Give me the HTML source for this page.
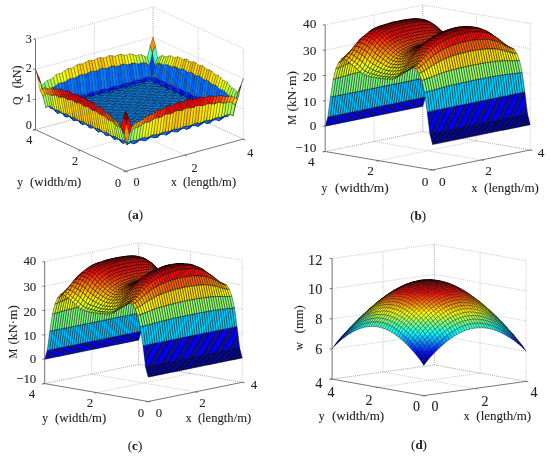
<!DOCTYPE html>
<html><head><meta charset="utf-8"><style>
html,body{margin:0;padding:0;background:#fff;width:550px;height:457px;overflow:hidden}
svg{display:block}
.g{stroke:#a0a0a0;stroke-width:0.65;stroke-dasharray:0.9 1.2;fill:none}
.ax{stroke:#666;stroke-width:0.9;fill:none}
text{font-family:"Liberation Serif",serif;fill:#222;stroke:#222;stroke-width:0.08px}
.c0{fill:#00008f}.c1{fill:#00009f}.c2{fill:#0000af}.c3{fill:#0000bf}.c4{fill:#0000cf}.c5{fill:#0000df}.c6{fill:#0000ef}.c7{fill:#0000ff}.c8{fill:#0010ff}.c9{fill:#0020ff}.c10{fill:#0030ff}.c11{fill:#0040ff}.c12{fill:#0050ff}.c13{fill:#0060ff}.c14{fill:#0070ff}.c15{fill:#0080ff}.c16{fill:#008fff}.c17{fill:#009fff}.c18{fill:#00afff}.c19{fill:#00bfff}.c20{fill:#00cfff}.c21{fill:#00dfff}.c22{fill:#00efff}.c23{fill:#00ffff}.c24{fill:#10ffef}.c25{fill:#20ffdf}.c26{fill:#30ffcf}.c27{fill:#40ffbf}.c28{fill:#50ffaf}.c29{fill:#60ff9f}.c30{fill:#70ff8f}.c31{fill:#80ff80}.c32{fill:#8fff70}.c33{fill:#9fff60}.c34{fill:#afff50}.c35{fill:#bfff40}.c36{fill:#cfff30}.c37{fill:#dfff20}.c38{fill:#efff10}.c39{fill:#ffff00}.c40{fill:#ffef00}.c41{fill:#ffdf00}.c42{fill:#ffcf00}.c43{fill:#ffbf00}.c44{fill:#ffaf00}.c45{fill:#ff9f00}.c46{fill:#ff8f00}.c47{fill:#ff8000}.c48{fill:#ff7000}.c49{fill:#ff6000}.c50{fill:#ff5000}.c51{fill:#ff4000}.c52{fill:#ff3000}.c53{fill:#ff2000}.c54{fill:#ff1000}.c55{fill:#ff0000}.c56{fill:#ef0000}.c57{fill:#df0000}.c58{fill:#cf0000}.c59{fill:#bf0000}.c60{fill:#af0000}.c61{fill:#9f0000}.c62{fill:#8f0000}.c63{fill:#800000}
</style></head><body><svg width="550" height="457" viewBox="0 0 550 457"><line x1="184.5" y1="155.1" x2="94.3" y2="113.6" class="g"/><line x1="243.3" y1="139.1" x2="153.1" y2="97.6" class="g"/><line x1="80.6" y1="150.4" x2="198.2" y2="118.3" class="g"/><line x1="35.5" y1="129.7" x2="153.1" y2="97.6" class="g"/><line x1="94.3" y1="113.6" x2="94.3" y2="22.9" class="g"/><line x1="153.1" y1="97.6" x2="153.1" y2="6.9" class="g"/><line x1="35.5" y1="129.7" x2="153.1" y2="97.6" class="g"/><line x1="35.5" y1="99.5" x2="153.1" y2="67.4" class="g"/><line x1="35.5" y1="69.2" x2="153.1" y2="37.1" class="g"/><line x1="35.5" y1="39.0" x2="153.1" y2="6.9" class="g"/><line x1="243.3" y1="139.1" x2="243.3" y2="48.4" class="g"/><line x1="198.2" y1="118.3" x2="198.2" y2="27.7" class="g"/><line x1="153.1" y1="97.6" x2="153.1" y2="6.9" class="g"/><line x1="243.3" y1="139.1" x2="153.1" y2="97.6" class="g"/><line x1="243.3" y1="108.9" x2="153.1" y2="67.4" class="g"/><line x1="243.3" y1="78.6" x2="153.1" y2="37.1" class="g"/><line x1="243.3" y1="48.4" x2="153.1" y2="6.9" class="g"/><g transform="scale(.1)" stroke="#000" stroke-width="3.2" stroke-linejoin="round"><path class="c11" d="M1517 786l30-129-23-131-29 129z"/><path class="c14" d="M1488 771l29 15-22-131-30-23z"/><path class="c9" d="M1510 814l30-41-23 13-29-15z"/><path class="c28" d="M1495 655l29-129-22-71-30 119z"/><path class="c14" d="M1540 773l29-136-22 20-30 129z"/><path class="c33" d="M1465 632l30 23-23-81-29-14z"/><path class="c28" d="M1547 657l29-79-22-121-30 69z"/><path class="c46" d="M1524 526l30-69-23-86-29 84z"/><path class="c33" d="M1569 637l30-70-23 11-29 79z"/><path class="c10" d="M1481 815l29-1-22-43-29 1z"/><path class="c15" d="M1459 772l29-1-23-139-29-9z"/><path class="c10" d="M1533 818l29-41-22-4-30 41z"/><path class="c35" d="M1436 623l29 9-22-72-30-15z"/><path class="c15" d="M1562 777l30-147-23 7-29 136z"/><path class="c8" d="M1452 838l29-23-22-43-30 15z"/><path class="c15" d="M1504 793l29 25-23-4-29 1z"/><path class="c14" d="M1429 787l30-15-23-149-29 9z"/><path class="c8" d="M1556 842l29-48-23-17-29 41z"/><path class="c35" d="M1592 630l29-75-22 12-30 70z"/><path class="c7" d="M1422 855l30-17-23-51-29 13z"/><path class="c35" d="M1407 632l29-9-23-78-29 5z"/><path class="c14" d="M1585 794l29-153-22-11-30 147z"/><path class="c13" d="M1400 800l29-13-22-155-30 7zM1526 817l30 25-23-24-29-25z"/><path class="c7" d="M1578 862l30-53-23-15-29 48z"/><path class="c9" d="M1393 846l29 9-22-55-30-1z"/><path class="c35" d="M1377 639l30-7-23-82-29 4zM1614 641l30-79-23-7-29 75z"/><path class="c13" d="M1445 822l29-8-22 24-30 17z"/><path class="c15" d="M1370 799l30 1-23-161-29-9z"/><path class="c13" d="M1608 809l29-159-23-9-29 153zM1549 827l29 35-22-20-30-25z"/><path class="c16" d="M1497 803l29 14-22-24-30 21z"/><path class="c10" d="M1363 850l30-4-23-47-29 6z"/><path class="c9" d="M1601 855l29-44-22-2-30 53z"/><path class="c38" d="M1348 630l29 9-22-85-30-12z"/><path class="c15" d="M1415 817l30 5-23 33-29-9z"/><path class="c35" d="M1637 650l29-82-22-6-30 79z"/><path class="c15" d="M1341 805l29-6-22-169-30 0zM1630 811l29-167-22 6-29 159z"/><path class="c7" d="M1334 877l29-27-22-45-29 18z"/><path class="c15" d="M1571 824l30 31-23 7-29-35z"/><path class="c39" d="M1318 630l30 0-23-88-29-3z"/><path class="c13" d="M1312 823l29-18-23-175-29 15z"/><path class="c10" d="M1623 862l30-43-23-8-29 44z"/><path class="c7" d="M1305 882l29-5-22-54-30 6z"/><path class="c38" d="M1659 644l30-86-23 10-29 82z"/><path class="c15" d="M1438 826l29-15-22 11-30-5z"/><path class="c13" d="M1357 846l29-8-23 12-29 27z"/><path class="c15" d="M1653 819l29-172-23-3-29 167z"/><path class="c38" d="M1289 645l29-15-22-91-30 12z"/><path class="c14" d="M1282 829l30-6-23-178-29 1z"/><path class="c16" d="M1490 821l29-8-22-10-30 8z"/><path class="c13" d="M1594 848l29 14-22-7-30-31z"/><path class="c7" d="M1646 891l29-52-22-20-30 43z"/><path class="c10" d="M1275 872l30 10-23-53-29-1z"/><path class="c16" d="M1409 827l29-1-23-9-29 21z"/><path class="c15" d="M1327 841l30 5-23 31-29 5zM1460 836l30-15-23-10-29 15z"/><path class="c39" d="M1260 646l29-1-23-94-29-1zM1682 647l29-89-22 0-30 86z"/><path class="c15" d="M1253 828l29 1-22-183-30-6z"/><path class="c13" d="M1675 839l30-175-23-17-29 172zM1616 858l30 33-23-29-29-14z"/><path class="c15" d="M1512 838l30-8-23-17-29 8z"/><path class="c16" d="M1564 834l30 14-23-24-29 6zM1379 835l30-8-23 11-29 8z"/><path class="c7" d="M1668 898l30-50-23-9-29 52z"/><path class="c9" d="M1246 890l29-18-22-44-30 13z"/><path class="c13" d="M1298 862l29-21-22 41-30-10z"/><path class="c16" d="M1431 837l29-1-22-10-29 1z"/><path class="c41" d="M1230 640l30 6-23-96-29-9z"/><path class="c14" d="M1223 841l30-13-23-188-29 10z"/><path class="c17" d="M1483 833l29 5-22-17-30 15z"/><path class="c38" d="M1705 664l29-92-23-14-29 89z"/><path class="c7" d="M1216 912l30-22-23-49-29 15z"/><path class="c14" d="M1698 848l29-180-22-4-30 175z"/><path class="c15" d="M1639 855l29 43-22-7-30-33z"/><path class="c16" d="M1535 842l29-8-22-4-30 8z"/><path class="c13" d="M1268 870l30-8-23 10-29 18z"/><path class="c10" d="M1691 891l29-41-22-2-30 50z"/><path class="c16" d="M1402 845l29-8-22-10-30 8z"/><path class="c13" d="M1194 856l29-15-22-191-30 14z"/><path class="c15" d="M1454 854l29-21-23 3-29 1z"/><path class="c41" d="M1201 650l29-10-22-99-30 9z"/><path class="c9" d="M1187 906l29 6-22-56-30 1z"/><path class="c16" d="M1320 851l30-1-23-9-29 21z"/><path class="c15" d="M1506 857l29-15-23-4-29-5z"/><path class="c39" d="M1727 668l29-94-22-2-29 92z"/><path class="c15" d="M1239 865l29 5-22 20-30 22zM1720 850l30-187-23 5-29 180z"/><path class="c16" d="M1558 852l29-8-23-10-29 8z"/><path class="c15" d="M1372 860l30-15-23-10-29 15z"/><path class="c14" d="M1164 857l30-1-23-192-29-4z"/><path class="c15" d="M1424 862l30-8-23-17-29 8z"/><path class="c40" d="M1171 664l30-14-23-100-29 12z"/><path class="c9" d="M1713 911l30-46-23-15-29 41z"/><path class="c16" d="M1291 859l29-8-22 11-30 8z"/><path class="c10" d="M1158 905l29 1-23-49-29 4z"/><path class="c16" d="M1476 858l30-1-23-24-29 21z"/><path class="c15" d="M1528 867l30-15-23-10-29 15z"/><path class="c16" d="M1343 861l29-1-22-10-30 1z"/><path class="c15" d="M1580 869l30-8-23-17-29 8z"/><path class="c13" d="M1684 889l29 22-22-20-30-12z"/><path class="c41" d="M1750 663l29-96-23 7-29 94z"/><path class="c14" d="M1743 865l29-189-22-13-30 187z"/><path class="c17" d="M1395 857l29 5-22-17-30 15z"/><path class="c15" d="M1135 861l29-4-22-197-29 0z"/><path class="c41" d="M1142 660l29 4-22-102-30-5z"/><path class="c16" d="M1632 865l29 14-22-24-29 6z"/><path class="c7" d="M1736 935l29-53-22-17-30 46zM1128 930l30-25-23-44-29 16z"/><path class="c15" d="M1262 874l29-15-23 11-29-5z"/><path class="c16" d="M1447 866l29-8-22-4-30 8zM1499 868l29-1-22-10-30 1zM1314 869l29-8-23-10-29 8z"/><path class="c17" d="M1551 864l29 5-22-17-30 15z"/><path class="c14" d="M1106 877l29-16-22-201-30 17z"/><path class="c15" d="M1365 878l30-21-23 3-29 1z"/><path class="c7" d="M1099 941l29-11-22-53-30 10z"/><path class="c13" d="M1765 882l30-190-23-16-29 189z"/><path class="c16" d="M1603 873l29-8-22-4-30 8z"/><path class="c15" d="M1707 886l29 49-23-24-29-22z"/><path class="c43" d="M1113 660l29 0-23-103-29-1z"/><path class="c16" d="M1232 875l30-1-23-9-29 21z"/><path class="c15" d="M1417 881l30-15-23-4-29-5z"/><path class="c16" d="M1655 875l29 14-23-10-29-14z"/><path class="c41" d="M1772 676l30-98-23-11-29 96z"/><path class="c9" d="M1759 932l29-47-23-3-29 53z"/><path class="c15" d="M1151 889l29 5-22 11-30 25z"/><path class="c16" d="M1469 876l30-8-23-10-29 8z"/><path class="c15" d="M1284 884l30-15-23-10-29 15z"/><path class="c13" d="M1076 887l30-10-23-200-29 9z"/><path class="c15" d="M1521 885l30-21-23 3-29 1zM1336 886l29-8-22-17-29 8z"/><path class="c10" d="M1069 931l30 10-23-54-29-1z"/><path class="c15" d="M1573 888l30-15-23-4-29-5z"/><path class="c41" d="M1083 677l30-17-23-104-29 16z"/><path class="c16" d="M1388 882l29-1-22-24-30 21z"/><path class="c13" d="M1121 911l30-22-23 41-29 11zM1729 910l30 22-23 3-29-49z"/><path class="c14" d="M1788 885l29-194-22 1-30 190z"/><path class="c16" d="M1625 883l30-8-23-10-29 8z"/><path class="c15" d="M1440 891l29-15-22-10-30 15z"/><path class="c40" d="M1795 692l29-100-22-14-30 98z"/><path class="c16" d="M1255 885l29-1-22-10-30 1z"/><path class="c15" d="M1492 893l29-8-22-17-30 8z"/><path class="c10" d="M1781 933l29-42-22-6-29 47z"/><path class="c15" d="M1047 886l29 1-22-201-30-5z"/><path class="c17" d="M1307 881l29 5-22-17-30 15z"/><path class="c41" d="M1054 686l29-9-22-105-30 8z"/><path class="c16" d="M1544 889l29-1-22-24-30 21z"/><path class="c15" d="M1173 898l30-15-23 11-29-5z"/><path class="c16" d="M1359 890l29-8-23-4-29 8z"/><path class="c9" d="M1040 942l29-11-22-45-30 9z"/><path class="c13" d="M1092 919l29-8-22 30-30-10z"/><path class="c15" d="M1596 898l29-15-22-10-30 15z"/><path class="c16" d="M1411 892l29-1-23-10-29 1zM1225 893l30-8-23-10-29 8z"/><path class="c15" d="M1648 901l29-8-22-18-30 8z"/><path class="c13" d="M1752 920l29 13-22-1-30-22z"/><path class="c17" d="M1462 888l30 5-23-17-29 15z"/><path class="c15" d="M1810 891l30-198-23-2-29 194z"/><path class="c41" d="M1817 691l30-101-23 2-29 100z"/><path class="c16" d="M1700 896l29 14-22-24-30 7z"/><path class="c15" d="M1277 902l30-21-23 3-29 1zM1017 895l30-9-23-205-29 10z"/><path class="c7" d="M1011 967l29-25-23-47-29 17z"/><path class="c16" d="M1514 897l30-8-23-4-29 8z"/><path class="c7" d="M1804 960l29-50-23-19-29 42z"/><path class="c16" d="M1144 899l29-1-22-9-30 22z"/><path class="c43" d="M1024 681l30 5-23-106-29-5z"/><path class="c15" d="M1329 905l30-15-23-4-29-5z"/><path class="c16" d="M1566 899l30-1-23-10-29 1z"/><path class="c15" d="M1063 913l29 6-23 12-29 11z"/><path class="c16" d="M1381 900l30-8-23-10-29 8z"/><path class="c15" d="M1196 908l29-15-22-10-30 15z"/><path class="c17" d="M1618 895l30 6-23-18-29 15z"/><path class="c15" d="M1433 910l29-22-22 3-29 1z"/><path class="c13" d="M988 912l29-17-22-204-29 19z"/><path class="c15" d="M1248 911l29-9-22-17-30 8z"/><path class="c16" d="M1670 904l30-8-23-3-29 8z"/><path class="c8" d="M981 966l30 1-23-55-29 3z"/><path class="c15" d="M1774 917l30 43-23-27-29-13zM1485 912l29-15-22-4-30-5z"/><path class="c16" d="M1115 907l29-8-23 12-29 8z"/><path class="c14" d="M1833 910l29-197-22-20-30 198z"/><path class="c16" d="M1300 906l29-1-22-24-30 21z"/><path class="c7" d="M1826 974l30-52-23-12-29 50z"/><path class="c43" d="M995 691l29-10-22-106-30 9z"/><path class="c13" d="M1033 935l30-22-23 29-29 25z"/><path class="c43" d="M1840 693l29-102-22-1-30 101z"/><path class="c16" d="M1537 907l29-8-22-10-30 8z"/><path class="c15" d="M1352 915l29-15-22-10-30 15z"/><path class="c16" d="M1166 909l30-1-23-10-29 1z"/><path class="c15" d="M1589 917l29-22-22 3-30 1zM1404 918l29-8-22-18-30 8z"/><path class="c14" d="M959 915l29-3-22-202-30 2z"/><path class="c17" d="M1218 905l30 6-23-18-29 15z"/><path class="c15" d="M1641 919l29-15-22-3-30-6z"/><path class="c16" d="M1456 913l29-1-23-24-29 22z"/><path class="c41" d="M966 710l29-19-23-107-29 18z"/><path class="c10" d="M952 960l29 6-22-51-30 1z"/><path class="c16" d="M1270 914l30-8-23-4-29 9z"/><path class="c13" d="M1004 943l29-8-22 32-30-1zM1856 922l29-198-23-11-29 197z"/><path class="c16" d="M1693 914l29-8-22-10-30 8z"/><path class="c15" d="M1508 922l29-15-23-10-29 15z"/><path class="c16" d="M1322 916l30-1-23-10-29 1zM1137 917l29-8-22-10-29 8z"/><path class="c10" d="M1849 966l29-43-22-1-30 52z"/><path class="c41" d="M1862 713l30-103-23-19-29 102z"/><path class="c15" d="M1560 925l29-8-23-18-29 8z"/><path class="c17" d="M1374 912l30 6-23-18-29 15z"/><path class="c15" d="M1189 927l29-22-22 3-30 1zM929 916l30-1-23-203-29 0z"/><path class="c16" d="M1612 920l29-1-23-24-29 22zM1426 921l30-8-23-3-29 8z"/><path class="c42" d="M936 712l30-2-23-108-29 3z"/><path class="c16" d="M1056 923l29-1-22-9-30 22z"/><path class="c8" d="M922 982l30-22-23-44-29 15z"/><path class="c15" d="M1241 929l29-15-22-3-30-6zM1663 929l30-15-23-10-29 15z"/><path class="c16" d="M1478 923l30-1-23-10-29 1z"/><path class="c15" d="M974 937l30 6-23 23-29-6z"/><path class="c16" d="M1293 924l29-8-22-10-30 8z"/><path class="c15" d="M1108 932l29-15-22-10-30 15z"/><path class="c13" d="M1819 951l30 15-23 8-29-33z"/><path class="c15" d="M1715 932l30-8-23-18-29 8z"/><path class="c17" d="M1530 919l30 6-23-18-29 15z"/><path class="c15" d="M1878 923l30-202-23 3-29 198z"/><path class="c16" d="M1767 927l30 14-23-24-29 7z"/><path class="c15" d="M1345 934l29-22-22 3-30 1zM1160 935l29-8-23-18-29 8z"/><path class="c41" d="M1885 724l29-104-22-10-30 103z"/><path class="c14" d="M900 931l29-15-22-204-30 18z"/><path class="c16" d="M1582 928l30-8-23-3-29 8z"/><path class="c7" d="M893 999l29-17-22-51-30 13z"/><path class="c9" d="M1871 980l30-45-23-12-29 43z"/><path class="c15" d="M1397 936l29-15-22-3-30-6z"/><path class="c16" d="M1026 931l30-8-23 12-29 8zM1212 930l29-1-23-24-29 22z"/><path class="c43" d="M907 712l29 0-22-107-30 0z"/><path class="c16" d="M1634 931l29-2-22-10-29 1zM1449 932l29-9-22-10-30 8z"/><path class="c15" d="M1264 939l29-15-23-10-29 15z"/><path class="c16" d="M1078 933l30-1-23-10-29 1z"/><path class="c17" d="M1686 926l29 6-22-18-30 15z"/><path class="c15" d="M1501 941l29-22-22 3-30 1zM1315 942l30-8-23-18-29 8z"/><path class="c13" d="M870 944l30-13-23-201-29 15z"/><path class="c17" d="M1130 929l30 6-23-18-29 15z"/><path class="c16" d="M1738 935l29-8-22-3-30 8z"/><path class="c15" d="M1553 943l29-15-22-3-30-6zM1842 948l29 32-22-14-30-15z"/><path class="c9" d="M864 990l29 9-23-55-29-1z"/><path class="c16" d="M1790 938l29 13-22-10-30-14zM1367 937l30-1-23-24-29 22z"/><path class="c15" d="M1901 935l29-202-22-12-30 202zM997 946l29-15-22 12-30-6z"/><path class="c16" d="M1182 938l30-8-23-3-29 8z"/><path class="c42" d="M877 730l30-18-23-107-29 18z"/><path class="c7" d="M1894 1007l29-53-22-19-30 45z"/><path class="c13" d="M916 967l29-8-23 23-29 17z"/><path class="c43" d="M1908 721l29-104-23 3-29 104z"/><path class="c16" d="M1605 939l29-8-22-11-30 8z"/><path class="c15" d="M1419 946l30-14-23-11-29 15z"/><path class="c16" d="M1234 941l30-2-23-10-29 1zM1049 941l29-8-22-10-30 8z"/><path class="c15" d="M1657 948l29-22-23 3-29 2zM1471 949l30-8-23-18-29 9z"/><path class="c17" d="M1286 936l29 6-22-18-29 15z"/><path class="c15" d="M841 943l29 1-22-199-29-1zM1101 951l29-22-22 3-30 1zM1709 950l29-15-23-3-29-6z"/><path class="c16" d="M1523 944l30-1-23-24-29 22z"/><path class="c41" d="M848 745l29-15-22-107-30 16z"/><path class="c16" d="M1338 945l29-8-22-3-30 8zM968 947l29-1-23-9-29 22z"/><path class="c15" d="M1153 953l29-15-22-3-30-6z"/><path class="c10" d="M834 995l30-5-23-47-29 7z"/><path class="c13" d="M1864 972l30 35-23-27-29-32z"/><path class="c16" d="M1760 946l30-8-23-11-29 8z"/><path class="c15" d="M1575 953l30-14-23-11-29 15z"/><path class="c13" d="M1923 954l30-200-23-21-29 202z"/><path class="c15" d="M886 961l30 6-23 32-29-9z"/><path class="c16" d="M1390 948l29-2-22-10-30 1z"/><path class="c8" d="M1916 1008l30-48-23-6-29 53z"/><path class="c16" d="M1205 949l29-8-22-11-30 8z"/><path class="c15" d="M1019 956l30-15-23-10-29 15zM1627 956l30-8-23-17-29 8z"/><path class="c17" d="M1442 943l29 6-22-17-30 14z"/><path class="c43" d="M1930 733l29-105-22-11-29 104z"/><path class="c15" d="M1257 958l29-22-22 3-30 2zM1071 959l30-8-23-18-29 8zM812 950l29-7-22-199-30 8z"/><path class="c16" d="M1679 951l30-1-23-24-29 22zM1494 952l29-8-22-3-30 8z"/><path class="c42" d="M819 744l29 1-23-106-29 0z"/><path class="c7" d="M805 1021l29-26-22-45-30 17z"/><path class="c15" d="M1309 960l29-15-23-3-29-6z"/><path class="c16" d="M1123 954l30-1-23-24-29 22z"/><path class="c15" d="M1731 960l29-14-22-11-29 15z"/><path class="c16" d="M1546 955l29-2-22-10-30 1z"/><path class="c13" d="M1887 983l29 25-22-1-30-35z"/><path class="c16" d="M1361 956l29-8-23-11-29 8z"/><path class="c13" d="M857 983l29-22-22 29-30 5z"/><path class="c15" d="M1175 963l30-14-23-11-29 15zM1783 963l29-8-22-17-30 8z"/><path class="c16" d="M990 958l29-2-22-10-29 1z"/><path class="c14" d="M1946 960l29-201-22-5-30 200z"/><path class="c17" d="M1598 950l29 6-22-17-30 14z"/><path class="c16" d="M1835 958l29 14-22-24-30 7z"/><path class="c15" d="M1413 965l29-22-23 3-29 2zM1227 966l30-8-23-17-29 8z"/><path class="c13" d="M782 967l30-17-23-198-29 22z"/><path class="c17" d="M1042 953l29 6-22-18-30 15z"/><path class="c16" d="M1650 959l29-8-22-3-30 8z"/><path class="c41" d="M1953 754l29-105-23-21-29 105z"/><path class="c10" d="M1939 1005l29-42-22-3-30 48z"/><path class="c15" d="M1465 967l29-15-23-3-29-6z"/><path class="c16" d="M1279 961l30-1-23-24-29 22z"/><path class="c42" d="M789 752l30-8-23-105-29 10z"/><path class="c15" d="M909 970l29-15-22 12-30-6z"/><path class="c16" d="M1094 962l29-8-22-3-30 8zM1702 962l29-2-22-10-30 1zM1516 963l30-8-23-11-29 8z"/><path class="c15" d="M1331 970l30-14-23-11-29 15z"/><path class="c16" d="M1146 965l29-2-22-10-30 1z"/><path class="c17" d="M1754 957l29 6-23-17-29 14z"/><path class="c16" d="M961 966l29-8-22-11-30 8z"/><path class="c15" d="M1568 972l30-22-23 3-29 2zM1383 973l30-8-23-17-29 8z"/><path class="c14" d="M753 974l29-7-22-193-30 9z"/><path class="c17" d="M1198 960l29 6-22-17-30 14z"/><path class="c16" d="M1806 966l29-8-23-3-29 8z"/><path class="c15" d="M1013 975l29-22-23 3-29 2zM1910 979l29 26-23 3-29-25zM1620 974l30-15-23-3-29-6z"/><path class="c16" d="M1858 969l29 14-23-11-29-14z"/><path class="c40" d="M760 774l29-22-22-103-30 23z"/><path class="c15" d="M1968 963l30-202-23-2-29 201z"/><path class="c16" d="M1435 968l30-1-23-24-29 22zM1250 969l29-8-22-3-30 8zM879 971l30-1-23-9-29 22z"/><path class="c42" d="M1975 759l30-105-23-5-29 105z"/><path class="c15" d="M1065 977l29-15-23-3-29-6z"/><path class="c8" d="M1961 1029l30-48-23-18-29 42z"/><path class="c16" d="M1672 970l30-8-23-11-29 8z"/><path class="c15" d="M1487 977l29-14-22-11-29 15z"/><path class="c16" d="M1302 972l29-2-22-10-30 1zM1117 973l29-8-23-11-29 8z"/><path class="c15" d="M1724 979l30-22-23 3-29 2zM931 980l30-14-23-11-29 15zM1539 980l29-8-22-17-30 8z"/><path class="c17" d="M1354 967l29 6-22-17-30 14z"/><path class="c15" d="M724 973l29 1-23-191-29 1zM1168 982l30-22-23 3-29 2z"/><path class="c40" d="M730 783l30-9-23-102-29 11z"/><path class="c15" d="M1776 981l30-15-23-3-29-6zM983 983l30-8-23-17-29 8z"/><path class="c16" d="M1591 975l29-1-22-24-30 22zM1406 976l29-8-22-3-30 8z"/><path class="c15" d="M1220 984l30-15-23-3-29-6z"/><path class="c16" d="M850 979l29-8-22 12-30 8zM1828 977l30-8-23-11-29 8zM1035 978l30-1-23-24-29 22z"/><path class="c15" d="M1643 985l29-15-22-11-30 15z"/><path class="c16" d="M1458 979l29-2-22-10-30 1z"/><path class="c14" d="M1991 981l29-200-22-20-30 202z"/><path class="c16" d="M1272 980l30-8-23-11-29 8z"/><path class="c15" d="M1087 987l30-14-23-11-29 15zM1695 987l29-8-22-17-30 8z"/><path class="c16" d="M902 982l29-2-22-10-30 1z"/><path class="c43" d="M1998 761l29-104-22-3-30 105z"/><path class="c17" d="M1510 974l29 6-23-17-29 14z"/><path class="c15" d="M1324 989l30-22-23 3-29 2zM1139 990l29-8-22-17-29 8z"/><path class="c14" d="M694 986l30-13-23-189-29 18z"/><path class="c16" d="M1747 982l29-1-22-24-30 22z"/><path class="c41" d="M701 784l29-1-22-100-30 3z"/><path class="c17" d="M954 977l29 6-22-17-30 14z"/><path class="c16" d="M1562 983l29-8-23-3-29 8z"/><path class="c15" d="M1376 991l30-15-23-3-29-6z"/><path class="c16" d="M1191 985l29-1-22-24-30 22z"/><path class="c15" d="M1799 992l29-15-22-11-30 15z"/><path class="c16" d="M1006 986l29-8-22-3-30 8zM1614 986l29-1-23-11-29 1zM1428 987l30-8-23-11-29 8z"/><path class="c15" d="M1243 994l29-14-22-11-30 15zM1851 994l29-8-22-17-30 8z"/><path class="c16" d="M1058 989l29-2-22-10-30 1z"/><path class="c13" d="M2013 996l30-197-23-18-29 200z"/><path class="c17" d="M1665 981l30 6-23-17-29 15z"/><path class="c16" d="M1903 989l29 14-22-24-30 7zM872 990l30-8-23-11-29 8z"/><path class="c15" d="M1480 996l30-22-23 3-29 2z"/><path class="c13" d="M665 1001l29-15-22-184-30 21z"/><path class="c15" d="M1295 997l29-8-22-17-30 8z"/><path class="c17" d="M1110 984l29 6-22-17-30 14z"/><path class="c16" d="M1717 990l30-8-23-3-29 8z"/><path class="c40" d="M672 802l29-18-23-98-29 20z"/><path class="c15" d="M924 999l30-22-23 3-29 2z"/><path class="c42" d="M2020 781l30-103-23-21-29 104z"/><path class="c15" d="M1532 998l30-15-23-3-29-6z"/><path class="c16" d="M1347 992l29-1-22-24-30 22zM1162 993l29-8-23-3-29 8zM1769 993l30-1-23-11-29 1z"/><path class="c15" d="M976 1001l30-15-23-3-29-6z"/><path class="c16" d="M1584 994l30-8-23-11-29 8z"/><path class="c15" d="M1399 1002l29-15-22-11-30 15z"/><path class="c16" d="M1214 996l29-2-23-10-29 1z"/><path class="c17" d="M1821 988l30 6-23-17-29 15z"/><path class="c16" d="M1028 997l30-8-23-11-29 8z"/><path class="c15" d="M1636 1003l29-22-22 4-29 1zM843 1004l29-14-22-11-29 15z"/><path class="c14" d="M635 1002l30-1-23-178-29 4z"/><path class="c15" d="M1451 1004l29-8-22-17-30 8z"/><path class="c38" d="M642 823l30-21-23-96-29 23z"/><path class="c17" d="M1266 991l29 6-23-17-29 14z"/><path class="c16" d="M1873 997l30-8-23-3-29 8z"/><path class="c15" d="M1080 1006l30-22-23 3-29 2zM2036 997l29-197-22-1-30 197zM1688 1005l29-15-22-3-30-6zM895 1007l29-8-22-17-30 8z"/><path class="c16" d="M1503 999l29-1-22-24-30 22zM1318 1000l29-8-23-3-29 8z"/><path class="c41" d="M2043 799l29-103-22-18-30 103z"/><path class="c15" d="M1132 1008l30-15-23-3-29-6z"/><path class="c16" d="M1740 1001l29-8-22-11-30 8zM947 1002l29-1-22-24-30 22z"/><path class="c15" d="M1555 1009l29-15-22-11-30 15z"/><path class="c16" d="M1369 1003l30-1-23-11-29 1zM1184 1004l30-8-23-11-29 8z"/><path class="c15" d="M1792 1010l29-22-22 4-30 1zM999 1012l29-15-22-11-30 15z"/><path class="c38" d="M613 827l29-4-22-94-30 7z"/><path class="c15" d="M1607 1011l29-8-22-17-30 8z"/><path class="c17" d="M1421 998l30 6-23-17-29 15z"/><path class="c15" d="M606 1005l29-3-22-175-30 8zM1236 1013l30-22-23 3-29 2zM1844 1012l29-15-22-3-30-6zM1051 1014l29-8-22-17-30 8z"/><path class="c16" d="M1659 1006l29-1-23-24-29 22z"/><path class="c17" d="M866 1001l29 6-23-17-29 14z"/><path class="c16" d="M1473 1007l30-8-23-3-29 8z"/><path class="c15" d="M1288 1015l30-15-23-3-29-6z"/><path class="c16" d="M1896 1008l29-8-22-11-30 8zM1103 1009l29-1-22-24-30 22z"/><path class="c15" d="M1711 1016l29-15-23-11-29 15z"/><path class="c16" d="M918 1010l29-8-23-3-29 8z"/><path class="c15" d="M2058 1006l30-195-23-11-29 197z"/><path class="c16" d="M1525 1010l30-1-23-11-29 1z"/><path class="c42" d="M2065 800l30-102-23-2-29 103z"/><path class="c16" d="M1340 1011l29-8-22-11-29 8z"/><path class="c15" d="M1155 1019l29-15-22-11-30 15zM1763 1018l29-8-23-17-29 8z"/><path class="c16" d="M970 1013l29-1-23-11-29 1z"/><path class="c38" d="M583 835l30-8-23-91-29 11z"/><path class="c17" d="M1577 1005l30 6-23-17-29 15z"/><path class="c14" d="M576 1022l30-17-23-170-29 25z"/><path class="c15" d="M1392 1020l29-22-22 4-30 1zM1207 1021l29-8-22-17-30 8z"/><path class="c16" d="M1814 1014l30-2-23-24-29 22z"/><path class="c17" d="M1022 1008l29 6-23-17-29 15z"/><path class="c16" d="M1629 1015l30-9-23-3-29 8z"/><path class="c15" d="M1444 1022l29-15-22-3-30-6z"/><path class="c16" d="M1259 1016l29-1-22-24-30 22z"/><path class="c15" d="M1866 1023l30-15-23-11-29 15z"/><path class="c16" d="M1073 1017l30-8-23-3-29 8zM1681 1017l30-1-23-11-29 1z"/><path class="c15" d="M888 1025l30-15-23-3-29-6z"/><path class="c16" d="M1496 1018l29-8-22-11-30 8z"/><path class="c15" d="M1311 1026l29-15-22-11-30 15z"/><path class="c36" d="M554 860l29-25-22-88-30 28z"/><path class="c16" d="M1125 1020l30-1-23-11-29 1z"/><path class="c13" d="M2081 1026l29-191-22-24-30 195zM547 1031l29-9-22-162-29 17z"/><path class="c17" d="M1733 1012l30 6-23-17-29 15z"/><path class="c16" d="M940 1021l30-8-23-11-29 8z"/><path class="c15" d="M1548 1027l29-22-22 4-30 1zM1363 1028l29-8-23-17-29 8z"/><path class="c17" d="M1177 1015l30 6-23-17-29 15z"/><path class="c16" d="M1785 1022l29-8-22-4-29 8z"/><path class="c42" d="M2088 811l29-101-22-12-30 102z"/><path class="c15" d="M992 1030l30-22-23 4-29 1zM1600 1029l29-14-22-4-30-6z"/><path class="c16" d="M1415 1024l29-2-23-24-29 22zM1229 1024l30-8-23-3-29 8zM1837 1024l29-1-22-11-30 2z"/><path class="c34" d="M525 877l29-17-23-85-29 21z"/><path class="c15" d="M1044 1032l29-15-22-3-29-6z"/><path class="c16" d="M1652 1025l29-8-22-11-30 9z"/><path class="c15" d="M1466 1033l30-15-23-11-29 15z"/><path class="c16" d="M1281 1027l30-1-23-11-29 1zM1096 1028l29-8-22-11-30 8z"/><path class="c15" d="M1704 1034l29-22-22 4-30 1zM911 1036l29-15-22-11-30 15zM1518 1035l30-8-23-17-29 8z"/><path class="c14" d="M2104 1035l29-188-23-12-29 191z"/><path class="c17" d="M1333 1022l30 6-23-17-29 15z"/><path class="c15" d="M1148 1037l29-22-22 4-30 1zM1756 1036l29-14-22-4-30-6zM963 1038l29-8-22-17-30 8z"/><path class="c16" d="M1570 1031l30-2-23-24-29 22z"/><path class="c40" d="M2110 835l30-99-23-26-29 101z"/><path class="c16" d="M1385 1032l30-8-23-4-29 8z"/><path class="c35" d="M495 881l30-4-23-81-29 8z"/><path class="c15" d="M1200 1039l29-15-22-3-30-6z"/><path class="c16" d="M1808 1032l29-8-23-10-29 8zM1015 1033l29-1-22-24-30 22z"/><path class="c15" d="M1622 1040l30-15-23-10-29 14z"/><path class="c9" d="M511 1086l29-11-22-45-30 10z"/><path class="c16" d="M1437 1034l29-1-22-11-29 2zM1252 1035l29-8-22-11-30 8z"/><path class="c15" d="M1067 1043l29-15-23-11-29 15zM1674 1042l30-8-23-17-29 8z"/><path class="c17" d="M1489 1029l29 6-22-17-30 15z"/><path class="c15" d="M1304 1044l29-22-22 4-30 1zM1119 1045l29-8-23-17-29 8z"/><path class="c16" d="M1726 1038l30-2-23-24-29 22z"/><path class="c17" d="M933 1032l30 6-23-17-29 15z"/><path class="c16" d="M1541 1039l29-8-22-4-30 8z"/><path class="c33" d="M466 900l29-19-22-77-30 24z"/><path class="c15" d="M1356 1046l29-14-22-4-30-6zM2126 1036l30-186-23-3-29 188z"/><path class="c16" d="M1170 1041l30-2-23-24-29 22z"/><path class="c15" d="M1778 1047l30-15-23-10-29 14z"/><path class="c40" d="M2133 847l29-98-22-13-30 99z"/><path class="c16" d="M985 1042l30-9-23-3-29 8zM1593 1041l29-1-22-11-30 2z"/><path class="c14" d="M481 1062l30 24-23-46-29 35z"/><path class="c16" d="M1408 1042l29-8-22-10-30 8z"/><path class="c15" d="M1222 1050l30-15-23-11-29 15z"/><path class="c10" d="M533 1091l30-28-23 12-29 11z"/><path class="c16" d="M1037 1044l30-1-23-11-29 1z"/><path class="c17" d="M1645 1036l29 6-22-17-30 15z"/><path class="c28" d="M436 944l30-44-23-72-29 34z"/><path class="c15" d="M1460 1051l29-22-23 4-29 1zM1274 1052l30-8-23-17-29 8z"/><path class="c17" d="M1089 1039l30 6-23-17-29 15z"/><path class="c16" d="M1697 1046l29-8-22-4-30 8z"/><path class="c15" d="M1512 1053l29-14-23-4-29-6z"/><path class="c16" d="M1326 1048l30-2-23-24-29 22zM1141 1049l29-8-22-4-29 8zM1749 1048l29-1-22-11-30 2z"/><path class="c15" d="M956 1056l29-14-22-4-30-6z"/><path class="c16" d="M1564 1049l29-8-23-10-29 8z"/><path class="c15" d="M1378 1057l30-15-23-10-29 14z"/><path class="c14" d="M2149 1051l29-181-22-20-30 186z"/><path class="c16" d="M1193 1051l29-1-22-11-30 2z"/><path class="c41" d="M2156 850l29-96-23-5-29 98z"/><path class="c16" d="M1008 1052l29-8-22-11-30 9z"/><path class="c15" d="M1616 1058l29-22-23 4-29 1zM504 1065l29 26-22-5-30-24zM1430 1059l30-8-23-17-29 8z"/><path class="c17" d="M1245 1046l29 6-22-17-30 15z"/><path class="c8" d="M556 1115l29-48-22-4-30 28z"/><path class="c15" d="M1060 1061l29-22-22 4-30 1zM1667 1060l30-14-23-4-29-6z"/><path class="c16" d="M1482 1055l30-2-23-24-29 22z"/><path class="c28" d="M430 962l29 113-23-131-29-113z"/><path class="c16" d="M1297 1056l29-8-22-4-30 8z"/><path class="c15" d="M1112 1063l29-14-22-4-30-6z"/><path class="c16" d="M1719 1056l30-8-23-10-29 8z"/><path class="c15" d="M1534 1064l30-15-23-10-29 14z"/><path class="c16" d="M1349 1058l29-1-22-11-30 2z"/><path class="c46" d="M407 831l29 113-22-82-30-102z"/><path class="c33" d="M452 942l29 120-22 13-29-113z"/><path class="c16" d="M1164 1059l29-8-23-10-29 8z"/><path class="c15" d="M978 1067l30-15-23-10-29 14zM1586 1066l30-8-23-17-29 8z"/><path class="c13" d="M2171 1069l30-175-23-24-29 181z"/><path class="c17" d="M1401 1054l29 5-22-17-30 15z"/><path class="c15" d="M1216 1068l29-22-23 4-29 1z"/><path class="c40" d="M2178 870l30-94-23-22-29 96z"/><path class="c15" d="M1030 1069l30-8-23-17-29 8z"/><path class="c16" d="M1638 1062l29-2-22-24-29 22zM1453 1063l29-8-22-4-30 8z"/><path class="c15" d="M1268 1070l29-14-23-4-29-6z"/><path class="c7" d="M578 1135l30-58-23-10-29 48z"/><path class="c16" d="M1082 1065l30-2-23-24-29 22z"/><path class="c15" d="M1690 1071l29-15-22-10-30 14z"/><path class="c16" d="M1505 1065l29-1-22-11-30 2zM1320 1066l29-8-23-10-29 8z"/><path class="c15" d="M1134 1074l30-15-23-10-29 14z"/><path class="c17" d="M1557 1061l29 5-22-17-30 15z"/><path class="c15" d="M1371 1075l30-21-23 3-29 1zM1186 1076l30-8-23-17-29 8z"/><path class="c14" d="M2194 1072l29-172-22-6-30 175z"/><path class="c17" d="M1001 1063l29 6-22-17-30 15z"/><path class="c16" d="M1609 1070l29-8-22-4-30 8z"/><path class="c38" d="M2201 894l29-92-22-26-30 94z"/><path class="c15" d="M1423 1077l30-14-23-4-29-5z"/><path class="c13" d="M549 1098l29 37-22-20-29-32z"/><path class="c16" d="M1238 1072l30-2-23-24-29 22zM1053 1073l29-8-22-4-30 8z"/><path class="c35" d="M475 935l29 130-23-3-29-120z"/><path class="c16" d="M1661 1072l29-1-23-11-29 2zM1475 1073l30-8-23-10-29 8z"/><path class="c15" d="M1290 1081l30-15-23-10-29 14z"/><path class="c9" d="M601 1128l29-34-22-17-30 58z"/><path class="c16" d="M1105 1075l29-1-22-11-30 2z"/><path class="c15" d="M1527 1082l30-21-23 3-29 1zM1342 1083l29-8-22-17-29 8z"/><path class="c39" d="M400 899l30 63-23-131-29-53z"/><path class="c17" d="M1157 1071l29 5-22-17-30 15z"/><path class="c15" d="M972 1085l29-22-23 4-29 1zM1579 1085l30-15-23-4-29-5z"/><path class="c16" d="M1394 1079l29-2-22-23-30 21zM1209 1080l29-8-22-4-30 8z"/><path class="c55" d="M378 778l29 53-23-71-29-68z"/><path class="c38" d="M2223 900l30-89-23-9-29 92z"/><path class="c15" d="M1024 1087l29-14-23-4-29-6z"/><path class="c42" d="M423 888l29 54-22 20-30-63z"/><path class="c15" d="M2216 1078l30-168-23-10-29 172z"/><path class="c16" d="M1631 1080l30-8-23-10-29 8z"/><path class="c15" d="M1446 1088l29-15-22-10-30 14z"/><path class="c16" d="M1261 1082l29-1-22-11-30 2z"/><path class="c15" d="M572 1100l29 28-23 7-29-37z"/><path class="c16" d="M1075 1083l30-8-23-10-29 8z"/><path class="c35" d="M497 946l30 137-23-18-29-130z"/><path class="c15" d="M1498 1090l29-8-22-17-30 8z"/><path class="c17" d="M1313 1078l29 5-22-17-30 15z"/><path class="c15" d="M1127 1092l30-21-23 3-29 1z"/><path class="c10" d="M624 1135l29-37-23-4-29 34z"/><path class="c16" d="M1550 1086l29-1-22-24-30 21zM1365 1087l29-8-23-4-29 8z"/><path class="c15" d="M1179 1095l30-15-23-4-29-5z"/><path class="c16" d="M994 1089l30-2-23-24-29 22z"/><path class="c15" d="M1602 1095l29-15-22-10-30 15z"/><path class="c16" d="M1417 1089l29-1-23-11-29 2z"/><path class="c38" d="M2246 910l29-86-22-13-30 89z"/><path class="c16" d="M1231 1090l30-8-23-10-29 8z"/><path class="c14" d="M2239 1097l29-159-22-28-30 168z"/><path class="c15" d="M1046 1098l29-15-22-10-29 14zM1654 1097l29-8-22-17-30 8z"/><path class="c17" d="M1468 1085l30 5-23-17-29 15z"/><path class="c15" d="M1283 1099l30-21-23 3-29 1zM1098 1100l29-8-22-17-30 8z"/><path class="c35" d="M520 955l29 143-22-15-30-137z"/><path class="c15" d="M594 1108l30 27-23-7-29-28z"/><path class="c16" d="M1520 1094l30-8-23-4-29 8z"/><path class="c45" d="M445 876l30 59-23 7-29-54z"/><path class="c15" d="M1335 1102l30-15-23-4-29-5z"/><path class="c7" d="M646 1164l30-56-23-10-29 37z"/><path class="c16" d="M1150 1096l29-1-22-24-30 21zM1572 1096l30-1-23-10-29 1zM1387 1097l30-8-23-10-29 8z"/><path class="c15" d="M1202 1105l29-15-22-10-30 15z"/><path class="c16" d="M1017 1099l29-1-22-11-30 2z"/><path class="c17" d="M1624 1092l30 5-23-17-29 15z"/><path class="c36" d="M2268 938l30-83-23-31-29 86z"/><path class="c13" d="M2261 1109l30-152-23-19-29 159z"/><path class="c15" d="M1439 1106l29-21-22 3-29 1zM1254 1107l29-8-22-17-30 8z"/><path class="c17" d="M1069 1095l29 5-23-17-29 15z"/><path class="c15" d="M1491 1109l29-15-22-4-30-5z"/><path class="c16" d="M1306 1103l29-1-22-24-30 21zM1121 1104l29-8-23-4-29 8z"/><path class="c38" d="M542 949l30 151-23-2-29-143z"/><path class="c16" d="M1543 1104l29-8-22-10-30 8z"/><path class="c15" d="M1358 1112l29-15-22-10-30 15z"/><path class="c7" d="M669 1171l29-46-22-17-30 56z"/><path class="c16" d="M1172 1106l30-1-23-10-29 1z"/><path class="c45" d="M468 883l29 63-22-11-30-59z"/><path class="c15" d="M1595 1113l29-21-22 3-30 1z"/><path class="c34" d="M2291 957l29-79-22-23-30 83z"/><path class="c15" d="M1410 1114l29-8-22-17-30 8z"/><path class="c17" d="M1224 1102l30 5-23-17-29 15z"/><path class="c15" d="M1039 1116l30-21-23 3-29 1z"/><path class="c16" d="M1462 1110l29-1-23-24-29 21zM1276 1111l30-8-23-4-29 8z"/><path class="c15" d="M1091 1119l30-15-23-4-29-5zM1514 1119l29-15-23-10-29 15z"/><path class="c16" d="M1328 1113l30-1-23-10-29 1z"/><path class="c14" d="M639 1137l30 34-23-7-29-36z"/><path class="c16" d="M1143 1114l29-8-22-10-29 8z"/><path class="c15" d="M1566 1121l29-8-23-17-29 8z"/><path class="c17" d="M1380 1109l30 5-23-17-29 15z"/><path class="c39" d="M565 952l29 156-22-8-30-151z"/><path class="c10" d="M691 1164l30-35-23-4-29 46z"/><path class="c15" d="M1195 1123l29-21-22 3-30 1z"/><path class="c46" d="M490 889l30 66-23-9-29-63z"/><path class="c35" d="M2313 963l30-74-23-11-29 79z"/><path class="c16" d="M1432 1118l30-8-23-4-29 8z"/><path class="c15" d="M1247 1126l29-15-22-4-30-5z"/><path class="c16" d="M1062 1120l29-1-22-24-30 21zM1484 1120l30-1-23-10-29 1zM1299 1121l29-8-22-10-30 8z"/><path class="c15" d="M1114 1129l29-15-22-10-30 15z"/><path class="c10" d="M2248 1168l29-2-22-13-30-15z"/><path class="c17" d="M1536 1116l30 5-23-17-29 15z"/><path class="c15" d="M1351 1130l29-21-22 3-30 1zM1166 1131l29-8-23-17-29 8zM662 1138l29 26-22 7-30-34zM1403 1133l29-15-22-4-30-5z"/><path class="c38" d="M587 969l30 159-23-20-29-156z"/><path class="c33" d="M2336 985l29-71-22-25-30 74z"/><path class="c14" d="M2300 1144l29 16-22-38-30 44z"/><path class="c16" d="M1218 1127l29-1-23-24-29 21z"/><path class="c9" d="M714 1184l29-45-22-10-30 35z"/><path class="c16" d="M1032 1128l30-8-23-4-29 8z"/><path class="c11" d="M2329 1160l29-129-22-46-29 137z"/><path class="c16" d="M1455 1128l29-8-22-10-30 8z"/><path class="c49" d="M513 879l29 70-22 6-30-66z"/><path class="c15" d="M1270 1136l29-15-23-10-29 15z"/><path class="c16" d="M1084 1130l30-1-23-10-29 1z"/><path class="c15" d="M1507 1137l29-21-22 3-30 1zM1322 1138l29-8-23-17-29 8z"/><path class="c8" d="M2218 1190l30-22-23-30-29 1z"/><path class="c17" d="M1136 1126l30 5-23-17-29 15z"/><path class="c15" d="M1559 1140l29-15-22-4-30-5z"/><path class="c28" d="M2358 1031l30-79-23-38-29 71z"/><path class="c16" d="M1373 1134l30-1-23-24-29 21zM1188 1135l30-8-23-4-29 8z"/><path class="c15" d="M2270 1145l30-1-23 22-29 2z"/><path class="c14" d="M684 1153l30 31-23-20-29-26z"/><path class="c15" d="M1425 1143l30-15-23-10-29 15z"/><path class="c39" d="M610 973l29 164-22-9-30-159z"/><path class="c7" d="M736 1208l30-52-23-17-29 45z"/><path class="c16" d="M1240 1137l30-1-23-10-29 1zM1055 1138l29-8-22-10-30 8z"/><path class="c15" d="M1477 1145l30-8-23-17-29 8z"/><path class="c7" d="M2189 1208l29-18-22-51-30 8z"/><path class="c17" d="M1292 1133l30 5-23-17-29 15z"/><path class="c15" d="M1107 1147l29-21-22 3-30 1z"/><path class="c51" d="M535 879l30 73-23-3-29-70z"/><path class="c16" d="M1529 1141l30-1-23-24-29 21zM1344 1142l29-8-22-4-29 8z"/><path class="c14" d="M2241 1160l29-15-22 23-30 22z"/><path class="c15" d="M1159 1150l29-15-22-4-30-5z"/><path class="c16" d="M1396 1144l29-1-22-10-30 1z"/><path class="c13" d="M707 1171l29 37-22-24-30-31z"/><path class="c28" d="M2352 1049l29-129-23 111-29 129z"/><path class="c16" d="M1211 1145l29-8-22-10-30 8z"/><path class="c33" d="M2322 1027l30 22-23 111-29-16z"/><path class="c9" d="M759 1204l29-44-22-4-30 52z"/><path class="c17" d="M1448 1140l29 5-22-17-30 15z"/><path class="c9" d="M2160 1198l29 10-23-61-29 15z"/><path class="c15" d="M1263 1154l29-21-22 3-30 1z"/><path class="c41" d="M632 968l30 170-23-1-29-164z"/><path class="c15" d="M1077 1155l30-8-23-17-29 8z"/><path class="c16" d="M1500 1149l29-8-22-4-30 8z"/><path class="c13" d="M2212 1173l29-13-23 30-29 18z"/><path class="c15" d="M1315 1157l29-15-22-4-30-5z"/><path class="c46" d="M2381 920l29-68-22 100-30 79z"/><path class="c16" d="M1129 1151l30-1-23-24-29 21z"/><path class="c50" d="M558 893l29 76-22-17-30-73z"/><path class="c16" d="M1367 1152l29-8-23-10-29 8z"/><path class="c15" d="M1181 1160l30-15-23-10-29 15zM1419 1161l29-21-23 3-29 1z"/><path class="c14" d="M730 1174l29 30-23 4-29-37z"/><path class="c15" d="M1233 1162l30-8-23-17-29 8z"/><path class="c10" d="M2130 1203l30-5-23-36-29 2z"/><path class="c35" d="M2293 1017l29 10-22 117-30 1z"/><path class="c15" d="M1470 1164l30-15-23-4-29-5zM2182 1172l30 1-23 35-29-10z"/><path class="c16" d="M1285 1158l30-1-23-24-29 21z"/><path class="c10" d="M781 1206l30-36-23-10-29 44z"/><path class="c16" d="M1100 1159l29-8-22-4-30 8z"/><path class="c41" d="M655 981l29 172-22-15-30-170z"/><path class="c15" d="M1337 1167l30-15-23-10-29 15z"/><path class="c16" d="M1152 1161l29-1-22-10-30 1z"/><path class="c51" d="M580 895l30 78-23-4-29-76z"/><path class="c15" d="M1389 1169l30-8-23-17-29 8z"/><path class="c7" d="M2101 1230l29-27-22-39-30 8z"/><path class="c17" d="M1204 1157l29 5-22-17-30 15z"/><path class="c16" d="M1441 1165l29-1-22-24-29 21z"/><path class="c35" d="M2263 1026l30-9-23 128-29 15z"/><path class="c15" d="M2153 1179l29-7-22 26-30 5zM752 1180l29 26-22-2-29-30z"/><path class="c16" d="M1308 1168l29-1-22-10-30 1z"/><path class="c7" d="M804 1233l29-45-22-18-30 36z"/><path class="c40" d="M678 997l29 174-23-18-29-172z"/><path class="c39" d="M2374 989l30-119-23 50-29 129z"/><path class="c16" d="M1123 1169l29-8-23-10-29 8z"/><path class="c42" d="M2345 975l29 14-22 60-30-22z"/><path class="c7" d="M2071 1235l30-5-23-58-29 14z"/><path class="c17" d="M1360 1164l29 5-22-17-30 15z"/><path class="c15" d="M1175 1178l29-21-23 3-29 1z"/><path class="c16" d="M1412 1173l29-8-22-4-30 8z"/><path class="c35" d="M2234 1033l29-7-22 134-29 13z"/><path class="c13" d="M2123 1196l30-17-23 24-29 27z"/><path class="c55" d="M2404 870l29-84-23 66-29 68z"/><path class="c15" d="M1226 1181l30-15-23-4-29-5z"/><path class="c54" d="M603 888l29 80-22 5-30-78z"/><path class="c16" d="M1464 1175l29-1-23-10-29 1zM1278 1176l30-8-23-10-29 8z"/><path class="c15" d="M1093 1184l30-15-23-10-29 15z"/><path class="c7" d="M827 1247l29-56-23-3-29 45z"/><path class="c15" d="M1330 1186l30-22-23 3-29 1z"/><path class="c41" d="M700 996l30 178-23-3-29-174z"/><path class="c10" d="M2042 1225l29 10-22-49-30 2z"/><path class="c15" d="M1145 1187l30-9-23-17-29 8z"/><path class="c14" d="M2094 1203l29-7-22 34-30 5z"/><path class="c15" d="M1382 1188l30-15-23-4-29-5z"/><path class="c45" d="M2315 960l30 15-23 52-29-10z"/><path class="c38" d="M2205 1024l29 9-22 140-30-1z"/><path class="c16" d="M1197 1182l29-1-22-24-29 21zM1434 1183l30-8-23-10-29 8z"/><path class="c13" d="M797 1211l30 36-23-14-29-34z"/><path class="c54" d="M626 899l29 82-23-13-29-80z"/><path class="c15" d="M1301 1194l29-8-22-18-30 8z"/><path class="c17" d="M1116 1181l29 6-22-18-30 15z"/><path class="c9" d="M2013 1242l29-17-23-37-29 8z"/><path class="c10" d="M849 1239l29-38-22-10-29 56z"/><path class="c16" d="M1353 1189l29-1-22-24-30 22zM1168 1190l29-8-22-4-30 9z"/><path class="c15" d="M2065 1202l29 1-23 32-29-10z"/><path class="c43" d="M723 998l29 182-22-6-30-178z"/><path class="c45" d="M2286 965l29-5-22 57-30 9z"/><path class="c39" d="M2175 1024l30 0-23 148-29 7z"/><path class="c15" d="M1405 1198l29-15-22-10-30 15z"/><path class="c16" d="M1220 1192l29-1-23-10-29 1z"/><path class="c15" d="M1457 1201l29-8-22-18-30 8z"/><path class="c7" d="M1983 1265l30-23-23-46-29 14z"/><path class="c17" d="M1272 1188l29 6-23-18-29 15z"/><path class="c53" d="M648 913l30 84-23-16-29-82z"/><path class="c16" d="M1324 1197l29-8-23-3-29 8z"/><path class="c15" d="M820 1212l29 27-22 8-30-36zM1138 1205l30-15-23-3-29-6z"/><path class="c14" d="M2035 1215l30-13-23 23-29 17z"/><path class="c38" d="M2146 1039l29-15-22 155-30 17z"/><path class="c46" d="M2257 969l29-4-23 61-29 7z"/><path class="c16" d="M1375 1199l30-1-23-10-29 1z"/><path class="c9" d="M872 1252l29-33-23-18-29 38z"/><path class="c16" d="M1190 1200l30-8-23-10-29 8z"/><path class="c41" d="M745 1018l30 181-23-19-29-182z"/><path class="c17" d="M1427 1195l30 6-23-18-29 15z"/><path class="c9" d="M1954 1258l29 7-22-55-30 2z"/><path class="c13" d="M2006 1230l29-15-22 27-30 23z"/><path class="c15" d="M1294 1212l30-15-23-3-29-6z"/><path class="c39" d="M2116 1041l30-2-23 157-29 7z"/><path class="c55" d="M671 911l29 85-22 1-30-84z"/><path class="c16" d="M1346 1208l29-9-22-10-29 8z"/><path class="c15" d="M1161 1215l29-15-22-10-30 15zM842 1224l30 28-23-13-29-27z"/><path class="c49" d="M2227 957l30 12-23 64-29-9z"/><path class="c7" d="M894 1280l30-58-23-3-29 33z"/><path class="c15" d="M1398 1217l29-22-22 3-30 1zM1213 1218l29-8-22-18-30 8z"/><path class="c41" d="M768 1029l29 182-22-12-30-181z"/><path class="c10" d="M1924 1257l30 1-23-46-29 8z"/><path class="c14" d="M1976 1231l30-1-23 35-29-7z"/><path class="c15" d="M1317 1222l29-14-22-11-30 15z"/><path class="c41" d="M2087 1034l29 7-22 162-29-1z"/><path class="c15" d="M1369 1225l29-8-23-18-29 9z"/><path class="c17" d="M1183 1212l30 6-23-18-29 15z"/><path class="c56" d="M693 912l30 86-23-2-29-85z"/><path class="c51" d="M2198 954l29 3-22 67-30 0z"/><path class="c7" d="M1895 1283l29-26-22-37-30 15z"/><path class="c8" d="M917 1281l29-48-22-11-30 58z"/><path class="c16" d="M1235 1221l30-8-23-3-29 8z"/><path class="c43" d="M790 1026l30 186-23-1-29-182z"/><path class="c15" d="M1947 1234l29-3-22 27-30-1z"/><path class="c16" d="M1287 1224l30-2-23-10-29 1z"/><path class="c41" d="M2058 1044l29-10-22 168-30 13z"/><path class="c17" d="M1339 1219l30 6-23-17-29 14z"/><path class="c7" d="M1866 1294l29-11-23-48-29 1z"/><path class="c15" d="M1154 1234l29-22-22 3-30 2z"/><path class="c50" d="M2168 966l30-12-23 70-29 15z"/><path class="c14" d="M887 1249l30 32-23-1-29-37z"/><path class="c15" d="M1206 1236l29-15-22-3-30-6z"/><path class="c55" d="M716 931l29 87-22-20-30-86z"/><path class="c14" d="M1918 1251l29-17-23 23-29 26z"/><path class="c10" d="M939 1277l30-27-23-17-29 48z"/><path class="c40" d="M2028 1058l30-14-23 171-29 15z"/><path class="c43" d="M813 1038l29 186-22-12-30-186z"/><path class="c15" d="M1310 1241l29-22-22 3-30 2z"/><path class="c10" d="M1836 1283l30 11-23-58-29 8z"/><path class="c51" d="M2139 965l29 1-22 73-30 2z"/><path class="c15" d="M1362 1243l29-15-22-3-30-6z"/><path class="c13" d="M1888 1260l30-9-23 32-29 11z"/><path class="c16" d="M1176 1237l30-1-23-24-29 22z"/><path class="c55" d="M738 941l30 88-23-11-29-87z"/><path class="c15" d="M910 1252l29 25-22 4-30-32zM1228 1246l30-14-23-11-29 15z"/><path class="c41" d="M1999 1054l29 4-22 172-30 1z"/><path class="c8" d="M962 1302l29-49-22-3-30 27z"/><path class="c15" d="M1280 1249l30-8-23-17-29 8z"/><path class="c41" d="M835 1059l30 184-23-19-29-186z"/><path class="c9" d="M1807 1295l29-12-22-39-30 15z"/><path class="c16" d="M1332 1244l30-1-23-24-29 22z"/><path class="c54" d="M2110 956l29 9-23 76-29-7z"/><path class="c15" d="M1859 1259l29 1-22 34-30-11z"/><path class="c16" d="M1199 1248l29-2-22-10-30 1z"/><path class="c43" d="M1969 1054l30 0-23 177-29 3z"/><path class="c57" d="M761 938l29 88-22 3-30-88z"/><path class="c7" d="M1777 1320l30-25-23-36-29 1zM984 1322l30-58-23-11-29 49z"/><path class="c16" d="M1303 1252l29-8-22-3-30 8z"/><path class="c42" d="M858 1064l29 185-22-6-30-184z"/><path class="c54" d="M2080 965l30-9-23 78-29 10z"/><path class="c15" d="M1829 1269l30-10-23 24-29 12z"/><path class="c41" d="M1940 1072l29-18-22 180-29 17z"/><path class="c15" d="M1222 1265l29-22-23 3-29 2z"/><path class="c8" d="M1748 1319l29 1-22-60-30 8z"/><path class="c13" d="M955 1285l29 37-22-20-30-32zM1800 1285l29-16-22 26-30 25z"/><path class="c53" d="M2051 977l29-12-22 79-30 14z"/><path class="c9" d="M1007 1315l29-34-22-17-30 58z"/><path class="c57" d="M783 949l30 89-23-12-29-88z"/><path class="c16" d="M1325 1263l30-8-23-11-29 8z"/><path class="c43" d="M881 1066l29 186-23-3-29-185z"/><path class="c41" d="M1911 1080l29-8-22 179-30 9z"/><path class="c15" d="M1192 1273l30-8-23-17-29 8z"/><path class="c10" d="M1719 1313l29 6-23-51-29 15z"/><path class="c14" d="M1770 1289l30-4-23 35-29-1z"/><path class="c15" d="M978 1286l29 29-23 7-29-37z"/><path class="c55" d="M2021 972l30 5-23 81-29-4z"/><path class="c15" d="M1296 1278l29-15-22-11-29 15z"/><path class="c55" d="M806 970l29 89-22-21-30-89z"/><path class="c43" d="M1881 1076l30 4-23 180-29-1z"/><path class="c10" d="M1030 1322l29-38-23-3-29 34z"/><path class="c42" d="M903 1086l29 184-22-18-29-186z"/><path class="c8" d="M1689 1335l30-22-23-30-29 1z"/><path class="c15" d="M1741 1290l29-1-22 30-29-6z"/><path class="c56" d="M1992 971l29 1-22 82-30 0zM829 975l29 89-23-5-29-89z"/><path class="c17" d="M1319 1274l29 6-23-17-29 15z"/><path class="c15" d="M1000 1295l30 27-23-7-29-29z"/><path class="c43" d="M1852 1085l29-9-22 183-30 10z"/><path class="c7" d="M1660 1352l29-17-22-51-30 8zM1052 1351l29-56-22-11-29 38z"/><path class="c41" d="M926 1104l29 181-23-15-29-184z"/><path class="c14" d="M1712 1305l29-15-22 23-30 22z"/><path class="c55" d="M1963 987l29-16-23 83-29 18z"/><path class="c41" d="M1822 1104l30-19-23 184-29 16z"/><path class="c7" d="M1075 1358l29-46-23-17-29 56z"/><path class="c57" d="M851 978l30 88-23-2-29-89z"/><path class="c13" d="M1682 1318l30-13-23 30-29 17z"/><path class="c42" d="M948 1105l30 181-23-1-29-181z"/><path class="c55" d="M1933 995l30-8-23 85-29 8z"/><path class="c42" d="M1793 1106l29-2-22 181-30 4z"/><path class="c10" d="M1601 1348l29-5-22-36-30 1z"/><path class="c14" d="M1045 1324l30 34-23-7-29-36z"/><path class="c15" d="M1653 1317l29 1-22 34-30-9z"/><path class="c56" d="M874 999l29 87-22-20-30-88z"/><path class="c10" d="M1097 1351l30-35-23-4-29 46z"/><path class="c57" d="M1904 990l29 5-22 85-30-4z"/><path class="c43" d="M1764 1106l29 0-23 183-29 1z"/><path class="c42" d="M971 1116l29 179-22-9-30-181z"/><path class="c7" d="M1572 1374l29-26-23-40-29 8z"/><path class="c15" d="M1624 1323l29-6-23 26-29 5zM1068 1325l29 26-22 7-30-34z"/><path class="c55" d="M896 1017l30 87-23-18-29-87z"/><path class="c57" d="M1874 999l30-9-23 86-29 9z"/><path class="c42" d="M1734 1124l30-18-23 184-29 15z"/><path class="c7" d="M1542 1379l30-5-23-58-29 15z"/><path class="c9" d="M1120 1370l29-44-22-10-30 35z"/><path class="c40" d="M993 1140l30 175-23-20-29-179z"/><path class="c13" d="M1594 1341l30-18-23 25-29 26z"/><path class="c55" d="M1845 1017l29-18-22 86-30 19z"/><path class="c41" d="M1705 1139l29-15-22 181-30 13z"/><path class="c56" d="M919 1019l29 86-22-1-30-87z"/><path class="c14" d="M1090 1340l30 30-23-19-29-26z"/><path class="c10" d="M1513 1370l29 9-22-48-30 1z"/><path class="c7" d="M1142 1395l30-52-23-17-29 44z"/><path class="c40" d="M1016 1152l29 172-22-9-30-175z"/><path class="c14" d="M1565 1347l29-6-22 33-30 5z"/><path class="c56" d="M1816 1020l29-3-23 87-29 2z"/><path class="c42" d="M1675 1138l30 1-23 179-29-1z"/><path class="c9" d="M1483 1387l30-17-23-38-29 8z"/><path class="c13" d="M1113 1358l29 37-22-25-30-30z"/><path class="c56" d="M941 1031l30 85-23-11-29-86z"/><path class="c15" d="M1535 1346l30 1-23 32-29-9z"/><path class="c9" d="M1165 1391l29-44-22-4-30 52z"/><path class="c41" d="M1038 1155l30 170-23-1-29-172z"/><path class="c57" d="M1786 1020l30 0-23 86-29 0z"/><path class="c42" d="M1646 1146l29-8-22 179-29 6z"/><path class="c7" d="M1454 1409l29-22-22-47-30 15z"/><path class="c14" d="M1506 1359l29-13-22 24-30 17zM1135 1361l30 30-23 4-29-37z"/><path class="c53" d="M964 1057l29 83-22-24-30-85z"/><path class="c40" d="M1617 1169l29-23-22 177-30 18z"/><path class="c56" d="M1757 1038l29-18-22 86-30 18z"/><path class="c10" d="M1187 1392l30-35-23-10-29 44z"/><path class="c40" d="M1061 1175l29 165-22-15-30-170z"/><path class="c9" d="M1425 1403l29 6-23-54-29 1z"/><path class="c13" d="M1476 1374l30-15-23 28-29 22z"/><path class="c55" d="M1727 1054l30-16-23 86-29 15z"/><path class="c40" d="M1587 1178l30-9-23 172-29 6z"/><path class="c53" d="M986 1070l30 82-23-12-29-83z"/><path class="c15" d="M1158 1367l29 25-22-1-30-30z"/><path class="c38" d="M1083 1199l30 159-23-18-29-165z"/><path class="c10" d="M1395 1402l30 1-23-47-29 8z"/><path class="c7" d="M1210 1420l29-46-22-17-30 35z"/><path class="c14" d="M1447 1375l29-1-22 35-29-6z"/><path class="c56" d="M1698 1054l29 0-22 85-30-1z"/><path class="c41" d="M1558 1178l29 0-22 169-30-1z"/><path class="c54" d="M1009 1075l29 80-22-3-30-82z"/><path class="c7" d="M1366 1427l29-25-22-38-30 15z"/><path class="c38" d="M1106 1205l29 156-22-3-30-159z"/><path class="c7" d="M1232 1434l30-56-23-4-29 46z"/><path class="c15" d="M1418 1378l29-3-22 28-30-1z"/><path class="c56" d="M1669 1064l29-10-23 84-29 8z"/><path class="c40" d="M1528 1196l30-18-23 168-29 13z"/><path class="c7" d="M1336 1438l30-11-23-48-29 1z"/><path class="c52" d="M1032 1097l29 78-23-20-29-80z"/><path class="c13" d="M1203 1398l29 36-22-14-30-34z"/><path class="c14" d="M1388 1395l30-17-23 24-29 25z"/><path class="c53" d="M1639 1087l30-23-23 82-29 23z"/><path class="c38" d="M1499 1217l29-21-22 163-30 15zM1129 1215l29 152-23-6-29-156z"/><path class="c10" d="M1255 1426l29-38-22-10-30 56zM1307 1428l29 10-22-58-30 8z"/><path class="c13" d="M1359 1405l29-10-22 32-30 11z"/><path class="c53" d="M1610 1098l29-11-22 82-30 9z"/><path class="c50" d="M1054 1123l29 76-22-24-29-78z"/><path class="c38" d="M1470 1222l29-5-23 157-29 1z"/><path class="c15" d="M1226 1399l29 27-23 8-29-36z"/><path class="c36" d="M1151 1243l29 143-22-19-29-152z"/><path class="c9" d="M1278 1439l29-11-23-40-29 38z"/><path class="c54" d="M1580 1101l30-3-23 80-29 0z"/><path class="c15" d="M1330 1404l29 1-23 33-29-10z"/><path class="c38" d="M1440 1229l30-7-23 153-29 3z"/><path class="c50" d="M1077 1132l29 73-23-6-29-76z"/><path class="c34" d="M1174 1262l29 136-23-12-29-143z"/><path class="c15" d="M1248 1411l30 28-23-13-29-27z"/><path class="c52" d="M1551 1121l29-20-22 77-30 18z"/><path class="c36" d="M1411 1254l29-25-22 149-30 17z"/><path class="c15" d="M1300 1413l30-9-23 24-29 11z"/><path class="c50" d="M1099 1145l30 70-23-10-29-73zM1522 1144l29-23-23 75-29 21z"/><path class="c34" d="M1381 1271l30-17-23 141-29 10z"/><path class="c35" d="M1196 1268l30 131-23-1-29-136z"/><path class="c11" d="M1271 1448l29-35-22 26-30-28z"/><path class="c50" d="M1492 1151l30-7-23 73-29 5z"/><path class="c47" d="M1122 1176l29 67-22-28-30-70z"/><path class="c35" d="M1352 1275l29-4-22 134-29-1z"/><path class="c33" d="M1219 1290l29 121-22-12-30-131z"/><path class="c50" d="M1463 1162l29-11-22 71-30 7z"/><path class="c45" d="M1144 1199l30 63-23-19-29-67z"/><path class="c33" d="M1323 1294l29-19-22 129-30 9z"/><path class="c28" d="M1241 1336l30 112-23-37-29-121z"/><path class="c47" d="M1433 1190l30-28-23 67-29 25z"/><path class="c28" d="M1293 1338l30-44-23 119-29 35z"/><path class="c45" d="M1167 1210l29 58-22-6-30-63zM1404 1211l29-21-22 64-30 17z"/><path class="c42" d="M1189 1235l30 55-23-22-29-58z"/><path class="c45" d="M1375 1219l29-8-23 60-29 4z"/><path class="c46" d="M1264 1225l29 113-22 110-30-112z"/><path class="c39" d="M1212 1273l29 63-22-46-30-55z"/><path class="c42" d="M1345 1243l30-24-23 56-29 19z"/><path class="c39" d="M1316 1277l29-34-22 51-30 44z"/><path class="c55" d="M1234 1173l30 52-23 111-29-63zM1286 1175l30 102-23 61-29-113z"/><path class="c63" d="M1257 1107l29 68-22 50-30-52z"/></g><line x1="125.7" y1="171.2" x2="243.3" y2="139.1" class="ax"/><line x1="125.7" y1="171.2" x2="35.5" y2="129.7" class="ax"/><line x1="35.5" y1="129.7" x2="35.5" y2="39.0" class="ax"/><line x1="35.5" y1="129.7" x2="33.1" y2="129.7" class="ax"/><line x1="35.5" y1="99.5" x2="33.1" y2="99.5" class="ax"/><line x1="35.5" y1="69.2" x2="33.1" y2="69.2" class="ax"/><line x1="35.5" y1="39.0" x2="33.1" y2="39.0" class="ax"/><line x1="125.7" y1="171.2" x2="127.9" y2="172.2" class="ax"/><line x1="125.7" y1="171.2" x2="123.4" y2="171.8" class="ax"/><line x1="184.5" y1="155.1" x2="186.7" y2="156.2" class="ax"/><line x1="80.6" y1="150.4" x2="78.3" y2="151.1" class="ax"/><line x1="243.3" y1="139.1" x2="245.5" y2="140.1" class="ax"/><line x1="35.5" y1="129.7" x2="33.2" y2="130.3" class="ax"/><line x1="481.4" y1="159.9" x2="374.0" y2="141.5" class="g"/><line x1="530.2" y1="150.0" x2="422.8" y2="131.6" class="g"/><line x1="378.9" y1="160.7" x2="476.5" y2="140.8" class="g"/><line x1="325.2" y1="151.5" x2="422.8" y2="131.6" class="g"/><line x1="374.0" y1="141.5" x2="374.0" y2="14.9" class="g"/><line x1="422.8" y1="131.6" x2="422.8" y2="5.0" class="g"/><line x1="325.2" y1="151.5" x2="422.8" y2="131.6" class="g"/><line x1="325.2" y1="126.2" x2="422.8" y2="106.3" class="g"/><line x1="325.2" y1="100.9" x2="422.8" y2="81.0" class="g"/><line x1="325.2" y1="75.5" x2="422.8" y2="55.6" class="g"/><line x1="325.2" y1="50.2" x2="422.8" y2="30.3" class="g"/><line x1="325.2" y1="24.9" x2="422.8" y2="5.0" class="g"/><line x1="530.2" y1="150.0" x2="530.2" y2="23.4" class="g"/><line x1="476.5" y1="140.8" x2="476.5" y2="14.2" class="g"/><line x1="422.8" y1="131.6" x2="422.8" y2="5.0" class="g"/><line x1="530.2" y1="150.0" x2="422.8" y2="131.6" class="g"/><line x1="530.2" y1="124.7" x2="422.8" y2="106.3" class="g"/><line x1="530.2" y1="99.4" x2="422.8" y2="81.0" class="g"/><line x1="530.2" y1="74.0" x2="422.8" y2="55.6" class="g"/><line x1="530.2" y1="48.7" x2="422.8" y2="30.3" class="g"/><line x1="530.2" y1="23.4" x2="422.8" y2="5.0" class="g"/><g transform="scale(.1)" stroke="#000" stroke-width="4.5" stroke-linejoin="round"><path class="c6" d="M4230 976l25-5-27 92-24 5zM4206 981l24-5-26 92-25 5z"/><path class="c19" d="M4257 776l25-5-27 200-25 5z"/><path class="c6" d="M4182 986l24-5-27 92-24 5z"/><path class="c19" d="M4233 781l24-5-27 200-24 5z"/><path class="c6" d="M4157 991l25-5-27 92-25 5z"/><path class="c19" d="M4209 786l24-5-27 200-24 5z"/><path class="c6" d="M4133 996l24-5-27 92-24 5z"/><path class="c19" d="M4184 791l25-5-27 200-25 5z"/><path class="c6" d="M4108 1001l25-5-27 92-24 5z"/><path class="c19" d="M4160 796l24-5-27 200-24 5z"/><path class="c6" d="M4084 1006l24-5-26 92-25 5z"/><path class="c19" d="M4135 801l25-5-27 200-25 5z"/><path class="c6" d="M4060 1011l24-5-27 92-24 5z"/><path class="c30" d="M4211 605l24-3-26 184-25 5z"/><path class="c19" d="M4111 806l24-5-27 200-24 5z"/><path class="c6" d="M4035 1016l25-5-27 92-25 5z"/><path class="c30" d="M4187 607l24-2-27 186-24 5z"/><path class="c19" d="M4087 811l24-5-27 200-24 5z"/><path class="c6" d="M4011 1021l24-5-27 92-24 5z"/><path class="c30" d="M4162 610l25-3-27 189-25 5z"/><path class="c19" d="M4062 816l25-5-27 200-25 5z"/><path class="c6" d="M3986 1026l25-5-27 92-24 5z"/><path class="c31" d="M4138 614l24-4-27 191-24 5z"/><path class="c19" d="M4038 821l24-5-27 200-24 5z"/><path class="c6" d="M3962 1031l24-5-26 92-25 4z"/><path class="c31" d="M4113 617l25-3-27 192-24 5z"/><path class="c19" d="M4013 826l25-5-27 200-25 5z"/><path class="c6" d="M3938 1036l24-5-27 91-24 5z"/><path class="c31" d="M4089 621l24-4-26 194-25 5z"/><path class="c19" d="M3989 831l24-5-27 200-24 5z"/><path class="c6" d="M3913 1041l25-5-27 91-25 5z"/><path class="c31" d="M4065 625l24-4-27 195-24 5z"/><path class="c19" d="M3964 836l25-5-27 200-24 5z"/><path class="c6" d="M3889 1046l24-5-27 91-24 5z"/><path class="c31" d="M4040 630l25-5-27 196-25 5z"/><path class="c19" d="M3940 841l24-5-26 200-25 5z"/><path class="c6" d="M3864 1051l25-5-27 91-24 5z"/><path class="c31" d="M4016 634l24-4-27 196-24 5z"/><path class="c19" d="M3916 846l24-5-27 200-24 5z"/><path class="c6" d="M3840 1056l24-5-26 91-25 5z"/><path class="c31" d="M3991 639l25-5-27 197-25 5z"/><path class="c19" d="M3891 851l25-5-27 200-25 5z"/><path class="c6" d="M3816 1061l24-5-27 91-24 5z"/><path class="c31" d="M3967 643l24-4-27 197-24 5z"/><path class="c19" d="M3867 856l24-5-27 200-24 5z"/><path class="c6" d="M3791 1066l25-5-27 91-25 5z"/><path class="c31" d="M3943 648l24-5-27 198-24 5z"/><path class="c19" d="M3842 861l25-5-27 200-24 5z"/><path class="c6" d="M3767 1071l24-5-27 91-24 5z"/><path class="c31" d="M3918 653l25-5-27 198-25 5z"/><path class="c19" d="M3818 866l24-5-26 200-25 5z"/><path class="c6" d="M3742 1076l25-5-27 91-24 5z"/><path class="c31" d="M3894 658l24-5-27 198-24 5z"/><path class="c52" d="M4404 299l24 31-27-19-24-30z"/><path class="c19" d="M3794 871l24-5-27 200-24 5z"/><path class="c6" d="M3718 1081l24-5-26 91-25 5z"/><path class="c31" d="M3869 663l25-5-27 198-25 5z"/><path class="c57" d="M4301 224l25 19-27-8-25-17z"/><path class="c51" d="M4431 326l24 30-27-26-24-31z"/><path class="c54" d="M4379 275l25 24-27-18-24-24z"/><path class="c19" d="M3769 876l25-5-27 200-25 5z"/><path class="c6" d="M3694 1086l24-5-27 91-24 5z"/><path class="c56" d="M4328 238l25 19-27-14-25-19z"/><path class="c31" d="M3845 668l24-5-27 198-24 5z"/><path class="c58" d="M4277 211l24 13-27-6-24-13z"/><path class="c19" d="M3745 881l24-5-27 200-24 5z"/><path class="c6" d="M3669 1091l25-5-27 91-25 5z"/><path class="c55" d="M4355 255l24 20-26-18-25-19z"/><path class="c31" d="M3821 673l24-5-27 198-24 5z"/><path class="c57" d="M4304 224l24 14-27-14-24-13z"/><path class="c51" d="M4433 331l25 23-27-28-25-24z"/><path class="c59" d="M4253 201l24 10-27-6-24-8zM4201 191l25 6-27 6-25-5z"/><path class="c54" d="M4382 282l24 20-27-27-24-20z"/><path class="c19" d="M3720 886l25-5-27 200-24 5z"/><path class="c6" d="M3645 1096l24-5-27 91-24 5z"/><path class="c31" d="M3796 678l25-5-27 198-25 5z"/><path class="c58" d="M4279 214l25 10-27-13-24-10z"/><path class="c52" d="M4409 312l24 19-27-29-24-20z"/><path class="c59" d="M4228 195l25 6-27-4-25-6z"/><path class="c60" d="M4177 189l24 2-27 7-24-2z"/><path class="c19" d="M3696 891l24-5-26 200-25 5z"/><path class="c6" d="M3620 1101l25-5-27 91-24 5z"/><path class="c55" d="M4357 268l25 14-27-27-24-14z"/><path class="c31" d="M3772 683l24-5-27 198-24 5z"/><path class="c57" d="M4306 231l25 10-27-17-25-10z"/><path class="c59" d="M4255 208l24 6-26-13-25-6z"/><path class="c53" d="M4384 298l25 14-27-30-25-14z"/><path class="c60" d="M4152 188l25 1-27 7-24 0z"/><path class="c19" d="M3672 896l24-5-27 200-24 5z"/><path class="c6" d="M3596 1106l24-5-26 91-25 5z"/><path class="c56" d="M4333 258l24 10-26-27-25-10z"/><path class="c31" d="M3747 688l25-5-27 198-25 5z"/><path class="c58" d="M4282 224l24 7-27-17-24-6z"/><path class="c52" d="M4411 324l25 13-27-25-25-14z"/><path class="c59" d="M4231 204l24 4-27-13-24-3z"/><path class="c60" d="M4179 191l25 1-27-3-25-1z"/><path class="c54" d="M4360 289l24 9-27-30-24-10z"/><path class="c60" d="M4128 189l24-1-26 8-25 2z"/><path class="c19" d="M3647 901l25-5-27 200-25 5z"/><path class="c6" d="M3572 1111l24-5-27 91-24 5z"/><path class="c57" d="M4309 251l24 7-27-27-24-7z"/><path class="c31" d="M3723 693l24-5-27 198-24 5z"/><path class="c59" d="M4257 220l25 4-27-16-24-4z"/><path class="c53" d="M4387 315l24 9-27-26-24-9z"/><path class="c60" d="M4206 203l25 1-27-12-25-1zM4155 192l24-1-27-3-24 1zM4104 191l24-2-27 9-24 2z"/><path class="c19" d="M3623 906l24-5-27 200-24 5z"/><path class="c6" d="M3547 1116l25-5-27 91-25 5z"/><path class="c55" d="M4336 282l24 7-27-31-24-7z"/><path class="c57" d="M4284 248l25 3-27-27-25-4z"/><path class="c31" d="M3699 698l24-5-27 198-24 5z"/><path class="c52" d="M4414 338l24 9-27-23-24-9z"/><path class="c59" d="M4233 219l24 1-26-16-25-1z"/><path class="c54" d="M4362 309l25 6-27-26-24-7z"/><path class="c60" d="M4182 203l24 0-27-12-24 1z"/><path class="c61" d="M4130 194l25-2-27-3-24 2z"/><path class="c19" d="M3598 911l25-5-27 200-24 5z"/><path class="c6" d="M3523 1121l24-5-27 91-24 5z"/><path class="c61" d="M4079 194l25-3-27 9-25 3z"/><path class="c56" d="M4311 279l25 3-27-31-25-3z"/><path class="c31" d="M3674 703l25-5-27 198-25 5z"/><path class="c58" d="M4260 246l24 2-27-28-24-1z"/><path class="c53" d="M4389 333l25 5-27-23-25-6z"/><path class="c59" d="M4209 220l24-1-27-16-24 0z"/><path class="c54" d="M4338 306l24 3-26-27-25-3z"/><path class="c60" d="M4157 205l25-2-27-11-25 2z"/><path class="c61" d="M4106 196l24-2-26-3-25 3z"/><path class="c19" d="M3574 916l24-5-26 200-25 5z"/><path class="c6" d="M3498 1126l25-5-27 91-24 5z"/><path class="c61" d="M4055 197l24-3-27 9-24 4z"/><path class="c56" d="M4287 278l24 1-27-31-24-2z"/><path class="c31" d="M3650 708l24-5-27 198-24 5z"/><path class="c58" d="M4235 247l25-1-27-27-24 1z"/><path class="c53" d="M4365 330l24 3-27-24-24-3z"/><path class="c59" d="M4184 221l25-1-27-17-25 2z"/><path class="c60" d="M4133 208l24-3-27-11-24 2z"/><path class="c55" d="M4314 305l24 1-27-27-24-1z"/><path class="c61" d="M4082 200l24-4-27-2-24 3z"/><path class="c19" d="M3550 921l24-5-27 200-24 5z"/><path class="c6" d="M3474 1131l24-5-26 91-25 5z"/><path class="c61" d="M4030 202l25-5-27 10-24 4z"/><path class="c56" d="M4262 279l25-1-27-32-25 1z"/><path class="c52" d="M4392 356l24 3-27-26-24-3z"/><path class="c31" d="M3625 714l25-6-27 198-25 5z"/><path class="c58" d="M4211 249l24-2-26-27-25 1z"/><path class="c53" d="M4340 329l25 1-27-24-24-1z"/><path class="c60" d="M4160 224l24-3-27-16-24 3zM4109 211l24-3-27-12-24 4z"/><path class="c55" d="M4289 306l25-1-27-27-25 1z"/><path class="c61" d="M4057 204l25-4-27-3-25 5z"/><path class="c19" d="M3525 926l25-5-27 200-25 5z"/><path class="c6" d="M3450 1136l24-5-27 91-24 5z"/><path class="c61" d="M4006 206l24-4-26 9-25 4z"/><path class="c56" d="M4238 280l24-1-27-32-24 2z"/><path class="c31" d="M3601 719l24-5-27 197-24 5z"/><path class="c52" d="M4367 355l25 1-27-26-25-1z"/><path class="c58" d="M4187 251l24-2-27-28-24 3z"/><path class="c54" d="M4316 330l24-1-26-24-25 1z"/><path class="c60" d="M4135 227l25-3-27-16-24 3zM4084 215l25-4-27-11-25 4z"/><path class="c55" d="M4265 308l24-2-27-27-24 1z"/><path class="c19" d="M3501 931l24-5-27 200-24 5z"/><path class="c61" d="M4033 208l24-4-27-2-24 4z"/><path class="c6" d="M3425 1141l25-5-27 91-25 5z"/><path class="c57" d="M4214 283l24-3-27-31-24 2z"/><path class="c31" d="M3577 725l24-6-27 197-24 5z"/><path class="c52" d="M4343 356l24-1-27-26-24 1z"/><path class="c58" d="M4162 255l25-4-27-27-25 3z"/><path class="c54" d="M4292 332l24-2-27-24-24 2z"/><path class="c60" d="M4111 231l24-4-26-16-25 4zM4060 220l24-5-27-11-24 4z"/><path class="c55" d="M4240 311l25-3-27-28-24 3z"/><path class="c19" d="M3476 936l25-5-27 200-24 5z"/><path class="c61" d="M4008 213l25-5-27-2-24 4z"/><path class="c6" d="M3401 1146l24-5-27 91-24 5z"/><path class="c46" d="M5090 469l24 7-27 12-24-10z"/><path class="c57" d="M4189 287l25-4-27-32-25 4z"/><path class="c31" d="M3552 731l25-6-27 196-25 5z"/><path class="c53" d="M4318 358l25-2-27-26-24 2z"/><path class="c58" d="M4138 259l24-4-27-28-24 4z"/><path class="c54" d="M4267 335l25-3-27-24-25 3z"/><path class="c60" d="M4087 236l24-5-27-16-24 5zM4035 224l25-4-27-12-25 5z"/><path class="c55" d="M4216 314l24-3-26-28-25 4z"/><path class="c45" d="M5116 486l25 4-27-14-24-7z"/><path class="c19" d="M3452 941l24-5-26 200-25 5z"/><path class="c61" d="M3984 218l24-5-26-3-25 6z"/><path class="c6" d="M3376 1151l25-5-27 91-24 5z"/><path class="c61" d="M3933 221l24-5-27 9-24 6z"/><path class="c47" d="M5065 453l25 16-27 9-25-20z"/><path class="c51" d="M4345 381l25-2-27-23-25 2z"/><path class="c57" d="M4165 291l24-4-27-32-24 4z"/><path class="c31" d="M3528 737l24-6-27 195-24 5z"/><path class="c53" d="M4294 360l24-2-26-26-25 3z"/><path class="c0" d="M5278 1252l24-5-27-106-24 5z"/><path class="c39" d="M3603 594l25-7-27 132-24 6z"/><path class="c58" d="M4113 263l25-4-27-28-24 5z"/><path class="c43" d="M5143 534l25 1-27-45-25-4z"/><path class="c6" d="M5251 1146l24-5-27-221-24 5z"/><path class="c54" d="M4243 339l24-4-27-24-24 3z"/><path class="c60" d="M4062 240l25-4-27-16-25 4zM4011 230l24-6-27-11-24 5z"/><path class="c55" d="M4192 318l24-4-27-27-24 4z"/><path class="c19" d="M3428 946l24-5-27 200-24 5z"/><path class="c61" d="M3960 224l24-6-27-2-24 5z"/><path class="c6" d="M3352 1156l24-5-26 91-25 5z"/><path class="c61" d="M3908 227l25-6-27 10-24 6z"/><path class="c46" d="M5092 476l24 10-26-17-25-16z"/><path class="c38" d="M5170 608l25-2-27-71-25-1z"/><path class="c52" d="M4321 384l24-3-27-23-24 2z"/><path class="c57" d="M4140 295l25-4-27-32-25 4z"/><path class="c20" d="M5224 925l24-5-27-196-24 4z"/><path class="c31" d="M3503 743l25-6-27 194-25 5z"/><path class="c49" d="M5041 434l24 19-27 5-24-24z"/><path class="c31" d="M5197 728l24-4-26-118-25 2z"/><path class="c0" d="M5253 1257l25-5-27-106-25 5z"/><path class="c53" d="M4270 364l24-4-27-25-24 4z"/><path class="c39" d="M3579 601l24-7-26 131-25 6z"/><path class="c58" d="M4089 267l24-4-26-27-25 4z"/><path class="c6" d="M5226 1151l25-5-27-221-24 5z"/><path class="c54" d="M4218 343l25-4-27-25-24 4z"/><path class="c60" d="M4038 246l24-6-27-16-24 6z"/><path class="c43" d="M5119 529l24 5-27-48-24-10z"/><path class="c60" d="M3987 235l24-5-27-12-24 6zM3833 250l24-7-27 31-24 6z"/><path class="c55" d="M4167 323l25-5-27-27-25 4z"/><path class="c61" d="M3935 230l25-6-27-3-25 6z"/><path class="c19" d="M3403 951l25-5-27 200-25 5z"/><path class="c6" d="M3328 1161l24-5-27 91-24 5z"/><path class="c47" d="M5068 464l24 12-27-23-24-19z"/><path class="c52" d="M4296 387l25-3-27-24-24 4z"/><path class="c39" d="M5146 609l24-1-27-74-24-5z"/><path class="c57" d="M4116 299l24-4-27-32-24 4z"/><path class="c20" d="M5200 930l24-5-27-197-24 3z"/><path class="c30" d="M3479 750l24-7-27 193-24 5z"/><path class="c0" d="M5229 1262l24-5-27-106-24 5z"/><path class="c39" d="M3555 608l24-7-27 130-24 6z"/><path class="c31" d="M5173 731l24-3-27-120-24 1z"/><path class="c53" d="M4245 368l25-4-27-25-25 4z"/><path class="c58" d="M4065 273l24-6-27-27-24 6z"/><path class="c50" d="M5016 414l25 20-27 0-24-25z"/><path class="c6" d="M5202 1156l24-5-26-221-25 5z"/><path class="c54" d="M4194 347l24-4-26-25-25 5z"/><path class="c60" d="M4013 251l25-5-27-16-24 5z"/><path class="c44" d="M5095 522l24 7-27-53-24-12z"/><path class="c60" d="M3962 241l25-6-27-11-25 6z"/><path class="c59" d="M3808 257l25-7-27 30-24 8z"/><path class="c55" d="M4143 327l24-4-27-28-24 4z"/><path class="c61" d="M3911 236l24-6-27-3-24 7z"/><path class="c19" d="M3379 956l24-5-27 200-24 5z"/><path class="c6" d="M3303 1165l25-4-27 91-25 5z"/><path class="c57" d="M4092 305l24-6-27-32-24 6z"/><path class="c52" d="M4272 391l24-4-26-23-25 4z"/><path class="c20" d="M5175 935l25-5-27-199-25 3z"/><path class="c39" d="M5121 609l25 0-27-80-24-7z"/><path class="c30" d="M3455 757l24-7-27 191-24 5z"/><path class="c48" d="M5043 450l25 14-27-30-25-20z"/><path class="c39" d="M3530 617l25-9-27 129-25 6z"/><path class="c0" d="M5204 1267l25-5-27-106-24 5z"/><path class="c53" d="M4221 372l24-4-27-25-24 4z"/><path class="c32" d="M5148 734l25-3-27-122-25 0z"/><path class="c58" d="M4040 279l25-6-27-27-25 5z"/><path class="c6" d="M5178 1161l24-5-27-221-24 5z"/><path class="c60" d="M3989 257l24-6-26-16-25 6z"/><path class="c54" d="M4170 352l24-5-27-24-24 4z"/><path class="c52" d="M4992 395l24 19-26-5-25-25z"/><path class="c60" d="M3938 248l24-7-27-11-24 6z"/><path class="c59" d="M3784 266l24-9-26 31-25 8z"/><path class="c45" d="M5070 515l25 7-27-58-25-14z"/><path class="c61" d="M3887 243l24-7-27-2-24 7z"/><path class="c55" d="M4118 333l25-6-27-28-24 6z"/><path class="c19" d="M3354 960l25-4-27 200-24 5z"/><path class="c6" d="M3279 1170l24-5-27 92-24 5z"/><path class="c51" d="M4299 408l24-3-27-18-24 4z"/><path class="c57" d="M4067 311l25-6-27-32-25 6z"/><path class="c52" d="M4248 395l24-4-27-23-24 4z"/><path class="c20" d="M5151 940l24-5-27-201-24 3z"/><path class="c30" d="M3430 764l25-7-27 189-25 5z"/><path class="c39" d="M5097 608l24 1-26-87-25-7z"/><path class="c38" d="M3506 626l24-9-27 126-24 7z"/><path class="c0" d="M5180 1272l24-5-26-106-25 5z"/><path class="c53" d="M4196 377l25-5-27-25-24 5z"/><path class="c58" d="M4016 285l24-6-27-28-24 6z"/><path class="c49" d="M5019 438l24 12-27-36-24-19z"/><path class="c32" d="M5124 737l24-3-27-125-24-1z"/><path class="c6" d="M5153 1166l25-5-27-221-25 5z"/><path class="c60" d="M3965 264l24-7-27-16-24 7z"/><path class="c54" d="M4145 357l25-5-27-25-25 6z"/><path class="c60" d="M3913 255l25-7-27-12-24 7z"/><path class="c53" d="M4968 377l24 18-27-11-24-22z"/><path class="c60" d="M3862 251l25-8-27-2-25 8z"/><path class="c55" d="M4094 338l24-5-26-28-25 6z"/><path class="c19" d="M3330 965l24-5-26 201-25 4z"/><path class="c51" d="M4275 412l24-4-27-17-24 4z"/><path class="c45" d="M5046 508l24 7-27-65-24-12z"/><path class="c55" d="M4916 342l25 20-27-1-24-23z"/><path class="c57" d="M4043 317l24-6-27-32-24 6z"/><path class="c52" d="M4223 399l25-4-27-23-25 5z"/><path class="c20" d="M5126 945l25-5-27-203-25 3z"/><path class="c30" d="M3406 771l24-7-27 187-24 5z"/><path class="c38" d="M3481 636l25-10-27 124-24 7z"/><path class="c40" d="M5073 608l24 0-27-93-24-7z"/><path class="c0" d="M5156 1277l24-5-27-106-24 4z"/><path class="c53" d="M4172 382l24-5-26-25-25 5z"/><path class="c58" d="M3991 291l25-6-27-28-24 7z"/><path class="c32" d="M5099 740l25-3-27-129-24 0z"/><path class="c50" d="M4994 426l25 12-27-43-24-18z"/><path class="c6" d="M5129 1170l24-4-27-221-24 5z"/><path class="c59" d="M3940 271l25-7-27-16-25 7z"/><path class="c54" d="M4121 363l24-6-27-24-24 5z"/><path class="c58" d="M3735 288l25-12-27 29-25 10z"/><path class="c60" d="M3889 263l24-8-26-12-25 8zM3838 261l24-10-27-2-24 9zM3786 268l25-10-27 8-24 10z"/><path class="c55" d="M4070 344l24-6-27-27-24 6z"/><path class="c19" d="M3306 970l24-5-27 200-24 5z"/><path class="c51" d="M4250 417l25-5-27-17-25 4z"/><path class="c54" d="M4943 362l25 15-27-15-25-20z"/><path class="c46" d="M5021 502l25 6-27-70-25-12z"/><path class="c57" d="M4018 323l25-6-27-32-25 6z"/><path class="c52" d="M4199 405l24-6-27-22-24 5z"/><path class="c20" d="M5102 950l24-5-27-205-24 3z"/><path class="c30" d="M3381 779l25-8-27 185-25 4z"/><path class="c38" d="M3457 646l24-10-26 121-25 7z"/><path class="c57" d="M4892 325l24 17-26-4-25-19z"/><path class="c0" d="M5131 1282l25-5-27-107-25 5z"/><path class="c40" d="M5048 608l25 0-27-100-25-6z"/><path class="c58" d="M3967 298l24-7-26-27-25 7z"/><path class="c53" d="M4148 388l24-6-27-25-24 6z"/><path class="c32" d="M5075 743l24-3-26-132-25 0z"/><path class="c59" d="M3916 279l24-8-27-16-24 8z"/><path class="c6" d="M5104 1175l25-5-27-220-24 5z"/><path class="c54" d="M4096 369l25-6-27-25-24 6z"/><path class="c58" d="M3711 302l24-14-27 27-24 13z"/><path class="c51" d="M4970 417l24 9-26-49-25-15z"/><path class="c60" d="M3865 272l24-9-27-12-24 10z"/><path class="c59" d="M3762 281l24-13-26 8-25 12z"/><path class="c60" d="M3813 272l25-11-27-3-25 10z"/><path class="c55" d="M4045 351l25-7-27-27-25 6z"/><path class="c51" d="M4226 422l24-5-27-18-24 6z"/><path class="c44" d="M3508 541l25-16-27 101-25 10z"/><path class="c56" d="M3994 330l24-7-27-32-24 7z"/><path class="c52" d="M4174 411l25-6-27-23-24 6z"/><path class="c55" d="M4919 349l24 13-27-20-24-17z"/><path class="c47" d="M4997 497l24 5-27-76-24-9z"/><path class="c20" d="M5078 955l24-5-27-207-24 3z"/><path class="c30" d="M3357 786l24-7-27 181-24 5z"/><path class="c37" d="M3433 657l24-11-27 118-24 7z"/><path class="c0" d="M5107 1287l24-5-27-107-24 5z"/><path class="c58" d="M3943 306l24-8-27-27-24 8z"/><path class="c53" d="M4123 394l25-6-27-25-25 6z"/><path class="c40" d="M5024 609l24-1-27-106-24-5z"/><path class="c58" d="M4868 312l24 13-27-6-24-15z"/><path class="c32" d="M5051 746l24-3-27-135-24 1z"/><path class="c59" d="M3891 289l25-10-27-16-24 9z"/><path class="c6" d="M5080 1180l24-5-26-220-25 5z"/><path class="c54" d="M4072 375l24-6-26-25-25 7z"/><path class="c59" d="M3840 284l25-12-27-11-25 11zM4816 291l25 13-27 1-24-14zM3738 296l24-15-27 7-24 14zM3789 285l24-13-27-4-24 13z"/><path class="c51" d="M4253 432l24-6-27-9-24 5z"/><path class="c52" d="M4946 409l24 8-27-55-24-13z"/><path class="c55" d="M4021 358l24-7-27-28-24 7z"/><path class="c51" d="M4201 428l25-6-27-17-25 6z"/><path class="c43" d="M3484 559l24-18-27 95-24 10z"/><path class="c56" d="M3970 338l24-8-27-32-24 8z"/><path class="c52" d="M4150 417l24-6-26-23-25 6z"/><path class="c30" d="M3333 792l24-6-27 179-24 5z"/><path class="c20" d="M5053 960l25-5-27-209-25 4z"/><path class="c37" d="M3408 669l25-12-27 114-25 8z"/><path class="c47" d="M4973 493l24 4-27-80-24-8z"/><path class="c56" d="M4894 338l25 11-27-24-24-13z"/><path class="c58" d="M3918 316l25-10-27-27-25 10z"/><path class="c0" d="M5082 1292l25-5-27-107-24 5z"/><path class="c53" d="M4099 400l24-6-27-25-24 6z"/><path class="c40" d="M4999 610l25-1-27-112-24-4z"/><path class="c59" d="M3867 300l24-11-26-17-25 12z"/><path class="c32" d="M5026 750l25-4-27-137-25 1z"/><path class="c59" d="M4843 301l25 11-27-8-25-13z"/><path class="c6" d="M5056 1185l24-5-27-220-24 5z"/><path class="c54" d="M4048 382l24-7-27-24-24 7z"/><path class="c59" d="M3816 297l24-13-27-12-24 13z"/><path class="c58" d="M3713 315l25-19-27 6-25 17z"/><path class="c59" d="M3764 301l25-16-27-4-24 15z"/><path class="c51" d="M4228 438l25-6-27-10-25 6z"/><path class="c60" d="M4792 282l24 9-26 0-25-10z"/><path class="c55" d="M3996 366l25-8-27-28-24 8z"/><path class="c42" d="M3459 578l25-19-27 87-24 11z"/><path class="c53" d="M4921 403l25 6-27-60-25-11z"/><path class="c51" d="M4177 435l24-7-27-17-24 6z"/><path class="c53" d="M3586 407l25-25-27 53-24 19z"/><path class="c56" d="M3945 348l25-10-27-32-25 10z"/><path class="c52" d="M4126 423l24-6-27-23-24 6z"/><path class="c37" d="M3384 679l24-10-27 110-24 7z"/><path class="c20" d="M5029 965l24-5-27-210-24 3z"/><path class="c57" d="M3894 327l24-11-27-27-24 11z"/><path class="c48" d="M4948 490l25 3-27-84-25-6z"/><path class="c53" d="M4074 407l25-7-27-25-24 7z"/><path class="c0" d="M5058 1297l24-5-26-107-25 5z"/><path class="c55" d="M3638 365l24-25-27 21-24 21z"/><path class="c57" d="M4870 331l24 7-26-26-25-11z"/><path class="c58" d="M3843 314l24-14-27-16-24 13z"/><path class="c47" d="M3511 500l24-24-27 65-24 18z"/><path class="c41" d="M4975 612l24-2-26-117-25-3z"/><path class="c57" d="M3689 337l24-22-27 4-24 21z"/><path class="c32" d="M5002 753l24-3-27-140-24 2z"/><path class="c58" d="M3791 313l25-16-27-12-25 16z"/><path class="c54" d="M4023 390l25-8-27-24-25 8z"/><path class="c58" d="M3740 320l24-19-26-5-25 19z"/><path class="c6" d="M5031 1190l25-5-27-220-25 5z"/><path class="c50" d="M4204 445l24-7-27-10-24 7z"/><path class="c55" d="M3972 375l24-9-26-28-25 10z"/><path class="c42" d="M3435 597l24-19-26 79-25 12z"/><path class="c61" d="M4768 276l24 6-27-1-24-7z"/><path class="c51" d="M4153 442l24-7-27-18-24 6z"/><path class="c53" d="M4897 398l24 5-27-65-24-7z"/><path class="c61" d="M4716 269l25 5-27 7-25-5z"/><path class="c56" d="M3921 359l24-11-27-32-24 11z"/><path class="c51" d="M4101 431l25-8-27-23-25 7z"/><path class="c36" d="M3359 687l25-8-27 107-24 6z"/><path class="c20" d="M5004 970l25-5-27-212-25 4z"/><path class="c54" d="M3613 393l25-28-27 17-25 25z"/><path class="c57" d="M3869 341l25-14-27-27-24 14z"/><path class="c52" d="M4050 415l24-8-26-25-25 8z"/><path class="c46" d="M3486 525l25-25-27 59-25 19z"/><path class="c0" d="M5034 1302l24-5-27-107-24 5z"/><path class="c48" d="M4924 489l24 1-27-87-24-5z"/><path class="c57" d="M3818 330l25-16-27-17-25 16z"/><path class="c55" d="M3664 364l25-27-27 3-24 25z"/><path class="c57" d="M3767 333l24-20-27-12-24 19zM3716 344l24-24-27-5-24 22z"/><path class="c58" d="M4846 325l24 6-27-30-24-7z"/><path class="c32" d="M4977 757l25-4-27-141-24 2z"/><path class="c53" d="M3999 399l24-9-27-24-24 9z"/><path class="c41" d="M4951 614l24-2-27-122-24-1z"/><path class="c6" d="M5007 1195l24-5-27-220-24 5z"/><path class="c51" d="M4231 444l24-7-27 1-24 7z"/><path class="c54" d="M3948 386l24-11-27-27-24 11z"/><path class="c41" d="M3411 614l24-17-27 72-24 10z"/><path class="c49" d="M3538 466l24-31-27 41-24 24z"/><path class="c50" d="M4179 452l25-7-27-10-24 7z"/><path class="c60" d="M4794 288l25 6-27-12-24-6z"/><path class="c51" d="M4128 449l25-7-27-19-25 8z"/><path class="c61" d="M4743 272l25 4-27-2-25-5z"/><path class="c55" d="M3896 372l25-13-27-32-25 14z"/><path class="c52" d="M3589 427l24-34-27 14-24 28z"/><path class="c61" d="M4692 267l24 2-27 7-24-3z"/><path class="c54" d="M4872 396l25 2-27-67-24-6z"/><path class="c51" d="M4077 439l24-8-27-24-24 8z"/><path class="c56" d="M3845 357l24-16-26-27-25 16z"/><path class="c20" d="M4980 975l24-5-27-213-24 4z"/><path class="c45" d="M3462 551l24-26-27 53-24 19z"/><path class="c54" d="M3640 396l24-32-26 1-25 28z"/><path class="c56" d="M3794 350l24-20-27-17-24 20z"/><path class="c52" d="M4026 425l24-10-27-25-24 9z"/><path class="c55" d="M3691 372l25-28-27-7-25 27z"/><path class="c56" d="M3743 357l24-24-27-13-24 24z"/><path class="c0" d="M5009 1306l25-4-27-107-25 5z"/><path class="c48" d="M4899 489l25 0-27-91-25-2z"/><path class="c53" d="M3974 410l25-11-27-24-24 11z"/><path class="c32" d="M4953 761l24-4-26-143-25 3z"/><path class="c58" d="M4821 322l25 3-27-31-25-6z"/><path class="c41" d="M4926 617l25-3-27-125-25 0z"/><path class="c6" d="M4982 1200l25-5-27-220-24 5z"/><path class="c51" d="M4206 452l25-8-27 1-25 7z"/><path class="c54" d="M3923 399l25-13-27-27-25 13z"/><path class="c40" d="M3386 626l25-12-27 65-25 8z"/><path class="c50" d="M4155 460l24-8-26-10-25 7z"/><path class="c61" d="M4770 285l24 3-26-12-25-4z"/><path class="c50" d="M3564 464l25-37-27 8-24 31zM4104 458l24-9-27-18-24 8z"/><path class="c54" d="M3872 388l24-16-27-31-24 16z"/><path class="c52" d="M3616 432l24-36-27-3-24 34z"/><path class="c55" d="M3821 377l24-20-27-27-24 20z"/><path class="c51" d="M4052 448l25-9-27-24-24 10z"/><path class="c44" d="M3438 574l24-23-27 46-24 17z"/><path class="c62" d="M4668 266l24 1-27 6-24-1z"/><path class="c54" d="M4848 395l24 1-26-71-25-3z"/><path class="c53" d="M3667 405l24-33-27-8-24 32z"/><path class="c55" d="M3769 375l25-25-27-17-24 24zM3718 386l25-29-27-13-25 28z"/><path class="c20" d="M4956 980l24-5-27-214-24 4z"/><path class="c52" d="M4001 435l25-10-27-26-25 11z"/><path class="c0" d="M4985 1311l24-5-27-106-24 5z"/><path class="c46" d="M3489 533l24-33-27 25-24 26z"/><path class="c53" d="M3950 422l24-12-26-24-25 13z"/><path class="c49" d="M4875 490l24-1-27-93-24-1z"/><path class="c32" d="M4929 765l24-4-27-144-24 3z"/><path class="c6" d="M4958 1205l24-5-26-220-25 5z"/><path class="c41" d="M4902 620l24-3-27-128-24 1z"/><path class="c59" d="M4797 320l24 2-27-34-24-3z"/><path class="c53" d="M3899 414l24-15-27-27-24 16z"/><path class="c48" d="M3540 503l24-39-26 2-25 34z"/><path class="c50" d="M4182 461l24-9-27 0-24 8zM4131 469l24-9-27-11-24 9zM3591 473l25-41-27-5-25 37z"/><path class="c53" d="M3848 408l24-20-27-31-24 20z"/><path class="c50" d="M4079 468l25-10-27-19-25 9z"/><path class="c61" d="M4746 284l24 1-27-13-24-3z"/><path class="c51" d="M3642 444l25-39-27-9-24 36z"/><path class="c54" d="M3796 402l25-25-27-27-25 25z"/><path class="c53" d="M3694 421l24-35-27-14-24 33z"/><path class="c54" d="M3745 404l24-29-26-18-25 29z"/><path class="c43" d="M3413 590l25-16-27 40-25 12z"/><path class="c51" d="M4028 459l24-11-26-23-25 10z"/><path class="c62" d="M4694 269l25 0-27-2-24-1zM4643 266l25 0-27 6-25 0z"/><path class="c54" d="M4824 395l24 0-27-73-24-2z"/><path class="c20" d="M4931 985l25-5-27-215-25 5z"/><path class="c51" d="M3977 448l24-13-27-25-24 12z"/><path class="c44" d="M3464 564l25-31-27 18-24 23z"/><path class="c0" d="M4960 1316l25-5-27-106-24 5z"/><path class="c52" d="M3926 438l24-16-27-23-24 15z"/><path class="c46" d="M3516 543l24-40-27-3-24 33z"/><path class="c49" d="M4851 491l24-1-27-95-24 0z"/><path class="c52" d="M3874 433l25-19-27-26-24 20z"/><path class="c47" d="M3567 517l24-44-27-9-24 39z"/><path class="c32" d="M4904 770l25-5-27-145-25 4z"/><path class="c6" d="M4934 1210l24-5-27-220-24 5z"/><path class="c51" d="M4209 453l24-9-27 8-24 9z"/><path class="c50" d="M4157 470l25-9-27-1-24 9z"/><path class="c41" d="M4877 624l25-4-27-130-24 1z"/><path class="c49" d="M3618 487l24-43-26-12-25 41z"/><path class="c59" d="M4772 319l25 1-27-35-24-1z"/><path class="c52" d="M3823 432l25-24-27-31-25 25z"/><path class="c50" d="M4106 479l25-10-27-11-25 10z"/><path class="c51" d="M3669 460l25-39-27-16-25 39z"/><path class="c52" d="M3772 431l24-29-27-27-24 29zM3721 439l24-35-27-18-24 35z"/><path class="c50" d="M4055 479l24-11-27-20-24 11z"/><path class="c61" d="M4721 284l25 0-27-15-25 0z"/><path class="c50" d="M4004 472l24-13-27-24-24 13z"/><path class="c62" d="M4670 270l24-1-26-3-25 0z"/><path class="c44" d="M3440 584l24-20-26 10-25 16z"/><path class="c51" d="M3952 463l25-15-27-26-24 16z"/><path class="c44" d="M3491 579l25-36-27-10-25 31z"/><path class="c55" d="M4799 396l25-1-27-75-25-1z"/><path class="c20" d="M4907 990l24-5-27-215-24 4z"/><path class="c45" d="M3542 560l25-43-27-14-24 40z"/><path class="c51" d="M3901 456l25-18-27-24-25 19z"/><path class="c0" d="M4936 1321l24-5-26-106-25 5z"/><path class="c47" d="M3594 533l24-46-27-14-24 44z"/><path class="c51" d="M3850 456l24-23-26-25-25 24z"/><path class="c48" d="M3645 504l24-44-27-16-24 43z"/><path class="c51" d="M3799 460l24-28-27-30-24 29z"/><path class="c49" d="M4826 494l25-3-27-96-25 1z"/><path class="c32" d="M4880 774l24-4-27-146-24 3z"/><path class="c50" d="M3696 479l25-40-27-18-25 39z"/><path class="c51" d="M4184 464l25-11-27 8-25 9z"/><path class="c6" d="M4909 1215l25-5-27-220-25 5z"/><path class="c50" d="M4133 481l24-11-26-1-25 10z"/><path class="c51" d="M3747 466l25-35-27-27-24 35z"/><path class="c41" d="M4853 627l24-3-26-133-25 3z"/><path class="c49" d="M4082 491l24-12-27-11-24 11z"/><path class="c59" d="M4748 320l24-1-26-35-25 0z"/><path class="c49" d="M4031 492l24-13-27-20-24 13zM3979 487l25-15-27-24-25 15z"/><path class="c61" d="M4697 285l24-1-27-15-24 1z"/><path class="c43" d="M3518 600l24-40-26-17-25 36zM3467 602l24-23-27-15-24 20z"/><path class="c50" d="M3928 481l24-18-26-25-25 18z"/><path class="c44" d="M3569 579l25-46-27-16-25 43z"/><path class="c62" d="M4646 271l24-1-27-4-24 2z"/><path class="c50" d="M3877 479l24-23-27-23-24 23z"/><path class="c62" d="M4594 270l25-2-27 6-25 2z"/><path class="c46" d="M3621 551l24-47-27-17-24 46z"/><path class="c20" d="M4882 995l25-5-27-216-25 5z"/><path class="c62" d="M4543 279l24-3-26 10-25 3z"/><path class="c55" d="M4775 398l24-2-27-77-24 1z"/><path class="c50" d="M3826 484l24-28-27-24-24 28z"/><path class="c47" d="M3672 524l24-45-27-19-24 44z"/><path class="c49" d="M3774 494l25-34-27-29-25 35z"/><path class="c0" d="M4912 1326l24-5-27-106-24 5z"/><path class="c48" d="M3723 505l24-39-26-27-25 40z"/><path class="c49" d="M4109 494l24-13-27-2-24 12z"/><path class="c50" d="M4160 475l24-11-27 6-24 11z"/><path class="c49" d="M4802 497l24-3-27-98-24 2z"/><path class="c32" d="M4855 779l25-5-27-147-24 4z"/><path class="c6" d="M4885 1220l24-5-27-220-24 5z"/><path class="c49" d="M4057 505l25-14-27-12-24 13z"/><path class="c41" d="M4829 631l24-4-27-133-24 3z"/><path class="c49" d="M4006 507l25-15-27-20-25 15z"/><path class="c59" d="M4724 322l24-2-27-36-24 1z"/><path class="c42" d="M3545 621l24-42-27-19-24 40zM3494 626l24-26-27-21-24 23z"/><path class="c49" d="M3955 505l24-18-27-24-24 18z"/><path class="c43" d="M3596 599l25-48-27-18-25 46z"/><path class="c49" d="M3904 503l24-22-27-25-24 23z"/><path class="c62" d="M4672 287l25-2-27-15-24 1z"/><path class="c45" d="M3647 572l25-48-27-20-24 47z"/><path class="c49" d="M3852 505l25-26-27-23-24 28z"/><path class="c48" d="M3801 516l25-32-27-24-25 34z"/><path class="c46" d="M3699 550l24-45-27-26-24 45z"/><path class="c47" d="M3750 533l24-39-27-28-24 39z"/><path class="c62" d="M4621 274l25-3-27-3-25 2z"/><path class="c20" d="M4858 1000l24-5-27-216-24 5z"/><path class="c63" d="M4570 274l24-4-27 6-24 3z"/><path class="c55" d="M4750 400l25-2-27-78-24 2z"/><path class="c0" d="M4887 1331l25-5-27-106-25 5z"/><path class="c49" d="M4084 508l25-14-27-3-25 14z"/><path class="c50" d="M4136 489l24-14-27 6-24 13z"/><path class="c48" d="M4033 520l24-15-26-13-25 15z"/><path class="c49" d="M4777 500l25-3-27-99-25 2z"/><path class="c32" d="M4831 784l24-5-26-148-25 5z"/><path class="c6" d="M4860 1225l25-5-27-220-24 5z"/><path class="c48" d="M3982 525l24-18-27-20-24 18z"/><path class="c40" d="M3520 648l25-27-27-21-24 26z"/><path class="c41" d="M3572 642l24-43-27-20-24 42zM4804 636l25-5-27-134-25 3z"/><path class="c42" d="M3623 620l24-48-26-21-25 48z"/><path class="c48" d="M3930 527l25-22-27-24-24 22z"/><path class="c60" d="M4699 325l25-3-27-37-25 2z"/><path class="c43" d="M3674 598l25-48-27-26-25 48z"/><path class="c48" d="M3879 529l25-26-27-24-25 26z"/><path class="c45" d="M3725 576l25-43-27-28-24 45z"/><path class="c46" d="M3777 554l24-38-27-22-24 39z"/><path class="c47" d="M3828 537l24-32-26-21-25 32z"/><path class="c62" d="M4648 290l24-3-26-16-25 3z"/><path class="c63" d="M4597 277l24-3-27-4-24 4z"/><path class="c20" d="M4834 1005l24-5-27-216-24 4z"/><path class="c55" d="M4726 404l24-4-26-78-25 3z"/><path class="c0" d="M4863 1336l24-5-27-106-24 5z"/><path class="c39" d="M3547 669l25-27-27-21-25 27z"/><path class="c48" d="M4060 525l24-17-27-3-24 15z"/><path class="c40" d="M3599 663l24-43-27-21-24 43z"/><path class="c49" d="M4111 504l25-15-27 5-25 14z"/><path class="c47" d="M4009 539l24-19-27-13-24 18z"/><path class="c41" d="M3650 646l24-48-27-26-24 48z"/><path class="c51" d="M4162 479l25-15-27 11-24 14z"/><path class="c47" d="M3957 546l25-21-27-20-25 22z"/><path class="c42" d="M3701 623l24-47-26-26-25 48z"/><path class="c49" d="M4753 504l24-4-27-100-24 4z"/><path class="c6" d="M4836 1230l24-5-26-220-25 5z"/><path class="c32" d="M4807 788l24-4-27-148-24 4z"/><path class="c46" d="M3906 551l24-24-26-24-25 26z"/><path class="c44" d="M3752 596l25-42-27-21-25 43z"/><path class="c46" d="M3855 558l24-29-27-24-24 32z"/><path class="c45" d="M3804 572l24-35-27-21-24 38z"/><path class="c41" d="M4780 640l24-4-27-136-24 4z"/><path class="c60" d="M4675 328l24-3-27-38-24 3z"/><path class="c62" d="M4624 293l24-3-27-16-24 3zM4572 284l25-7-27-3-24 6z"/><path class="c38" d="M3625 689l25-43-27-26-24 43zM3574 692l25-29-27-21-25 27z"/><path class="c62" d="M4521 288l25-8-27 6-25 7z"/><path class="c20" d="M4809 1010l25-5-27-217-25 5z"/><path class="c40" d="M3677 669l24-46-27-25-24 48z"/><path class="c55" d="M4702 407l24-3-27-79-24 3z"/><path class="c47" d="M4035 544l25-19-27-5-24 19z"/><path class="c41" d="M3728 640l24-44-27-20-24 47z"/><path class="c46" d="M3984 560l25-21-27-14-25 21z"/><path class="c48" d="M4087 522l24-18-27 4-24 17z"/><path class="c0" d="M4838 1341l25-5-27-106-24 5z"/><path class="c46" d="M3933 570l24-24-27-19-24 24z"/><path class="c43" d="M3779 612l25-40-27-18-25 42z"/><path class="c50" d="M4138 495l24-16-26 10-25 15z"/><path class="c45" d="M3882 580l24-29-27-22-24 29z"/><path class="c44" d="M3830 592l25-34-27-21-24 35z"/><path class="c52" d="M4189 466l25-15-27 13-25 15z"/><path class="c6" d="M4812 1235l24-5-27-220-24 5z"/><path class="c49" d="M4729 508l24-4-27-100-24 3z"/><path class="c33" d="M4782 793l25-5-27-148-25 5z"/><path class="c41" d="M4755 645l25-5-27-136-24 4z"/><path class="c60" d="M4650 332l25-4-27-38-24 3z"/><path class="c37" d="M3652 712l25-43-27-23-25 43zM3601 717l24-28-26-26-25 29z"/><path class="c39" d="M3704 685l24-45-27-17-24 46z"/><path class="c62" d="M4599 300l25-7-27-16-25 7z"/><path class="c60" d="M4394 330l25-10-27 22-25 10z"/><path class="c41" d="M3755 655l24-43-27-16-24 44z"/><path class="c62" d="M4548 291l24-7-26-4-25 8zM4497 295l24-7-27 5-24 8z"/><path class="c45" d="M3960 583l24-23-27-14-24 24z"/><path class="c46" d="M4011 565l24-21-26-5-25 21z"/><path class="c20" d="M4785 1015l24-5-27-217-24 5z"/><path class="c42" d="M3806 629l24-37-26-20-25 40z"/><path class="c44" d="M3909 598l24-28-27-19-24 29z"/><path class="c43" d="M3857 611l25-31-27-22-25 34z"/><path class="c48" d="M4062 542l25-20-27 3-25 19z"/><path class="c55" d="M4677 411l25-4-27-79-25 4z"/><path class="c49" d="M4114 514l24-19-27 9-24 18z"/><path class="c0" d="M4814 1346l24-5-26-106-25 5z"/><path class="c51" d="M4165 483l24-17-27 13-24 16z"/><path class="c53" d="M4216 452l24-16-26 15-25 15z"/><path class="c6" d="M4787 1240l25-5-27-220-25 5z"/><path class="c33" d="M4758 798l24-5-27-148-24 5z"/><path class="c49" d="M4704 512l25-4-27-101-25 4z"/><path class="c41" d="M4731 650l24-5-26-137-25 4z"/><path class="c36" d="M3628 739l24-27-27-23-24 28z"/><path class="c37" d="M3679 726l25-41-27-16-25 43z"/><path class="c60" d="M4626 338l24-6-26-39-25 7z"/><path class="c38" d="M3730 698l25-43-27-15-24 45z"/><path class="c40" d="M3782 669l24-40-27-17-24 43z"/><path class="c62" d="M4575 306l24-6-27-16-24 7z"/><path class="c60" d="M4370 342l24-12-27 22-24 11z"/><path class="c42" d="M3833 646l24-35-27-19-24 37z"/><path class="c43" d="M3884 628l25-30-27-18-25 31z"/><path class="c44" d="M3935 610l25-27-27-13-24 28z"/><path class="c45" d="M3987 590l24-25-27-5-24 23z"/><path class="c62" d="M4524 299l24-8-27-3-24 7z"/><path class="c46" d="M4038 564l24-22-27 2-24 21z"/><path class="c62" d="M4472 304l25-9-27 6-25 9z"/><path class="c20" d="M4760 1020l25-5-27-217-25 5z"/><path class="c48" d="M4089 535l25-21-27 8-25 20z"/><path class="c55" d="M4653 417l24-6-27-79-24 6z"/><path class="c50" d="M4140 503l25-20-27 12-24 19z"/><path class="c0" d="M4790 1351l24-5-27-106-24 5z"/><path class="c52" d="M4192 470l24-18-27 14-24 17z"/><path class="c35" d="M3655 752l24-26-27-14-24 27z"/><path class="c6" d="M4763 1245l24-5-27-220-24 5z"/><path class="c33" d="M4733 803l25-5-27-148-24 5z"/><path class="c49" d="M4680 518l24-6-27-101-24 6z"/><path class="c36" d="M3706 736l24-38-26-13-25 41z"/><path class="c41" d="M4707 655l24-5-27-138-24 6z"/><path class="c38" d="M3757 709l25-40-27-14-25 43z"/><path class="c60" d="M4602 344l24-6-27-38-24 6z"/><path class="c40" d="M3808 683l25-37-27-17-24 40z"/><path class="c41" d="M3860 661l24-33-27-17-24 35z"/><path class="c42" d="M3911 640l24-30-26-12-25 30z"/><path class="c44" d="M3962 617l25-27-27-7-25 27z"/><path class="c45" d="M4013 590l25-26-27 1-24 25z"/><path class="c62" d="M4550 314l25-8-27-15-24 8z"/><path class="c61" d="M4397 331l24-11-27 10-24 12z"/><path class="c47" d="M4065 559l24-24-27 7-24 22z"/><path class="c62" d="M4499 307l25-8-27-4-25 9zM4448 314l24-10-27 6-24 10z"/><path class="c20" d="M4736 1025l24-5-27-217-24 5z"/><path class="c49" d="M4116 526l24-23-26 11-25 21z"/><path class="c55" d="M4628 423l25-6-27-79-24 6z"/><path class="c0" d="M4765 1356l25-5-27-106-25 5z"/><path class="c51" d="M4167 491l25-21-27 13-25 20z"/><path class="c35" d="M3682 762l24-26-27-10-24 26z"/><path class="c36" d="M3733 744l24-35-27-11-24 38z"/><path class="c38" d="M3784 719l24-36-26-14-25 40z"/><path class="c6" d="M4738 1250l25-5-27-220-24 5z"/><path class="c49" d="M4655 524l25-6-27-101-25 6z"/><path class="c33" d="M4709 808l24-5-26-148-25 5z"/><path class="c39" d="M3835 695l25-34-27-15-25 37z"/><path class="c41" d="M4682 660l25-5-27-137-25 6zM3887 671l24-31-27-12-24 33z"/><path class="c60" d="M4577 351l25-7-27-38-25 8z"/><path class="c42" d="M3938 646l24-29-27-7-24 30z"/><path class="c44" d="M3989 618l24-28-26 0-25 27z"/><path class="c46" d="M4040 586l25-27-27 5-25 26z"/><path class="c61" d="M4526 322l24-8-26-15-25 8z"/><path class="c60" d="M4372 344l25-13-27 11-25 13z"/><path class="c62" d="M4475 317l24-10-27-3-24 10z"/><path class="c61" d="M4424 325l24-11-27 6-24 11z"/><path class="c48" d="M4092 551l24-25-27 9-24 24z"/><path class="c20" d="M4712 1030l24-5-27-217-24 5z"/><path class="c50" d="M4143 514l24-23-27 12-24 23z"/><path class="c55" d="M4604 430l24-7-26-79-25 7z"/><path class="c35" d="M3708 767l25-23-27-8-24 26z"/><path class="c36" d="M3760 751l24-32-27-10-24 35z"/><path class="c0" d="M4741 1361l24-5-27-106-24 5z"/><path class="c37" d="M3811 728l24-33-27-12-24 36z"/><path class="c53" d="M4194 473l24-22-26 19-25 21z"/><path class="c39" d="M3862 703l25-32-27-10-25 34z"/><path class="c49" d="M4631 530l24-6-27-101-24 7z"/><path class="c41" d="M3913 677l25-31-27-6-24 31z"/><path class="c6" d="M4714 1255l24-5-26-220-25 5z"/><path class="c32" d="M4685 813l24-5-27-148-24 6z"/><path class="c41" d="M4658 666l24-6-27-136-24 6z"/><path class="c42" d="M3965 648l24-30-27-1-24 29z"/><path class="c59" d="M4553 359l24-8-27-37-24 8z"/><path class="c44" d="M4016 615l24-29-27 4-24 28z"/><path class="c46" d="M4067 579l25-28-27 8-25 27z"/><path class="c61" d="M4502 331l24-9-27-15-24 10z"/><path class="c59" d="M4348 359l24-15-27 11-24 15z"/><path class="c61" d="M4399 338l25-13-27 6-25 13zM4450 328l25-11-27-3-24 11z"/><path class="c49" d="M4118 541l25-27-27 12-24 25z"/><path class="c35" d="M3735 773l25-22-27-7-25 23z"/><path class="c20" d="M4687 1035l25-5-27-217-25 6z"/><path class="c36" d="M3787 758l24-30-27-9-24 32z"/><path class="c55" d="M4580 437l24-7-27-79-24 8z"/><path class="c51" d="M4170 497l24-24-27 18-24 23z"/><path class="c37" d="M3838 735l24-32-27-8-24 33z"/><path class="c0" d="M4716 1366l25-5-27-106-24 5z"/><path class="c39" d="M3889 709l24-32-26-6-25 32z"/><path class="c41" d="M3940 679l25-31-27-2-25 31z"/><path class="c49" d="M4607 536l24-6-27-100-24 7z"/><path class="c6" d="M4690 1260l24-5-27-220-24 5z"/><path class="c32" d="M4660 819l25-6-27-147-25 5z"/><path class="c43" d="M3992 646l24-31-27 3-24 30z"/><path class="c41" d="M4633 671l25-5-27-136-24 6z"/><path class="c59" d="M4528 367l25-8-27-37-24 9z"/><path class="c45" d="M4043 610l24-31-27 7-24 29z"/><path class="c59" d="M4323 376l25-17-27 11-24 17z"/><path class="c61" d="M4477 341l25-10-27-14-25 11z"/><path class="c47" d="M4094 570l24-29-26 10-25 28z"/><path class="c60" d="M4375 352l24-14-27 6-24 15z"/><path class="c61" d="M4426 340l24-12-26-3-25 13z"/><path class="c35" d="M3762 777l25-19-27-7-25 22z"/><path class="c36" d="M3813 763l25-28-27-7-24 30z"/><path class="c50" d="M4145 524l25-27-27 17-25 27z"/><path class="c37" d="M3865 740l24-31-27-6-24 32z"/><path class="c20" d="M4663 1040l24-5-27-216-24 5z"/><path class="c55" d="M4555 444l25-7-27-78-25 8z"/><path class="c39" d="M3916 712l24-33-27-2-24 32z"/><path class="c0" d="M4692 1371l24-5-26-106-25 5z"/><path class="c53" d="M4197 474l24-25-27 24-24 24z"/><path class="c41" d="M3967 679l25-33-27 2-25 31z"/><path class="c49" d="M4582 542l25-6-27-99-25 7z"/><path class="c32" d="M4636 824l24-5-27-148-24 6z"/><path class="c6" d="M4665 1265l25-5-27-220-25 5z"/><path class="c43" d="M4018 643l25-33-27 5-24 31z"/><path class="c56" d="M4248 428l24-22-27 21-24 22z"/><path class="c41" d="M4609 677l24-6-26-135-25 6z"/><path class="c59" d="M4504 377l24-10-26-36-25 10z"/><path class="c46" d="M4070 602l24-32-27 9-24 31z"/><path class="c58" d="M4299 395l24-19-26 11-25 19z"/><path class="c60" d="M4453 353l24-12-27-13-24 12z"/><path class="c59" d="M4350 369l25-17-27 7-25 17z"/><path class="c60" d="M4402 354l24-14-27-2-24 14z"/><path class="c35" d="M3789 782l24-19-26-5-25 19z"/><path class="c48" d="M4121 555l24-31-27 17-24 29z"/><path class="c36" d="M3840 767l25-27-27-5-25 28z"/><path class="c37" d="M3892 743l24-31-27-3-24 31z"/><path class="c20" d="M4638 1045l25-5-27-216-25 5z"/><path class="c55" d="M4531 452l24-8-27-77-24 10z"/><path class="c39" d="M3943 712l24-33-27 0-24 33z"/><path class="c52" d="M4172 502l25-28-27 23-25 27z"/><path class="c0" d="M4668 1376l24-5-27-106-24 5z"/><path class="c41" d="M3994 677l24-34-26 3-25 33z"/><path class="c55" d="M4223 454l25-26-27 21-24 25z"/><path class="c49" d="M4558 550l24-8-27-98-24 8z"/><path class="c44" d="M4045 636l25-34-27 8-25 33z"/><path class="c32" d="M4611 829l25-5-27-147-24 6z"/><path class="c6" d="M4641 1270l24-5-27-220-24 5z"/><path class="c41" d="M4585 683l24-6-27-135-24 8z"/><path class="c59" d="M4480 387l24-10-27-36-24 12z"/><path class="c57" d="M4275 417l24-22-27 11-24 22z"/><path class="c47" d="M4096 588l25-33-27 15-24 32z"/><path class="c59" d="M4326 388l24-19-27 7-24 19z"/><path class="c60" d="M4428 366l25-13-27-13-24 14zM4377 369l25-15-27-2-25 17z"/><path class="c35" d="M3816 785l24-18-27-4-24 19z"/><path class="c36" d="M3867 770l25-27-27-3-25 27z"/><path class="c38" d="M3918 744l25-32-27 0-24 31z"/><path class="c50" d="M4148 534l24-32-27 22-24 31z"/><path class="c40" d="M3970 711l24-34-27 2-24 33z"/><path class="c54" d="M4506 461l25-9-27-75-24 10z"/><path class="c20" d="M4614 1050l24-5-27-216-24 6z"/><path class="c53" d="M4199 482l24-28-26 20-25 28z"/><path class="c0" d="M4643 1381l25-5-27-106-25 5z"/><path class="c42" d="M4021 671l24-35-27 7-24 34z"/><path class="c49" d="M4533 557l25-7-27-98-25 9z"/><path class="c56" d="M4250 442l25-25-27 11-25 26z"/><path class="c32" d="M4587 835l24-6-26-146-25 6z"/><path class="c6" d="M4616 1275l25-5-27-220-24 5z"/><path class="c45" d="M4072 623l24-35-26 14-25 34z"/><path class="c58" d="M4455 399l25-12-27-34-25 13z"/><path class="c41" d="M4560 689l25-6-27-133-25 7z"/><path class="c58" d="M4302 409l24-21-27 7-24 22z"/><path class="c59" d="M4404 381l24-15-26-12-25 15zM4353 388l24-19-27 0-24 19z"/><path class="c35" d="M3843 788l24-18-27-3-24 18z"/><path class="c36" d="M3894 772l24-28-26-1-25 27z"/><path class="c48" d="M4123 568l25-34-27 21-25 33z"/><path class="c38" d="M3945 744l25-33-27 1-25 32z"/><path class="c40" d="M3996 707l25-36-27 6-24 34z"/><path class="c52" d="M4175 513l24-31-27 20-24 32z"/><path class="c54" d="M4482 471l24-10-26-74-25 12z"/><path class="c20" d="M4590 1055l24-5-27-215-24 5z"/><path class="c0" d="M4619 1386l24-5-27-106-24 5z"/><path class="c43" d="M4048 660l24-37-27 13-24 35z"/><path class="c54" d="M4226 470l24-28-27 12-24 28z"/><path class="c49" d="M4509 565l24-8-27-96-24 10z"/><path class="c58" d="M4431 412l24-13-27-33-24 15z"/><path class="c56" d="M4277 434l25-25-27 8-25 25z"/><path class="c32" d="M4563 840l24-5-27-146-24 6z"/><path class="c6" d="M4592 1280l24-5-26-220-25 5z"/><path class="c41" d="M4536 695l24-6-27-132-24 8z"/><path class="c46" d="M4099 604l24-36-27 20-24 35z"/><path class="c58" d="M4328 408l25-20-27 0-24 21z"/><path class="c59" d="M4380 397l24-16-27-12-24 19z"/><path class="c35" d="M3870 790l24-18-27-2-24 18z"/><path class="c36" d="M3921 773l24-29-27 0-24 28z"/><path class="c38" d="M3972 741l24-34-26 4-25 33z"/><path class="c50" d="M4150 548l25-35-27 21-25 34z"/><path class="c54" d="M4458 482l24-11-27-72-24 13z"/><path class="c41" d="M4023 697l25-37-27 11-25 36z"/><path class="c20" d="M4565 1060l25-5-27-215-25 6z"/><path class="c53" d="M4201 501l25-31-27 12-24 31z"/><path class="c0" d="M4594 1391l25-5-27-106-24 5z"/><path class="c55" d="M4253 461l24-27-27 8-24 28z"/><path class="c44" d="M4075 642l24-38-27 19-24 37z"/><path class="c48" d="M4485 574l24-9-27-94-24 11z"/><path class="c57" d="M4406 426l25-14-27-31-24 16zM4304 432l24-24-26 1-25 25z"/><path class="c32" d="M4538 846l25-6-27-145-25 7z"/><path class="c58" d="M4355 416l25-19-27-9-25 20z"/><path class="c6" d="M4568 1285l24-5-27-220-24 5z"/><path class="c41" d="M4511 702l25-7-27-130-24 9z"/><path class="c36" d="M3896 791l25-18-27-1-24 18z"/><path class="c48" d="M4126 584l24-36-27 20-24 36z"/><path class="c37" d="M3948 770l24-29-27 3-24 29z"/><path class="c39" d="M3999 733l24-36-27 10-24 34z"/><path class="c51" d="M4177 535l24-34-26 12-25 35z"/><path class="c53" d="M4433 494l25-12-27-70-25 14z"/><path class="c42" d="M4050 680l25-38-27 18-25 37z"/><path class="c20" d="M4541 1065l24-5-27-214-24 6z"/><path class="c53" d="M4228 491l25-30-27 9-25 31z"/><path class="c0" d="M4570 1396l24-5-26-106-25 5z"/><path class="c56" d="M4382 443l24-17-26-29-25 19zM4280 458l24-26-27 2-24 27z"/><path class="c48" d="M4460 584l25-10-27-92-25 12z"/><path class="c57" d="M4331 438l24-22-27-8-24 24z"/><path class="c46" d="M4101 623l25-39-27 20-24 38z"/><path class="c32" d="M4514 852l24-6-27-144-24 7z"/><path class="c41" d="M4487 709l24-7-26-128-25 10z"/><path class="c6" d="M4543 1290l25-5-27-220-25 5z"/><path class="c36" d="M3923 790l25-20-27 3-25 18z"/><path class="c38" d="M3974 764l25-31-27 8-24 29z"/><path class="c49" d="M4153 571l24-36-27 13-24 36z"/><path class="c40" d="M4026 717l24-37-27 17-24 36z"/><path class="c53" d="M4409 507l24-13-27-68-24 17z"/><path class="c52" d="M4204 524l24-33-27 10-24 34z"/><path class="c20" d="M4516 1070l25-5-27-213-25 6z"/><path class="c54" d="M4255 487l25-29-27 3-25 30z"/><path class="c44" d="M4077 661l24-38-26 19-25 38z"/><path class="c56" d="M4358 461l24-18-27-27-24 22zM4306 462l25-24-27-6-24 26z"/><path class="c0" d="M4546 1401l24-5-27-106-24 5z"/><path class="c48" d="M4436 595l24-11-27-90-24 13z"/><path class="c32" d="M4489 858l25-6-27-143-24 7z"/><path class="c41" d="M4463 716l24-7-27-125-24 11z"/><path class="c47" d="M4128 609l25-38-27 13-25 39z"/><path class="c37" d="M3950 784l24-20-26 6-25 20z"/><path class="c6" d="M4519 1295l24-5-27-220-24 5z"/><path class="c39" d="M4001 748l25-31-27 16-25 31z"/><path class="c50" d="M4180 560l24-36-27 11-24 36z"/><path class="c52" d="M4384 522l25-15-27-64-24 18z"/><path class="c42" d="M4053 698l24-37-27 19-24 37z"/><path class="c52" d="M4231 518l24-31-27 4-24 33z"/><path class="c55" d="M4333 482l25-21-27-23-25 24z"/><path class="c54" d="M4282 488l24-26-26-4-25 29z"/><path class="c20" d="M4492 1075l24-5-27-212-24 6z"/><path class="c47" d="M4411 606l25-11-27-88-25 15z"/><path class="c45" d="M4104 647l24-38-27 14-24 38z"/><path class="c0" d="M4521 1406l25-5-27-106-25 5z"/><path class="c40" d="M4438 724l25-8-27-121-25 11z"/><path class="c32" d="M4465 864l24-6-26-142-25 8z"/><path class="c6" d="M4494 1300l25-5-27-220-24 5z"/><path class="c48" d="M4155 597l25-37-27 11-25 38z"/><path class="c38" d="M3977 769l24-21-27 16-24 20z"/><path class="c40" d="M4028 729l25-31-27 19-25 31z"/><path class="c51" d="M4360 538l24-16-26-61-25 21zM4206 552l25-34-27 6-24 36z"/><path class="c53" d="M4258 517l24-29-27-1-24 31zM4309 505l24-23-27-20-24 26z"/><path class="c43" d="M4079 683l25-36-27 14-24 37z"/><path class="c20" d="M4468 1080l24-5-27-211-24 6z"/><path class="c47" d="M4387 619l24-13-27-84-24 16z"/><path class="c0" d="M4497 1411l24-5-27-106-24 5z"/><path class="c46" d="M4131 634l24-37-27 12-24 38z"/><path class="c40" d="M4414 733l24-9-27-118-24 13z"/><path class="c32" d="M4441 870l24-6-27-140-24 9z"/><path class="c6" d="M4470 1305l24-5-26-220-25 5z"/><path class="c49" d="M4182 587l24-35-26 8-25 37z"/><path class="c39" d="M4004 750l24-21-27 19-24 21z"/><path class="c51" d="M4336 556l24-18-27-56-24 23zM4233 548l25-31-27 1-25 34z"/><path class="c41" d="M4055 714l24-31-26 15-25 31z"/><path class="c52" d="M4284 530l25-25-27-17-24 29z"/><path class="c44" d="M4106 669l25-35-27 13-25 36z"/><path class="c46" d="M4363 633l24-14-27-81-24 18z"/><path class="c20" d="M4443 1085l25-5-27-210-25 7z"/><path class="c0" d="M4472 1416l25-5-27-106-24 5z"/><path class="c47" d="M4158 622l24-35-27 10-24 37z"/><path class="c40" d="M4389 741l25-8-27-114-24 14z"/><path class="c32" d="M4416 877l25-7-27-137-25 8z"/><path class="c6" d="M4446 1310l24-5-27-220-24 5z"/><path class="c50" d="M4311 575l25-19-27-51-25 25zM4209 580l24-32-27 4-24 35z"/><path class="c51" d="M4260 556l24-26-26-13-25 31z"/><path class="c41" d="M4031 735l24-21-27 15-24 21z"/><path class="c43" d="M4082 700l24-31-27 14-24 31z"/><path class="c46" d="M4338 647l25-14-27-77-25 19z"/><path class="c45" d="M4133 656l25-34-27 12-25 35z"/><path class="c20" d="M4419 1090l24-5-27-208-24 6z"/><path class="c0" d="M4448 1421l24-5-26-106-25 5z"/><path class="c40" d="M4365 751l24-10-26-108-25 14z"/><path class="c48" d="M4184 612l25-32-27 7-24 35z"/><path class="c32" d="M4392 883l24-6-27-136-24 10z"/><path class="c49" d="M4287 596l24-21-27-45-24 26z"/><path class="c50" d="M4236 583l24-27-27-8-24 32z"/><path class="c6" d="M4421 1315l25-5-27-220-25 4z"/><path class="c42" d="M4058 720l24-20-27 14-24 21z"/><path class="c44" d="M4109 685l24-29-27 13-24 31z"/><path class="c45" d="M4314 663l24-16-27-72-24 21z"/><path class="c20" d="M4394 1094l25-4-27-207-25 7z"/><path class="c46" d="M4160 643l24-31-26 10-25 34z"/><path class="c48" d="M4262 617l25-21-27-40-24 27z"/><path class="c39" d="M4341 760l24-9-27-104-24 16z"/><path class="c0" d="M4424 1426l24-5-27-106-24 5z"/><path class="c48" d="M4211 611l25-28-27-3-25 32z"/><path class="c32" d="M4367 890l25-7-27-132-24 9z"/><path class="c6" d="M4397 1320l24-5-27-221-24 5z"/><path class="c43" d="M4084 704l25-19-27 15-24 20z"/><path class="c44" d="M4289 679l25-16-27-67-25 21z"/><path class="c45" d="M4136 670l24-27-27 13-24 29z"/><path class="c20" d="M4370 1099l24-5-27-204-24 7z"/><path class="c47" d="M4187 637l24-26-27 1-24 31zM4238 638l24-21-26-34-25 28z"/><path class="c39" d="M4316 770l25-10-27-97-25 16z"/><path class="c0" d="M4399 1431l25-5-27-106-25 5z"/><path class="c32" d="M4343 897l24-7-26-130-25 10z"/><path class="c6" d="M4372 1325l25-5-27-221-24 5z"/><path class="c44" d="M4265 695l24-16-27-62-24 21zM4111 687l25-17-27 15-25 19z"/><path class="c46" d="M4162 660l25-23-27 6-24 27zM4214 659l24-21-27-27-24 26z"/><path class="c20" d="M4346 1104l24-5-27-202-24 7z"/><path class="c39" d="M4292 780l24-10-27-91-24 16z"/><path class="c0" d="M4375 1436l24-5-27-106-24 5z"/><path class="c32" d="M4319 904l24-7-27-127-24 10z"/><path class="c6" d="M4348 1330l24-5-26-221-25 5z"/><path class="c43" d="M4241 710l24-15-27-57-24 21z"/><path class="c45" d="M4138 675l24-15-26 10-25 17zM4189 677l25-18-27-22-25 23z"/><path class="c20" d="M4321 1109l25-5-27-200-25 7z"/><path class="c39" d="M4267 789l25-9-27-85-24 15z"/><path class="c0" d="M4350 1441l25-5-27-106-24 5z"/><path class="c31" d="M4294 911l25-7-27-124-25 9z"/><path class="c6" d="M4324 1335l24-5-27-221-24 5z"/><path class="c43" d="M4216 724l25-14-27-51-25 18z"/><path class="c45" d="M4165 689l24-12-27-17-24 15z"/><path class="c38" d="M4243 798l24-9-26-79-25 14z"/><path class="c20" d="M4297 1114l24-5-27-198-24 6z"/><path class="c0" d="M4326 1446l24-5-26-106-25 5z"/><path class="c31" d="M4270 917l24-6-27-122-24 9z"/><path class="c42" d="M4192 734l24-10-27-47-24 12z"/><path class="c6" d="M4299 1340l25-5-27-221-25 5z"/><path class="c38" d="M4219 805l24-7-27-74-24 10z"/><path class="c20" d="M4272 1119l25-5-27-197-25 6z"/><path class="c31" d="M4245 923l25-6-27-119-24 7z"/></g><line x1="432.6" y1="169.9" x2="530.2" y2="150.0" class="ax"/><line x1="432.6" y1="169.9" x2="325.2" y2="151.5" class="ax"/><line x1="325.2" y1="151.5" x2="325.2" y2="24.9" class="ax"/><line x1="325.2" y1="151.5" x2="322.8" y2="151.5" class="ax"/><line x1="325.2" y1="126.2" x2="322.8" y2="126.2" class="ax"/><line x1="325.2" y1="100.9" x2="322.8" y2="100.9" class="ax"/><line x1="325.2" y1="75.5" x2="322.8" y2="75.5" class="ax"/><line x1="325.2" y1="50.2" x2="322.8" y2="50.2" class="ax"/><line x1="325.2" y1="24.9" x2="322.8" y2="24.9" class="ax"/><line x1="432.6" y1="169.9" x2="435.0" y2="170.3" class="ax"/><line x1="432.6" y1="169.9" x2="430.2" y2="170.4" class="ax"/><line x1="481.4" y1="159.9" x2="483.8" y2="160.4" class="ax"/><line x1="378.9" y1="160.7" x2="376.5" y2="161.2" class="ax"/><line x1="530.2" y1="150.0" x2="532.6" y2="150.4" class="ax"/><line x1="325.2" y1="151.5" x2="322.8" y2="152.0" class="ax"/><line x1="195.2" y1="391.9" x2="91.7" y2="374.0" class="g"/><line x1="242.2" y1="382.3" x2="138.7" y2="364.4" class="g"/><line x1="96.4" y1="392.6" x2="190.4" y2="373.4" class="g"/><line x1="44.7" y1="383.6" x2="138.7" y2="364.4" class="g"/><line x1="91.7" y1="374.0" x2="91.7" y2="252.2" class="g"/><line x1="138.7" y1="364.4" x2="138.7" y2="242.6" class="g"/><line x1="44.7" y1="383.6" x2="138.7" y2="364.4" class="g"/><line x1="44.7" y1="359.2" x2="138.7" y2="340.0" class="g"/><line x1="44.7" y1="334.9" x2="138.7" y2="315.7" class="g"/><line x1="44.7" y1="310.5" x2="138.7" y2="291.3" class="g"/><line x1="44.7" y1="286.2" x2="138.7" y2="267.0" class="g"/><line x1="44.7" y1="261.8" x2="138.7" y2="242.6" class="g"/><line x1="242.2" y1="382.3" x2="242.2" y2="260.5" class="g"/><line x1="190.4" y1="373.4" x2="190.4" y2="251.6" class="g"/><line x1="138.7" y1="364.4" x2="138.7" y2="242.6" class="g"/><line x1="242.2" y1="382.3" x2="138.7" y2="364.4" class="g"/><line x1="242.2" y1="357.9" x2="138.7" y2="340.0" class="g"/><line x1="242.2" y1="333.6" x2="138.7" y2="315.7" class="g"/><line x1="242.2" y1="309.2" x2="138.7" y2="291.3" class="g"/><line x1="242.2" y1="284.9" x2="138.7" y2="267.0" class="g"/><line x1="242.2" y1="260.5" x2="138.7" y2="242.6" class="g"/><g transform="scale(.1)" stroke="#000" stroke-width="4.5" stroke-linejoin="round"><path class="c6" d="M1389 3317l24-4-26 87-23 5zM1366 3322l23-5-25 88-24 5z"/><path class="c19" d="M1415 3125l24-5-26 193-24 4z"/><path class="c6" d="M1342 3327l24-5-26 88-24 5z"/><path class="c19" d="M1392 3130l23-5-26 192-23 5z"/><path class="c6" d="M1319 3332l23-5-26 88-23 5z"/><path class="c19" d="M1368 3135l24-5-26 192-24 5z"/><path class="c6" d="M1295 3337l24-5-26 88-23 4z"/><path class="c19" d="M1345 3139l23-4-26 192-23 5z"/><path class="c6" d="M1272 3341l23-4-25 87-24 5z"/><path class="c19" d="M1321 3144l24-5-26 193-24 5z"/><path class="c6" d="M1248 3346l24-5-26 88-23 5z"/><path class="c19" d="M1298 3149l23-5-26 193-23 4z"/><path class="c6" d="M1225 3351l23-5-25 88-24 5z"/><path class="c30" d="M1371 2960l23-3-26 178-23 4z"/><path class="c19" d="M1274 3154l24-5-26 192-24 5z"/><path class="c6" d="M1201 3356l24-5-26 88-23 5z"/><path class="c30" d="M1347 2962l24-2-26 179-24 5z"/><path class="c19" d="M1251 3159l23-5-26 192-23 5z"/><path class="c6" d="M1178 3361l23-5-25 88-24 4z"/><path class="c30" d="M1324 2965l23-3-26 182-23 5z"/><path class="c19" d="M1227 3163l24-4-26 192-24 5z"/><path class="c6" d="M1154 3365l24-4-26 87-24 5z"/><path class="c31" d="M1300 2969l24-4-26 184-24 5z"/><path class="c19" d="M1204 3168l23-5-26 193-23 5z"/><path class="c6" d="M1131 3370l23-5-26 88-23 5z"/><path class="c31" d="M1277 2972l23-3-26 185-23 5z"/><path class="c19" d="M1180 3173l24-5-26 193-24 4z"/><path class="c6" d="M1107 3375l24-5-26 88-23 5z"/><path class="c31" d="M1253 2976l24-4-26 187-24 4z"/><path class="c19" d="M1157 3178l23-5-26 192-23 5z"/><path class="c6" d="M1084 3380l23-5-25 88-24 5z"/><path class="c31" d="M1230 2980l23-4-26 187-23 5z"/><path class="c19" d="M1133 3183l24-5-26 192-24 5z"/><path class="c6" d="M1060 3385l24-5-26 88-24 4z"/><path class="c31" d="M1206 2984l24-4-26 188-24 5z"/><path class="c19" d="M1110 3187l23-4-26 192-23 5z"/><path class="c6" d="M1037 3389l23-4-26 87-23 5z"/><path class="c31" d="M1183 2988l23-4-26 189-23 5z"/><path class="c19" d="M1086 3192l24-5-26 193-24 5z"/><path class="c6" d="M1013 3394l24-5-26 88-23 5z"/><path class="c31" d="M1159 2993l24-5-26 190-24 5z"/><path class="c19" d="M1063 3197l23-5-26 193-23 4z"/><path class="c6" d="M990 3399l23-5-25 88-24 5z"/><path class="c31" d="M1136 2997l23-4-26 190-23 4z"/><path class="c19" d="M1039 3202l24-5-26 192-24 5z"/><path class="c6" d="M966 3404l24-5-26 88-24 5z"/><path class="c31" d="M1112 3002l24-5-26 190-24 5z"/><path class="c19" d="M1016 3207l23-5-26 192-23 5z"/><path class="c6" d="M943 3409l23-5-26 88-23 4z"/><path class="c31" d="M1089 3007l23-5-26 190-23 5z"/><path class="c19" d="M992 3211l24-4-26 192-24 5z"/><path class="c6" d="M919 3413l24-4-26 87-23 5z"/><path class="c31" d="M1065 3011l24-4-26 190-24 5z"/><path class="c52" d="M1556 2667l24 29-26-19-23-28z"/><path class="c19" d="M969 3216l23-5-26 193-23 5z"/><path class="c6" d="M896 3418l23-5-25 88-24 5z"/><path class="c31" d="M1042 3016l23-5-26 191-23 5z"/><path class="c51" d="M1582 2692l24 29-26-25-24-29z"/><path class="c54" d="M1533 2643l23 24-25-18-24-23z"/><path class="c19" d="M945 3221l24-5-26 193-24 4z"/><path class="c6" d="M872 3423l24-5-26 88-24 5z"/><path class="c56" d="M1484 2608l23 18-26-14-23-18z"/><path class="c31" d="M1018 3021l24-5-26 191-24 4z"/><path class="c58" d="M1434 2581l24 13-26-6-24-12z"/><path class="c19" d="M922 3226l23-5-26 192-23 5z"/><path class="c6" d="M849 3428l23-5-26 88-23 5z"/><path class="c55" d="M1510 2624l23 19-26-17-23-18z"/><path class="c31" d="M995 3026l23-5-26 190-23 5z"/><path class="c57" d="M1460 2594l24 14-26-14-24-13z"/><path class="c51" d="M1585 2697l23 23-26-28-23-23z"/><path class="c59" d="M1411 2572l23 9-26-5-23-8zM1361 2563l24 5-26 5-23-4z"/><path class="c54" d="M1535 2650l24 19-26-26-23-19z"/><path class="c19" d="M898 3231l24-5-26 192-24 5z"/><path class="c6" d="M825 3433l24-5-26 88-23 4z"/><path class="c31" d="M971 3030l24-4-26 190-24 5z"/><path class="c58" d="M1437 2584l23 10-26-13-23-9z"/><path class="c52" d="M1561 2679l24 18-26-28-24-19z"/><path class="c60" d="M1338 2560l23 3-25 6-24-2z"/><path class="c19" d="M875 3235l23-4-26 192-23 5z"/><path class="c6" d="M802 3437l23-4-25 87-24 5z"/><path class="c55" d="M1512 2636l23 14-25-26-24-14z"/><path class="c31" d="M948 3035l23-5-26 191-23 5z"/><path class="c57" d="M1462 2601l24 9-26-16-23-10z"/><path class="c59" d="M1413 2578l24 6-26-12-24-6z"/><path class="c53" d="M1538 2666l23 13-26-29-23-14z"/><path class="c60" d="M1364 2563l23 3-26-3-23-3zM1314 2559l24 1-26 7-24 0z"/><path class="c19" d="M851 3240l24-5-26 193-24 5z"/><path class="c6" d="M778 3442l24-5-26 88-23 5z"/><path class="c56" d="M1488 2627l24 9-26-26-24-9z"/><path class="c31" d="M924 3040l24-5-26 191-24 5z"/><path class="c58" d="M1439 2594l23 7-25-17-24-6z"/><path class="c52" d="M1564 2690l23 13-26-24-23-13z"/><path class="c59" d="M1390 2575l23 3-26-12-23-3z"/><path class="c60" d="M1340 2562l24 1-26-3-24-1z"/><path class="c54" d="M1514 2656l24 10-26-30-24-9z"/><path class="c60" d="M1291 2560l23-1-26 8-23 2z"/><path class="c19" d="M828 3245l23-5-26 193-23 4z"/><path class="c6" d="M755 3447l23-5-25 88-24 5z"/><path class="c57" d="M1465 2620l23 7-26-26-23-7z"/><path class="c31" d="M901 3045l23-5-26 191-23 4z"/><path class="c59" d="M1416 2591l23 3-26-16-23-3z"/><path class="c53" d="M1540 2682l24 8-26-24-24-10z"/><path class="c60" d="M1366 2574l24 1-26-12-24-1zM1317 2563l23-1-26-3-23 1z"/><path class="c19" d="M804 3250l24-5-26 192-24 5z"/><path class="c6" d="M731 3452l24-5-26 88-23 5z"/><path class="c60" d="M1267 2562l24-2-26 9-23 2z"/><path class="c55" d="M1491 2650l23 6-26-29-23-7z"/><path class="c57" d="M1441 2617l24 3-26-26-23-3z"/><path class="c31" d="M877 3050l24-5-26 190-24 5z"/><path class="c52" d="M1566 2704l24 9-26-23-24-8z"/><path class="c59" d="M1392 2589l24 2-26-16-24-1z"/><path class="c54" d="M1517 2676l23 6-26-26-23-6z"/><path class="c60" d="M1343 2574l23 0-26-12-23 1z"/><path class="c61" d="M1293 2565l24-2-26-3-24 2z"/><path class="c19" d="M781 3255l23-5-26 192-23 5z"/><path class="c6" d="M708 3457l23-5-25 88-24 4z"/><path class="c61" d="M1244 2565l23-3-25 9-24 3z"/><path class="c56" d="M1467 2647l24 3-26-30-24-3z"/><path class="c31" d="M854 3055l23-5-26 190-23 5z"/><path class="c58" d="M1418 2616l23 1-25-26-24-2z"/><path class="c53" d="M1542 2699l24 5-26-22-23-6z"/><path class="c59" d="M1368 2590l24-1-26-15-23 0z"/><path class="c54" d="M1493 2673l24 3-26-26-24-3z"/><path class="c60" d="M1319 2576l24-2-26-11-24 2z"/><path class="c61" d="M1270 2568l23-3-26-3-23 3z"/><path class="c19" d="M757 3259l24-4-26 192-24 5z"/><path class="c6" d="M684 3461l24-4-26 87-23 5z"/><path class="c61" d="M1220 2569l24-4-26 9-24 4z"/><path class="c56" d="M1444 2646l23 1-26-30-23-1z"/><path class="c31" d="M830 3060l24-5-26 190-24 5z"/><path class="c58" d="M1394 2616l24 0-26-27-24 1z"/><path class="c53" d="M1519 2696l23 3-25-23-24-3z"/><path class="c59" d="M1345 2592l23-2-25-16-24 2z"/><path class="c55" d="M1470 2672l23 1-26-26-23-1z"/><path class="c60" d="M1296 2579l23-3-26-11-23 3z"/><path class="c19" d="M734 3264l23-5-26 193-23 5z"/><path class="c6" d="M661 3466l23-5-25 88-24 5z"/><path class="c61" d="M1246 2571l24-3-26-3-24 4zM1197 2572l23-3-26 9-23 4z"/><path class="c56" d="M1420 2647l24-1-26-30-24 0z"/><path class="c52" d="M1545 2721l23 3-26-25-23-3z"/><path class="c31" d="M807 3065l23-5-26 190-23 5z"/><path class="c58" d="M1371 2618l23-2-26-26-23 2z"/><path class="c53" d="M1495 2696l24 0-26-23-23-1z"/><path class="c60" d="M1321 2594l24-2-26-16-23 3zM1272 2582l24-3-26-11-24 3z"/><path class="c55" d="M1446 2673l24-1-26-26-24 1z"/><path class="c19" d="M710 3269l24-5-26 193-24 4z"/><path class="c6" d="M637 3471l24-5-26 88-24 5z"/><path class="c61" d="M1223 2575l23-4-26-2-23 3zM1173 2577l24-5-26 10-24 4z"/><path class="c56" d="M1397 2649l23-2-26-31-23 2z"/><path class="c31" d="M783 3070l24-5-26 190-24 4z"/><path class="c52" d="M1521 2720l24 1-26-25-24 0z"/><path class="c58" d="M1347 2621l24-3-26-26-24 2z"/><path class="c54" d="M1472 2697l23-1-25-24-24 1z"/><path class="c60" d="M1298 2598l23-4-25-15-24 3zM1249 2586l23-4-26-11-23 4z"/><path class="c55" d="M1423 2675l23-2-26-26-23 2z"/><path class="c19" d="M687 3274l23-5-26 192-23 5z"/><path class="c6" d="M614 3476l23-5-26 88-23 5z"/><path class="c61" d="M1199 2579l24-4-26-3-24 5zM1150 2581l23-4-26 9-23 4z"/><path class="c57" d="M1373 2651l24-2-26-31-24 3z"/><path class="c31" d="M760 3076l23-6-26 189-23 5z"/><path class="c52" d="M1498 2721l23-1-26-24-23 1z"/><path class="c58" d="M1324 2624l23-3-26-27-23 4z"/><path class="c54" d="M1448 2699l24-2-26-24-23 2z"/><path class="c60" d="M1274 2601l24-3-26-16-23 4zM1225 2590l24-4-26-11-24 4z"/><path class="c55" d="M1399 2678l24-3-26-26-24 2z"/><path class="c19" d="M663 3279l24-5-26 192-24 5z"/><path class="c6" d="M590 3481l24-5-26 88-24 4z"/><path class="c61" d="M1176 2583l23-4-26-2-23 4z"/><path class="c46" d="M2217 2831l24 7-26 11-23-9z"/><path class="c61" d="M1126 2586l24-5-26 9-24 5z"/><path class="c57" d="M1350 2655l23-4-26-30-23 3z"/><path class="c31" d="M736 3081l24-5-26 188-24 5z"/><path class="c53" d="M1474 2723l24-2-26-24-24 2z"/><path class="c58" d="M1300 2628l24-4-26-26-24 3z"/><path class="c54" d="M1425 2701l23-2-25-24-24 3z"/><path class="c60" d="M1251 2605l23-4-25-15-24 4zM1202 2594l23-4-26-11-23 4z"/><path class="c45" d="M2243 2847l24 4-26-13-24-7z"/><path class="c55" d="M1376 2681l23-3-26-27-23 4z"/><path class="c19" d="M640 3283l23-4-26 192-23 5z"/><path class="c6" d="M567 3485l23-4-26 87-23 5z"/><path class="c61" d="M1152 2589l24-6-26-2-24 5zM1103 2592l23-6-26 9-23 6z"/><path class="c47" d="M2194 2816l23 15-25 9-24-20z"/><path class="c51" d="M1500 2746l24-2-26-23-24 2z"/><path class="c57" d="M1326 2658l24-3-26-31-24 4z"/><path class="c31" d="M713 3087l23-6-26 188-23 5z"/><path class="c0" d="M2398 3584l24-5-26-102-23 5z"/><path class="c53" d="M1451 2726l23-3-26-24-23 2z"/><path class="c39" d="M786 2950l23-7-26 127-23 6z"/><path class="c58" d="M1277 2632l23-4-26-27-23 4z"/><path class="c6" d="M2373 3482l23-5-26-212-23 5z"/><path class="c43" d="M2269 2893l24 1-26-43-24-4z"/><path class="c54" d="M1402 2705l23-4-26-23-23 3z"/><path class="c60" d="M1227 2610l24-5-26-15-23 4zM1178 2600l24-6-26-11-24 6z"/><path class="c55" d="M1352 2685l24-4-26-26-24 3z"/><path class="c19" d="M616 3288l24-5-26 193-24 5z"/><path class="c6" d="M543 3490l24-5-26 88-23 5z"/><path class="c61" d="M1129 2594l23-5-26-3-23 6zM1079 2597l24-5-26 9-24 5z"/><path class="c46" d="M2220 2838l23 9-26-16-23-15z"/><path class="c38" d="M2295 2965l23-2-25-69-24-1z"/><path class="c52" d="M1477 2748l23-2-26-23-23 3z"/><path class="c20" d="M2347 3270l23-5-26-189-23 4z"/><path class="c57" d="M1303 2663l23-5-26-30-23 4z"/><path class="c49" d="M2170 2797l24 19-26 4-24-23z"/><path class="c31" d="M689 3093l24-6-26 187-24 5z"/><path class="c0" d="M2375 3589l23-5-25-102-24 5z"/><path class="c31" d="M2321 3080l23-4-26-113-23 2z"/><path class="c53" d="M1427 2729l24-3-26-25-23 4z"/><path class="c39" d="M762 2957l24-7-26 126-24 5z"/><path class="c58" d="M1253 2636l24-4-26-27-24 5z"/><path class="c6" d="M2349 3487l24-5-26-212-24 5z"/><path class="c54" d="M1378 2709l24-4-26-24-24 4z"/><path class="c60" d="M1204 2615l23-5-25-16-24 6z"/><path class="c43" d="M2246 2888l23 5-26-46-23-9z"/><path class="c60" d="M1155 2605l23-5-26-11-23 5z"/><path class="c55" d="M1329 2689l23-4-26-27-23 5z"/><path class="c19" d="M593 3293l23-5-26 193-23 4z"/><path class="c6" d="M520 3495l23-5-25 88-24 5z"/><path class="c61" d="M1105 2600l24-6-26-2-24 5zM1056 2603l23-6-26 9-23 6z"/><path class="c47" d="M2196 2826l24 12-26-22-24-19z"/><path class="c39" d="M2272 2966l23-1-26-72-23-5z"/><path class="c20" d="M2323 3275l24-5-26-190-24 3z"/><path class="c52" d="M1453 2751l24-3-26-22-24 3z"/><path class="c57" d="M1279 2667l24-4-26-31-24 4z"/><path class="c30" d="M666 3100l23-7-26 186-23 4z"/><path class="c0" d="M2352 3594l23-5-26-102-23 5z"/><path class="c31" d="M2297 3083l24-3-26-115-23 1z"/><path class="c39" d="M739 2964l23-7-26 124-23 6z"/><path class="c53" d="M1404 2733l23-4-25-24-24 4z"/><path class="c58" d="M1230 2641l23-5-26-26-23 5z"/><path class="c50" d="M2147 2778l23 19-26 0-23-24z"/><path class="c6" d="M2326 3492l23-5-26-212-23 5z"/><path class="c54" d="M1354 2713l24-4-26-24-23 4z"/><path class="c60" d="M1180 2621l24-6-26-15-23 5z"/><path class="c44" d="M2222 2882l24 6-26-50-24-12z"/><path class="c60" d="M1131 2611l24-6-26-11-24 6z"/><path class="c59" d="M983 2626l23-7-25 29-24 7z"/><path class="c55" d="M1305 2694l24-5-26-26-24 4z"/><path class="c19" d="M569 3298l24-5-26 192-24 5z"/><path class="c6" d="M496 3500l24-5-26 88-24 5z"/><path class="c61" d="M1082 2606l23-6-26-3-23 6z"/><path class="c20" d="M2300 3280l23-5-26-192-23 3z"/><path class="c52" d="M1430 2755l23-4-26-22-23 4z"/><path class="c57" d="M1256 2672l23-5-26-31-23 5z"/><path class="c39" d="M2248 2965l24 1-26-78-24-6z"/><path class="c30" d="M642 3106l24-6-26 183-24 5z"/><path class="c48" d="M2173 2813l23 13-26-29-23-19z"/><path class="c0" d="M2328 3599l24-5-26-102-24 4z"/><path class="c39" d="M715 2972l24-8-26 123-24 6z"/><path class="c32" d="M2274 3086l23-3-25-117-24-1z"/><path class="c53" d="M1380 2737l24-4-26-24-24 4z"/><path class="c58" d="M1206 2647l24-6-26-26-24 6z"/><path class="c6" d="M2302 3496l24-4-26-212-24 4z"/><path class="c60" d="M1157 2626l23-5-25-16-24 6z"/><path class="c54" d="M1331 2717l23-4-25-24-24 5z"/><path class="c52" d="M2123 2759l24 19-26-5-23-24z"/><path class="c60" d="M1108 2617l23-6-26-11-23 6z"/><path class="c59" d="M960 2635l23-9-26 29-23 8z"/><path class="c45" d="M2199 2875l23 7-26-56-23-13z"/><path class="c61" d="M1058 2613l24-7-26-3-24 7z"/><path class="c55" d="M1282 2699l23-5-26-27-23 5z"/><path class="c19" d="M546 3303l23-5-26 192-23 5z"/><path class="c6" d="M473 3505l23-5-26 88-23 4z"/><path class="c51" d="M1456 2772l23-3-26-18-23 4z"/><path class="c57" d="M1232 2678l24-6-26-31-24 6z"/><path class="c20" d="M2276 3284l24-4-26-194-24 3z"/><path class="c52" d="M1406 2759l24-4-26-22-24 4z"/><path class="c30" d="M619 3113l23-7-26 182-23 5z"/><path class="c39" d="M2224 2965l24 0-26-83-23-7z"/><path class="c0" d="M2304 3603l24-4-26-103-23 5z"/><path class="c38" d="M691 2981l24-9-26 121-23 7z"/><path class="c53" d="M1357 2741l23-4-26-24-23 4z"/><path class="c32" d="M2250 3089l24-3-26-121-24 0z"/><path class="c49" d="M2149 2801l24 12-26-35-24-19z"/><path class="c58" d="M1183 2653l23-6-26-26-23 5z"/><path class="c6" d="M2279 3501l23-5-26-212-23 5z"/><path class="c60" d="M1133 2633l24-7-26-15-23 6z"/><path class="c54" d="M1308 2722l23-5-26-23-23 5z"/><path class="c60" d="M1084 2624l24-7-26-11-24 7z"/><path class="c53" d="M2100 2742l23 17-25-10-24-22z"/><path class="c60" d="M1035 2621l23-8-26-3-23 8z"/><path class="c55" d="M1258 2704l24-5-26-27-24 6z"/><path class="c19" d="M522 3307l24-4-26 192-24 5z"/><path class="c51" d="M1432 2776l24-4-26-17-24 4z"/><path class="c45" d="M2175 2868l24 7-26-62-24-12z"/><path class="c55" d="M2050 2709l24 18-26 0-23-22z"/><path class="c57" d="M1209 2683l23-5-26-31-23 6z"/><path class="c20" d="M2253 3289l23-5-26-195-23 3z"/><path class="c52" d="M1383 2763l23-4-26-22-23 4z"/><path class="c30" d="M595 3120l24-7-26 180-24 5z"/><path class="c38" d="M668 2990l23-9-25 119-24 6z"/><path class="c40" d="M2201 2965l23 0-25-90-24-7z"/><path class="c0" d="M2281 3608l23-5-25-102-24 5z"/><path class="c53" d="M1333 2747l24-6-26-24-23 5z"/><path class="c58" d="M1159 2659l24-6-26-27-24 7z"/><path class="c32" d="M2227 3092l23-3-26-124-23 0z"/><path class="c50" d="M2126 2790l23 11-26-42-23-17z"/><path class="c6" d="M2255 3506l24-5-26-212-24 5z"/><path class="c59" d="M1110 2640l23-7-25-16-24 7z"/><path class="c54" d="M1284 2728l24-6-26-23-24 5z"/><path class="c60" d="M1061 2632l23-8-26-11-23 8zM1011 2630l24-9-26-3-24 9zM962 2637l23-10-25 8-24 9z"/><path class="c55" d="M1235 2710l23-6-26-26-23 5z"/><path class="c19" d="M499 3312l23-5-26 193-23 5z"/><path class="c51" d="M1409 2780l23-4-26-17-23 4z"/><path class="c46" d="M2152 2862l23 6-26-67-23-11z"/><path class="c57" d="M1185 2690l24-7-26-30-24 6z"/><path class="c52" d="M1359 2769l24-6-26-22-24 6z"/><path class="c20" d="M2229 3294l24-5-26-197-24 2z"/><path class="c30" d="M572 3128l23-8-26 178-23 5z"/><path class="c38" d="M644 3001l24-11-26 116-23 7z"/><path class="c57" d="M2027 2693l23 16-25-4-24-18z"/><path class="c0" d="M2258 3613l23-5-26-102-23 5z"/><path class="c40" d="M2178 2965l23 0-26-97-23-6z"/><path class="c53" d="M1310 2752l23-5-25-25-24 6z"/><path class="c58" d="M1136 2666l23-7-26-26-23 7z"/><path class="c32" d="M2203 3094l24-2-26-127-23 0z"/><path class="c6" d="M2232 3511l23-5-26-212-23 5z"/><path class="c59" d="M1086 2647l24-7-26-16-23 8z"/><path class="c54" d="M1260 2734l24-6-26-24-23 6z"/><path class="c51" d="M2102 2780l24 10-26-48-24-15z"/><path class="c60" d="M1037 2641l24-9-26-11-24 9z"/><path class="c59" d="M938 2649l24-12-26 7-24 12z"/><path class="c60" d="M988 2640l23-10-26-3-23 10z"/><path class="c51" d="M1434 2789l24-4-26-9-23 4z"/><path class="c55" d="M1211 2716l24-6-26-27-24 7z"/><path class="c51" d="M1385 2786l24-6-26-17-24 6z"/><path class="c44" d="M694 2899l23-16-26 98-23 9z"/><path class="c56" d="M1162 2697l23-7-26-31-23 7z"/><path class="c55" d="M2053 2715l23 12-26-18-23-16z"/><path class="c52" d="M1336 2774l23-5-26-22-23 5z"/><path class="c47" d="M2128 2857l24 5-26-72-24-10z"/><path class="c20" d="M2206 3299l23-5-26-200-23 4z"/><path class="c30" d="M548 3134l24-6-26 175-24 4z"/><path class="c37" d="M621 3011l23-10-25 112-24 7z"/><path class="c0" d="M2234 3618l24-5-26-102-24 5z"/><path class="c58" d="M1112 2674l24-8-26-26-24 7z"/><path class="c53" d="M1286 2758l24-6-26-24-24 6z"/><path class="c40" d="M2154 2966l24-1-26-103-24-5z"/><path class="c58" d="M2004 2680l23 13-26-6-23-15z"/><path class="c32" d="M2180 3098l23-4-25-129-24 1z"/><path class="c59" d="M1063 2657l23-10-25-15-24 9z"/><path class="c6" d="M2208 3516l24-5-26-212-24 5z"/><path class="c54" d="M1237 2740l23-6-25-24-24 6z"/><path class="c59" d="M1954 2660l24 12-26 1-24-13zM1014 2652l23-11-26-11-23 10zM915 2664l23-15-26 7-23 13zM964 2653l24-13-26-3-24 12z"/><path class="c51" d="M1411 2795l23-6-25-9-24 6z"/><path class="c52" d="M2079 2773l23 7-26-53-23-12z"/><path class="c55" d="M1188 2723l23-7-26-26-23 7z"/><path class="c51" d="M1362 2791l23-5-26-17-23 5z"/><path class="c43" d="M670 2916l24-17-26 91-24 11z"/><path class="c56" d="M1138 2704l24-7-26-31-24 8z"/><path class="c52" d="M1312 2780l24-6-26-22-24 6z"/><path class="c20" d="M2182 3304l24-5-26-201-24 3z"/><path class="c30" d="M525 3141l23-7-26 173-23 5z"/><path class="c37" d="M597 3022l24-11-26 109-23 8z"/><path class="c47" d="M2105 2854l23 3-26-77-23-7z"/><path class="c56" d="M2029 2705l24 10-26-22-23-13z"/><path class="c0" d="M2210 3623l24-5-26-102-23 4z"/><path class="c58" d="M1089 2683l23-9-26-27-23 10z"/><path class="c53" d="M1263 2764l23-6-26-24-23 6z"/><path class="c40" d="M2130 2967l24-1-26-109-23-3z"/><path class="c32" d="M2156 3101l24-3-26-132-24 1z"/><path class="c59" d="M1039 2668l24-11-26-16-23 11z"/><path class="c6" d="M2185 3520l23-4-26-212-23 4z"/><path class="c59" d="M1980 2670l24 10-26-8-24-12z"/><path class="c54" d="M1214 2747l23-7-26-24-23 7z"/><path class="c59" d="M990 2665l24-13-26-12-24 13z"/><path class="c58" d="M891 2682l24-18-26 5-23 17z"/><path class="c59" d="M941 2668l23-15-26-4-23 15z"/><path class="c60" d="M1931 2651l23 9-26 0-23-10z"/><path class="c51" d="M1388 2801l23-6-26-9-23 5z"/><path class="c55" d="M1164 2731l24-8-26-26-24 7z"/><path class="c53" d="M2055 2767l24 6-26-58-24-10z"/><path class="c42" d="M647 2934l23-18-26 85-23 10z"/><path class="c51" d="M1338 2797l24-6-26-17-24 6z"/><path class="c53" d="M769 2770l24-24-26 51-24 18z"/><path class="c56" d="M1115 2713l23-9-26-30-23 9z"/><path class="c52" d="M1289 2787l23-7-26-22-23 6z"/><path class="c20" d="M2159 3308l23-4-26-203-23 3z"/><path class="c37" d="M574 3032l23-10-25 106-24 6z"/><path class="c57" d="M1065 2694l24-11-26-26-24 11z"/><path class="c48" d="M2081 2851l24 3-26-81-24-6z"/><path class="c0" d="M2187 3627l23-4-25-103-24 5z"/><path class="c53" d="M1239 2771l24-7-26-24-23 7z"/><path class="c55" d="M818 2729l24-23-26 20-23 20z"/><path class="c57" d="M2006 2698l23 7-25-25-24-10z"/><path class="c58" d="M1016 2681l23-13-25-16-24 13z"/><path class="c47" d="M696 2859l24-23-26 63-24 17z"/><path class="c41" d="M2107 2968l23-1-25-113-24-3z"/><path class="c32" d="M2133 3104l23-3-26-134-23 1z"/><path class="c57" d="M868 2703l23-21-25 4-24 20z"/><path class="c58" d="M967 2680l23-15-26-12-23 15z"/><path class="c6" d="M2161 3525l24-5-26-212-24 5z"/><path class="c54" d="M1190 2754l24-7-26-24-24 8z"/><path class="c58" d="M917 2687l24-19-26-4-24 18z"/><path class="c50" d="M1364 2807l24-6-26-10-24 6z"/><path class="c55" d="M1141 2740l23-9-26-27-23 9z"/><path class="c42" d="M623 2953l24-19-26 77-24 11z"/><path class="c61" d="M1907 2645l24 6-26-1-24-7z"/><path class="c51" d="M746 2797l23-27-26 45-23 21zM1315 2804l23-7-26-17-23 7z"/><path class="c53" d="M2032 2763l23 4-26-62-23-7z"/><path class="c56" d="M1091 2724l24-11-26-30-24 11z"/><path class="c51" d="M1265 2794l24-7-26-23-24 7z"/><path class="c36" d="M550 3040l24-8-26 102-23 7z"/><path class="c20" d="M2135 3313l24-5-26-204-24 4z"/><path class="c54" d="M795 2757l23-28-25 17-24 24z"/><path class="c57" d="M1042 2707l23-13-26-26-23 13z"/><path class="c0" d="M2164 3632l23-5-26-102-23 5z"/><path class="c52" d="M1216 2779l23-8-25-24-24 7z"/><path class="c46" d="M673 2884l23-25-26 57-23 18z"/><path class="c48" d="M2058 2850l23 1-26-84-23-4z"/><path class="c57" d="M992 2697l24-16-26-16-23 15z"/><path class="c55" d="M844 2729l24-26-26 3-24 23z"/><path class="c57" d="M943 2700l24-20-26-12-24 19zM894 2710l23-23-26-5-23 21z"/><path class="c58" d="M1982 2692l24 6-26-28-24-8z"/><path class="c32" d="M2109 3108l24-4-26-136-23 3z"/><path class="c41" d="M2084 2971l23-3-26-117-23-1z"/><path class="c53" d="M1166 2763l24-9-26-23-23 9z"/><path class="c6" d="M2138 3530l23-5-26-212-23 5z"/><path class="c51" d="M1390 2807l23-7-25 1-24 6z"/><path class="c54" d="M1117 2750l24-10-26-27-24 11z"/><path class="c41" d="M600 2969l23-16-26 69-23 10z"/><path class="c50" d="M1340 2814l24-7-26-10-23 7z"/><path class="c49" d="M722 2827l24-30-26 39-24 23z"/><path class="c60" d="M1933 2657l23 5-25-11-24-6z"/><path class="c51" d="M1291 2811l24-7-26-17-24 7z"/><path class="c61" d="M1884 2641l23 4-26-2-23-4z"/><path class="c55" d="M1068 2737l23-13-26-30-23 13z"/><path class="c54" d="M2008 2760l24 3-26-65-24-6z"/><path class="c61" d="M1834 2636l24 3-26 6-24-3z"/><path class="c52" d="M771 2789l24-32-26 13-23 27z"/><path class="c51" d="M1242 2802l23-8-26-23-23 8z"/><path class="c56" d="M1018 2723l24-16-26-26-24 16z"/><path class="c20" d="M2112 3318l23-5-26-205-23 4z"/><path class="c45" d="M649 2909l24-25-26 50-24 19z"/><path class="c54" d="M821 2760l23-31-26 0-23 28z"/><path class="c56" d="M969 2716l23-19-25-17-24 20z"/><path class="c52" d="M1192 2788l24-9-26-25-24 9z"/><path class="c55" d="M870 2737l24-27-26-7-24 26z"/><path class="c0" d="M2140 3637l24-5-26-102-24 5z"/><path class="c56" d="M920 2723l23-23-26-13-23 23z"/><path class="c48" d="M2034 2850l24 0-26-87-24-3z"/><path class="c53" d="M1143 2773l23-10-25-23-24 10z"/><path class="c32" d="M2086 3112l23-4-25-137-24 2z"/><path class="c58" d="M1959 2689l23 3-26-30-23-5z"/><path class="c6" d="M2114 3535l24-5-26-212-24 5z"/><path class="c41" d="M2060 2973l24-2-26-121-24 0z"/><path class="c51" d="M1366 2814l24-7-26 0-24 7z"/><path class="c54" d="M1094 2763l23-13-26-26-23 13z"/><path class="c40" d="M576 2981l24-12-26 63-24 8z"/><path class="c50" d="M1317 2822l23-8-25-10-24 7z"/><path class="c61" d="M1910 2654l23 3-26-12-23-4z"/><path class="c50" d="M748 2825l23-36-25 8-24 30zM1268 2820l23-9-26-17-23 8z"/><path class="c54" d="M1044 2752l24-15-26-30-24 16z"/><path class="c52" d="M797 2795l24-35-26-3-24 32z"/><path class="c51" d="M1218 2811l24-9-26-23-24 9z"/><path class="c55" d="M995 2742l23-19-26-26-23 19z"/><path class="c44" d="M626 2931l23-22-26 44-23 16z"/><path class="c62" d="M1811 2635l23 1-26 6-23-1z"/><path class="c54" d="M1985 2759l23 1-26-68-23-3z"/><path class="c53" d="M847 2769l23-32-26-8-23 31z"/><path class="c55" d="M946 2739l23-23-26-16-23 23zM896 2751l24-28-26-13-24 27z"/><path class="c20" d="M2088 3323l24-5-26-206-24 4z"/><path class="c52" d="M1169 2798l23-10-26-25-23 10z"/><path class="c0" d="M2116 3642l24-5-26-102-23 5z"/><path class="c46" d="M675 2892l24-33-26 25-24 25z"/><path class="c53" d="M1120 2786l23-13-26-23-23 13z"/><path class="c49" d="M2011 2851l23-1-26-90-23-1z"/><path class="c32" d="M2062 3116l24-4-26-139-24 3z"/><path class="c6" d="M2091 3540l23-5-26-212-23 5z"/><path class="c41" d="M2036 2976l24-3-26-123-23 1z"/><path class="c59" d="M1935 2687l24 2-26-32-23-3z"/><path class="c53" d="M1070 2778l24-15-26-26-24 15z"/><path class="c48" d="M724 2863l24-38-26 2-23 32z"/><path class="c50" d="M1343 2822l23-8-26 0-23 8zM1294 2830l23-8-26-11-23 9zM774 2834l23-39-26-6-23 36z"/><path class="c53" d="M1021 2771l23-19-26-29-23 19z"/><path class="c50" d="M1244 2829l24-9-26-18-24 9z"/><path class="c61" d="M1886 2653l24 1-26-13-24-2z"/><path class="c51" d="M823 2806l24-37-26-9-24 35z"/><path class="c54" d="M971 2765l24-23-26-26-23 23z"/><path class="c53" d="M873 2783l23-32-26-14-23 32z"/><path class="c54" d="M922 2768l24-29-26-16-24 28z"/><path class="c43" d="M602 2947l24-16-26 38-24 12z"/><path class="c51" d="M1195 2821l23-10-26-23-23 10z"/><path class="c62" d="M1787 2636l24-1-26 6-24 0z"/><path class="c54" d="M1961 2759l24 0-26-70-24-2z"/><path class="c20" d="M2065 3328l23-5-26-207-23 5z"/><path class="c51" d="M1145 2810l24-12-26-25-23 13z"/><path class="c44" d="M652 2921l23-29-26 17-23 22z"/><path class="c0" d="M2093 3647l23-5-25-102-24 4z"/><path class="c52" d="M1096 2800l24-14-26-23-24 15z"/><path class="c46" d="M701 2901l23-38-25-4-24 33z"/><path class="c49" d="M1987 2852l24-1-26-92-24 0z"/><path class="c52" d="M1047 2796l23-18-26-26-23 19z"/><path class="c47" d="M750 2876l24-42-26-9-24 38z"/><path class="c32" d="M2039 3121l23-5-26-140-23 4z"/><path class="c6" d="M2067 3544l24-4-26-212-24 4z"/><path class="c41" d="M2013 2980l23-4-25-125-24 1z"/><path class="c51" d="M1369 2815l23-8-26 7-23 8z"/><path class="c50" d="M1319 2832l24-10-26 0-23 8z"/><path class="c59" d="M1912 2687l23 0-25-33-24-1z"/><path class="c49" d="M800 2847l23-41-26-11-23 39z"/><path class="c52" d="M997 2794l24-23-26-29-24 23z"/><path class="c50" d="M1270 2840l24-10-26-10-24 9z"/><path class="c51" d="M849 2821l24-38-26-14-24 37z"/><path class="c52" d="M948 2794l23-29-25-26-24 29zM898 2801l24-33-26-17-23 32z"/><path class="c50" d="M1221 2840l23-11-26-18-23 10z"/><path class="c61" d="M1862 2653l24 0-26-14-23-1z"/><path class="c50" d="M1171 2834l24-13-26-23-24 12z"/><path class="c62" d="M1813 2639l24-1-26-3-24 1z"/><path class="c44" d="M628 2941l24-20-26 10-24 16z"/><path class="c51" d="M1122 2825l23-15-25-24-24 14z"/><path class="c62" d="M1764 2637l23-1-26 5-23 2z"/><path class="c20" d="M2041 3332l24-4-26-207-24 4z"/><path class="c44" d="M677 2936l24-35-26-9-23 29z"/><path class="c55" d="M1938 2760l23-1-26-72-23 0z"/><path class="c45" d="M727 2918l23-42-26-13-23 38z"/><path class="c51" d="M1072 2818l24-18-26-22-23 18z"/><path class="c0" d="M2070 3651l23-4-26-103-23 5z"/><path class="c47" d="M776 2892l24-45-26-13-24 42z"/><path class="c51" d="M1023 2818l24-22-26-25-24 23z"/><path class="c48" d="M826 2864l23-43-26-15-23 41z"/><path class="c49" d="M1964 2855l23-3-26-93-23 1z"/><path class="c51" d="M974 2822l23-28-26-29-23 29z"/><path class="c6" d="M2044 3549l23-5-26-212-23 5z"/><path class="c32" d="M2015 3125l24-4-26-141-23 3z"/><path class="c50" d="M875 2840l23-39-25-18-24 38z"/><path class="c51" d="M1345 2825l24-10-26 7-24 10z"/><path class="c50" d="M1296 2842l23-10-25-2-24 10z"/><path class="c51" d="M924 2827l24-33-26-26-24 33z"/><path class="c41" d="M1990 2983l23-3-26-128-23 3z"/><path class="c49" d="M1246 2852l24-12-26-11-23 11z"/><path class="c59" d="M1888 2688l24-1-26-34-24 0z"/><path class="c49" d="M1197 2853l24-13-26-19-24 13zM1148 2848l23-14-26-24-23 15z"/><path class="c61" d="M1839 2654l23-1-25-15-24 1z"/><path class="c43" d="M703 2956l24-38-26-17-24 35zM654 2958l23-22-25-15-24 20z"/><path class="c50" d="M1098 2842l24-17-26-25-24 18z"/><path class="c44" d="M753 2936l23-44-26-16-23 42z"/><path class="c62" d="M1790 2641l23-2-26-3-23 1z"/><path class="c50" d="M1049 2840l23-22-25-22-24 22z"/><path class="c20" d="M2018 3337l23-5-26-207-23 4z"/><path class="c46" d="M802 2909l24-45-26-17-24 45z"/><path class="c62" d="M1691 2648l23-3-26 10-23 3z"/><path class="c55" d="M1914 2762l24-2-26-73-24 1z"/><path class="c50" d="M1000 2845l23-27-26-24-23 28z"/><path class="c47" d="M851 2883l24-43-26-19-23 43z"/><path class="c0" d="M2046 3656l24-5-26-102-24 5z"/><path class="c49" d="M950 2854l24-32-26-28-24 33z"/><path class="c48" d="M901 2865l23-38-26-26-23 39z"/><path class="c49" d="M1272 2854l24-12-26-2-24 12z"/><path class="c50" d="M1322 2837l23-12-26 7-23 10z"/><path class="c49" d="M1940 2858l24-3-26-95-24 2z"/><path class="c6" d="M2020 3554l24-5-26-212-24 5z"/><path class="c32" d="M1992 3129l23-4-25-142-24 4z"/><path class="c49" d="M1223 2865l23-13-25-12-24 13z"/><path class="c41" d="M1966 2987l24-4-26-128-24 3z"/><path class="c49" d="M1174 2867l23-14-26-19-23 14z"/><path class="c59" d="M1865 2690l23-2-26-35-23 1z"/><path class="c42" d="M729 2976l24-40-26-18-24 38z"/><path class="c49" d="M1124 2865l24-17-26-23-24 17z"/><path class="c42" d="M680 2981l23-25-26-20-23 22z"/><path class="c43" d="M779 2955l23-46-26-17-23 44z"/><path class="c49" d="M1075 2863l23-21-26-24-23 22z"/><path class="c62" d="M1816 2656l23-2-26-15-23 2z"/><path class="c45" d="M828 2929l23-46-25-19-24 45z"/><path class="c49" d="M1025 2865l24-25-26-22-23 27z"/><path class="c48" d="M976 2876l24-31-26-23-24 32z"/><path class="c46" d="M877 2908l24-43-26-25-24 43z"/><path class="c47" d="M927 2891l23-37-26-27-23 38z"/><path class="c62" d="M1766 2643l24-2-26-4-24 3z"/><path class="c20" d="M1994 3342l24-5-26-208-24 5z"/><path class="c62" d="M1667 2655l24-7-26 10-24 6z"/><path class="c55" d="M1891 2765l23-3-26-74-23 2z"/><path class="c0" d="M2022 3661l24-5-26-102-23 5z"/><path class="c49" d="M1249 2868l23-14-26-2-23 13z"/><path class="c50" d="M1298 2850l24-13-26 5-24 12z"/><path class="c48" d="M1200 2880l23-15-26-12-23 14z"/><path class="c51" d="M1348 2826l23-12-26 11-23 12z"/><path class="c6" d="M1997 3559l23-5-26-212-23 5z"/><path class="c49" d="M1917 2861l23-3-26-96-23 3z"/><path class="c32" d="M1968 3134l24-5-26-142-24 5z"/><path class="c48" d="M1150 2885l24-18-26-19-24 17z"/><path class="c40" d="M706 3002l23-26-26-20-23 25z"/><path class="c41" d="M755 2996l24-41-26-19-24 40zM1942 2992l24-5-26-129-23 3z"/><path class="c42" d="M804 2975l24-46-26-20-23 46z"/><path class="c48" d="M1101 2886l23-21-26-23-23 21z"/><path class="c60" d="M1841 2692l24-2-26-36-23 2z"/><path class="c43" d="M854 2954l23-46-26-25-23 46z"/><path class="c48" d="M1051 2888l24-25-26-23-24 25z"/><path class="c45" d="M903 2933l24-42-26-26-24 43z"/><path class="c46" d="M953 2912l23-36-26-22-23 37z"/><path class="c47" d="M1002 2895l23-30-25-20-24 31z"/><path class="c62" d="M1792 2658l24-2-26-15-24 2z"/><path class="c63" d="M1743 2646l23-3-26-3-23 3z"/><path class="c20" d="M1971 3347l23-5-26-208-23 4z"/><path class="c62" d="M1644 2662l23-7-26 9-23 8z"/><path class="c55" d="M1867 2768l24-3-26-75-24 2z"/><path class="c0" d="M1999 3666l23-5-25-102-24 5z"/><path class="c48" d="M1225 2884l24-16-26-3-23 15z"/><path class="c39" d="M732 3023l23-27-26-20-23 26z"/><path class="c40" d="M781 3017l23-42-25-20-24 41z"/><path class="c49" d="M1275 2864l23-14-26 4-23 14z"/><path class="c47" d="M1176 2898l24-18-26-13-24 18z"/><path class="c41" d="M830 3000l24-46-26-25-24 46z"/><path class="c51" d="M1324 2840l24-14-26 11-24 13z"/><path class="c47" d="M1127 2905l23-20-26-20-23 21z"/><path class="c42" d="M880 2978l23-45-26-25-23 46z"/><path class="c6" d="M1973 3564l24-5-26-212-24 5z"/><path class="c49" d="M1893 2865l24-4-26-96-24 3z"/><path class="c32" d="M1945 3138l23-4-26-142-23 4z"/><path class="c46" d="M1077 2910l24-24-26-23-24 25z"/><path class="c44" d="M929 2952l24-40-26-21-24 42z"/><path class="c46" d="M1028 2916l23-28-26-23-23 30z"/><path class="c41" d="M1919 2996l23-4-25-131-24 4z"/><path class="c45" d="M978 2930l24-35-26-19-23 36z"/><path class="c60" d="M1818 2695l23-3-25-36-24 2z"/><path class="c62" d="M1768 2662l24-4-26-15-23 3zM1719 2653l24-7-26-3-24 6z"/><path class="c38" d="M807 3042l23-42-26-25-23 42zM757 3044l24-27-26-21-23 27z"/><path class="c20" d="M1947 3352l24-5-26-209-24 5z"/><path class="c62" d="M1670 2656l23-7-26 6-23 7z"/><path class="c40" d="M856 3023l24-45-26-24-24 46z"/><path class="c55" d="M1844 2772l23-4-26-76-23 3z"/><path class="c47" d="M1202 2902l23-18-25-4-24 18z"/><path class="c0" d="M1975 3671l24-5-26-102-23 4z"/><path class="c41" d="M906 2995l23-43-26-19-23 45z"/><path class="c46" d="M1152 2918l24-20-26-13-23 20z"/><path class="c48" d="M1251 2881l24-17-26 4-24 16z"/><path class="c46" d="M1103 2928l24-23-26-19-24 24z"/><path class="c43" d="M955 2968l23-38-25-18-24 40z"/><path class="c50" d="M1301 2856l23-16-26 10-23 14z"/><path class="c45" d="M1054 2937l23-27-26-22-23 28z"/><path class="c44" d="M1004 2949l24-33-26-21-24 35z"/><path class="c52" d="M1350 2828l24-15-26 13-24 14z"/><path class="c6" d="M1950 3568l23-4-26-212-23 4z"/><path class="c33" d="M1921 3143l24-5-26-142-24 4z"/><path class="c49" d="M1870 2868l23-3-26-97-23 4z"/><path class="c41" d="M1895 3000l24-4-26-131-23 3z"/><path class="c60" d="M1794 2699l24-4-26-37-24 4z"/><path class="c37" d="M833 3064l23-41-26-23-23 42zM783 3069l24-27-26-25-24 27z"/><path class="c39" d="M882 3039l24-44-26-17-24 45z"/><path class="c62" d="M1745 2668l23-6-25-16-24 7z"/><path class="c60" d="M1547 2698l24-10-26 20-23 10z"/><path class="c41" d="M932 3009l23-41-26-16-23 43z"/><path class="c62" d="M1696 2660l23-7-26-4-23 7zM1646 2664l24-8-26 6-24 7z"/><path class="c20" d="M1924 3356l23-4-26-209-23 5z"/><path class="c45" d="M1129 2941l23-23-25-13-24 23z"/><path class="c46" d="M1178 2923l24-21-26-4-24 20z"/><path class="c42" d="M981 2985l23-36-26-19-23 38z"/><path class="c44" d="M1080 2954l23-26-26-18-23 27z"/><path class="c43" d="M1030 2967l24-30-26-21-24 33z"/><path class="c48" d="M1228 2901l23-20-26 3-23 18z"/><path class="c55" d="M1820 2776l24-4-26-77-24 4z"/><path class="c0" d="M1952 3675l23-4-25-103-24 5z"/><path class="c49" d="M1277 2874l24-18-26 8-24 17z"/><path class="c51" d="M1326 2845l24-17-26 12-23 16z"/><path class="c6" d="M1926 3573l24-5-26-212-24 5z"/><path class="c53" d="M1376 2814l23-16-25 15-24 15z"/><path class="c33" d="M1898 3148l23-5-26-143-23 5z"/><path class="c49" d="M1846 2873l24-5-26-96-24 4z"/><path class="c41" d="M1872 3005l23-5-25-132-24 5z"/><path class="c36" d="M809 3090l24-26-26-22-24 27z"/><path class="c37" d="M859 3078l23-39-26-16-23 41z"/><path class="c60" d="M1771 2705l23-6-26-37-23 6z"/><path class="c38" d="M908 3051l24-42-26-14-24 44z"/><path class="c40" d="M957 3023l24-38-26-17-23 41z"/><path class="c62" d="M1722 2675l23-7-26-15-23 7z"/><path class="c42" d="M1007 3001l23-34-26-18-23 36z"/><path class="c43" d="M1056 2983l24-29-26-17-24 30z"/><path class="c44" d="M1105 2966l24-25-26-13-23 26z"/><path class="c45" d="M1155 2947l23-24-26-5-23 23z"/><path class="c62" d="M1672 2667l24-7-26-4-24 8z"/><path class="c46" d="M1204 2922l24-21-26 1-24 21z"/><path class="c62" d="M1623 2672l23-8-26 5-23 9z"/><path class="c20" d="M1900 3361l24-5-26-208-24 5z"/><path class="c48" d="M1254 2895l23-21-26 7-23 20z"/><path class="c55" d="M1797 2781l23-5-26-77-23 6z"/><path class="c0" d="M1928 3680l24-5-26-102-23 5z"/><path class="c50" d="M1303 2864l23-19-25 11-24 18z"/><path class="c52" d="M1352 2831l24-17-26 14-24 17z"/><path class="c35" d="M835 3103l24-25-26-14-24 26z"/><path class="c6" d="M1903 3578l23-5-26-212-23 5z"/><path class="c33" d="M1874 3153l24-5-26-143-24 5z"/><path class="c49" d="M1823 2878l23-5-26-97-23 5z"/><path class="c36" d="M884 3088l24-37-26-12-23 39z"/><path class="c41" d="M1848 3010l24-5-26-132-23 5z"/><path class="c38" d="M934 3061l23-38-25-14-24 42z"/><path class="c60" d="M1747 2711l24-6-26-37-23 7z"/><path class="c40" d="M983 3036l24-35-26-16-24 38z"/><path class="c41" d="M1033 3015l23-32-26-16-23 34z"/><path class="c42" d="M1082 2995l23-29-25-12-24 29z"/><path class="c44" d="M1131 2973l24-26-26-6-24 25z"/><path class="c45" d="M1181 2947l23-25-26 1-23 24z"/><path class="c62" d="M1698 2682l24-7-26-15-24 7z"/><path class="c61" d="M1550 2698l23-10-26 10-23 10z"/><path class="c47" d="M1230 2918l24-23-26 6-24 21z"/><path class="c62" d="M1649 2675l23-8-26-3-23 8zM1599 2682l24-10-26 6-24 10z"/><path class="c20" d="M1877 3366l23-5-26-208-23 5z"/><path class="c49" d="M1280 2886l23-22-26 10-23 21z"/><path class="c55" d="M1773 2787l24-6-26-76-24 6z"/><path class="c0" d="M1905 3685l23-5-25-102-24 5z"/><path class="c51" d="M1329 2852l23-21-26 14-23 19z"/><path class="c35" d="M861 3112l23-24-25-10-24 25z"/><path class="c36" d="M910 3095l24-34-26-10-24 37z"/><path class="c6" d="M1879 3583l24-5-26-212-24 5z"/><path class="c38" d="M960 3071l23-35-26-13-23 38z"/><path class="c33" d="M1851 3158l23-5-26-143-23 5z"/><path class="c49" d="M1799 2884l24-6-26-97-24 6z"/><path class="c39" d="M1009 3048l24-33-26-14-24 35z"/><path class="c41" d="M1825 3015l23-5-25-132-24 6zM1058 3025l24-30-26-12-23 32z"/><path class="c60" d="M1724 2718l23-7-25-36-24 7z"/><path class="c42" d="M1108 3001l23-28-26-7-23 29z"/><path class="c44" d="M1157 2974l24-27-26 0-24 26z"/><path class="c46" d="M1207 2943l23-25-26 4-23 25z"/><path class="c61" d="M1674 2690l24-8-26-15-23 8z"/><path class="c60" d="M1526 2711l24-13-26 10-24 13z"/><path class="c62" d="M1625 2685l24-10-26-3-24 10z"/><path class="c61" d="M1576 2693l23-11-26 6-23 10z"/><path class="c48" d="M1256 2910l24-24-26 9-24 23z"/><path class="c20" d="M1853 3371l24-5-26-208-24 5z"/><path class="c50" d="M1305 2874l24-22-26 12-23 22z"/><path class="c55" d="M1750 2793l23-6-26-76-23 7z"/><path class="c35" d="M887 3118l23-23-26-7-23 24z"/><path class="c0" d="M1881 3690l24-5-26-102-23 5z"/><path class="c36" d="M936 3102l24-31-26-10-24 34z"/><path class="c37" d="M986 3080l23-32-26-12-23 35z"/><path class="c53" d="M1355 2834l23-20-26 17-23 21z"/><path class="c39" d="M1035 3056l23-31-25-10-24 33z"/><path class="c6" d="M1856 3588l23-5-26-212-23 5z"/><path class="c49" d="M1776 2889l23-5-26-97-23 6z"/><path class="c32" d="M1827 3163l24-5-26-143-23 5z"/><path class="c41" d="M1084 3031l24-30-26-6-24 30zM1802 3020l23-5-26-131-23 5z"/><path class="c42" d="M1134 3003l23-29-26-1-23 28z"/><path class="c59" d="M1700 2725l24-7-26-36-24 8z"/><path class="c44" d="M1183 2971l24-28-26 4-24 27z"/><path class="c46" d="M1232 2937l24-27-26 8-23 25z"/><path class="c61" d="M1651 2698l23-8-25-15-24 10z"/><path class="c59" d="M1503 2725l23-14-26 10-23 14z"/><path class="c61" d="M1552 2705l24-12-26 5-24 13zM1602 2695l23-10-26-3-23 11z"/><path class="c49" d="M1282 2900l23-26-25 12-24 24z"/><path class="c35" d="M913 3123l23-21-26-7-23 23z"/><path class="c20" d="M1830 3376l23-5-26-208-23 5z"/><path class="c36" d="M962 3108l24-28-26-9-24 31z"/><path class="c55" d="M1726 2800l24-7-26-75-24 7z"/><path class="c37" d="M1011 3087l24-31-26-8-23 32z"/><path class="c51" d="M1331 2858l24-24-26 18-24 22z"/><path class="c0" d="M1858 3695l23-5-25-102-24 4z"/><path class="c39" d="M1061 3062l23-31-26-6-23 31z"/><path class="c41" d="M1110 3033l24-30-26-2-24 30z"/><path class="c6" d="M1832 3592l24-4-26-212-24 4z"/><path class="c49" d="M1752 2895l24-6-26-96-24 7z"/><path class="c32" d="M1804 3168l23-5-25-143-24 6z"/><path class="c43" d="M1160 3001l23-30-26 3-23 29z"/><path class="c41" d="M1778 3026l24-6-26-131-24 6z"/><path class="c59" d="M1677 2733l23-8-26-35-23 8z"/><path class="c45" d="M1209 2966l23-29-25 6-24 28z"/><path class="c59" d="M1479 2741l24-16-26 10-24 17z"/><path class="c61" d="M1628 2708l23-10-26-13-23 10z"/><path class="c47" d="M1258 2928l24-28-26 10-24 27z"/><path class="c60" d="M1529 2719l23-14-26 6-23 14z"/><path class="c61" d="M1578 2707l24-12-26-2-24 12z"/><path class="c35" d="M939 3127l23-19-26-6-23 21z"/><path class="c36" d="M988 3114l23-27-25-7-24 28z"/><path class="c50" d="M1308 2884l23-26-26 16-23 26z"/><path class="c37" d="M1037 3091l24-29-26-6-24 31z"/><path class="c20" d="M1806 3380l24-4-26-208-24 5z"/><path class="c55" d="M1703 2807l23-7-26-75-23 8z"/><path class="c39" d="M1087 3064l23-31-26-2-23 31z"/><path class="c0" d="M1834 3699l24-4-26-103-23 5z"/><path class="c53" d="M1357 2836l24-24-26 22-24 24z"/><path class="c41" d="M1136 3033l24-32-26 2-24 30z"/><path class="c49" d="M1729 2902l23-7-26-95-23 7z"/><path class="c6" d="M1809 3597l23-5-26-212-23 5z"/><path class="c32" d="M1780 3173l24-5-26-142-24 5z"/><path class="c43" d="M1185 2998l24-32-26 5-23 30z"/><path class="c56" d="M1406 2792l24-22-26 21-23 21z"/><path class="c41" d="M1754 3031l24-5-26-131-23 7z"/><path class="c59" d="M1653 2742l24-9-26-35-23 10z"/><path class="c46" d="M1235 2958l23-30-26 9-23 29z"/><path class="c58" d="M1456 2760l23-19-26 11-23 18z"/><path class="c60" d="M1604 2719l24-11-26-13-24 12z"/><path class="c59" d="M1505 2734l24-15-26 6-24 16z"/><path class="c60" d="M1555 2720l23-13-26-2-23 14z"/><path class="c35" d="M964 3131l24-17-26-6-23 19z"/><path class="c48" d="M1284 2913l24-29-26 16-24 28z"/><path class="c36" d="M1014 3117l23-26-26-4-23 27z"/><path class="c37" d="M1063 3094l24-30-26-2-24 29z"/><path class="c20" d="M1783 3385l23-5-26-207-23 5z"/><path class="c55" d="M1679 2815l24-8-26-74-24 9z"/><path class="c39" d="M1113 3065l23-32-26 0-23 31z"/><path class="c52" d="M1334 2863l23-27-26 22-23 26z"/><path class="c0" d="M1811 3704l23-5-25-102-24 5z"/><path class="c41" d="M1162 3031l23-33-25 3-24 32z"/><path class="c55" d="M1383 2816l23-24-25 20-24 24z"/><path class="c49" d="M1705 2909l24-7-26-95-24 8z"/><path class="c6" d="M1785 3602l24-5-26-212-24 5z"/><path class="c32" d="M1757 3178l23-5-26-142-23 6z"/><path class="c44" d="M1211 2991l24-33-26 8-24 32z"/><path class="c41" d="M1731 3037l23-6-25-129-24 7z"/><path class="c59" d="M1630 2752l23-10-25-34-24 11z"/><path class="c57" d="M1432 2781l24-21-26 10-24 22z"/><path class="c47" d="M1261 2945l23-32-26 15-23 30z"/><path class="c59" d="M1482 2753l23-19-26 7-23 19z"/><path class="c60" d="M1580 2732l24-13-26-12-23 13zM1531 2735l24-15-26-1-24 15z"/><path class="c35" d="M990 3135l24-18-26-3-24 17z"/><path class="c36" d="M1040 3120l23-26-26-3-23 26z"/><path class="c38" d="M1089 3095l24-30-26-1-24 30z"/><path class="c50" d="M1310 2893l24-30-26 21-24 29z"/><path class="c40" d="M1138 3064l24-33-26 2-23 32z"/><path class="c54" d="M1656 2824l23-9-26-73-23 10z"/><path class="c20" d="M1759 3390l24-5-26-207-24 5z"/><path class="c0" d="M1788 3709l23-5-26-102-23 5z"/><path class="c53" d="M1360 2843l23-27-26 20-23 27z"/><path class="c42" d="M1188 3025l23-34-26 7-23 33z"/><path class="c49" d="M1682 2916l23-7-26-94-23 9z"/><path class="c56" d="M1409 2805l23-24-26 11-23 24z"/><path class="c6" d="M1762 3607l23-5-26-212-23 5z"/><path class="c32" d="M1733 3183l24-5-26-141-23 6z"/><path class="c45" d="M1237 2979l24-34-26 13-24 33z"/><path class="c58" d="M1606 2763l24-11-26-33-24 13z"/><path class="c41" d="M1708 3043l23-6-26-128-23 7z"/><path class="c58" d="M1458 2773l24-20-26 7-24 21z"/><path class="c59" d="M1557 2746l23-14-25-12-24 15zM1508 2753l23-18-26-1-23 19z"/><path class="c35" d="M1016 3137l24-17-26-3-24 18z"/><path class="c36" d="M1066 3122l23-27-26-1-23 26z"/><path class="c48" d="M1287 2926l23-33-26 20-23 32z"/><path class="c38" d="M1115 3095l23-31-25 1-24 30z"/><path class="c40" d="M1164 3060l24-35-26 6-24 33z"/><path class="c52" d="M1336 2874l24-31-26 20-24 30z"/><path class="c54" d="M1632 2833l24-9-26-72-24 11z"/><path class="c20" d="M1736 3395l23-5-26-207-23 5z"/><path class="c0" d="M1764 3714l24-5-26-102-24 5z"/><path class="c43" d="M1214 3015l23-36-26 12-23 34z"/><path class="c54" d="M1385 2832l24-27-26 11-23 27z"/><path class="c49" d="M1658 2924l24-8-26-92-24 9z"/><path class="c58" d="M1583 2776l23-13-26-31-23 14z"/><path class="c32" d="M1710 3188l23-5-25-140-24 6z"/><path class="c6" d="M1738 3612l24-5-26-212-24 5z"/><path class="c56" d="M1435 2797l23-24-26 8-23 24z"/><path class="c41" d="M1684 3049l24-6-26-127-24 8z"/><path class="c46" d="M1263 2961l24-35-26 19-24 34z"/><path class="c58" d="M1484 2773l24-20-26 0-24 20z"/><path class="c59" d="M1534 2762l23-16-26-11-23 18z"/><path class="c35" d="M1042 3139l24-17-26-2-24 17z"/><path class="c36" d="M1091 3123l24-28-26 0-23 27z"/><path class="c38" d="M1141 3092l23-32-26 4-23 31z"/><path class="c50" d="M1312 2907l24-33-26 19-23 33z"/><path class="c54" d="M1609 2843l23-10-26-70-23 13z"/><path class="c41" d="M1190 3051l24-36-26 10-24 35z"/><path class="c20" d="M1712 3400l24-5-26-207-24 6z"/><path class="c53" d="M1362 2862l23-30-25 11-24 31z"/><path class="c0" d="M1740 3719l24-5-26-102-23 4z"/><path class="c55" d="M1411 2823l24-26-26 8-24 27z"/><path class="c44" d="M1240 2998l23-37-26 18-23 36z"/><path class="c48" d="M1635 2933l23-9-26-91-23 10z"/><path class="c57" d="M1559 2790l24-14-26-30-23 16zM1461 2795l23-22-26 0-23 24z"/><path class="c32" d="M1686 3194l24-6-26-139-24 6z"/><path class="c6" d="M1715 3616l23-4-26-212-23 4z"/><path class="c58" d="M1510 2780l24-18-26-9-24 20z"/><path class="c41" d="M1660 3055l24-6-26-125-23 9z"/><path class="c36" d="M1068 3141l23-18-25-1-24 17z"/><path class="c48" d="M1289 2942l23-35-25 19-24 35z"/><path class="c37" d="M1117 3121l24-29-26 3-24 28z"/><path class="c39" d="M1167 3085l23-34-26 9-23 32z"/><path class="c51" d="M1338 2894l24-32-26 12-24 33z"/><path class="c53" d="M1585 2855l24-12-26-67-24 14z"/><path class="c42" d="M1216 3034l24-36-26 17-24 36z"/><path class="c20" d="M1689 3404l23-4-26-206-23 6z"/><path class="c53" d="M1388 2852l23-29-26 9-23 30z"/><path class="c0" d="M1717 3723l23-4-25-103-24 5z"/><path class="c56" d="M1536 2806l23-16-25-28-24 18zM1437 2820l24-25-26 2-24 26z"/><path class="c48" d="M1611 2942l24-9-26-90-24 12z"/><path class="c57" d="M1486 2801l24-21-26-7-23 22z"/><path class="c46" d="M1266 2979l23-37-26 19-23 37z"/><path class="c32" d="M1663 3200l23-6-26-139-23 7z"/><path class="c6" d="M1691 3621l24-5-26-212-24 5z"/><path class="c41" d="M1637 3062l23-7-25-122-24 9z"/><path class="c36" d="M1094 3139l23-18-26 2-23 18z"/><path class="c38" d="M1143 3114l24-29-26 7-24 29z"/><path class="c49" d="M1315 2929l23-35-26 13-23 35z"/><path class="c40" d="M1193 3069l23-35-26 17-23 34z"/><path class="c53" d="M1562 2868l23-13-26-65-23 16z"/><path class="c52" d="M1364 2884l24-32-26 10-24 32z"/><path class="c20" d="M1665 3409l24-5-26-204-24 5z"/><path class="c54" d="M1414 2848l23-28-26 3-23 29z"/><path class="c44" d="M1242 3016l24-37-26 19-24 36z"/><path class="c56" d="M1512 2824l24-18-26-26-24 21z"/><path class="c0" d="M1694 3728l23-5-26-102-23 5z"/><path class="c56" d="M1463 2824l23-23-25-6-24 25z"/><path class="c48" d="M1588 2952l23-10-26-87-23 13z"/><path class="c32" d="M1639 3205l24-5-26-138-23 7z"/><path class="c41" d="M1614 3069l23-7-26-120-23 10z"/><path class="c6" d="M1668 3626l23-5-26-212-23 5z"/><path class="c47" d="M1291 2965l24-36-26 13-23 37z"/><path class="c37" d="M1120 3134l23-20-26 7-23 18z"/><path class="c39" d="M1169 3100l24-31-26 16-24 29z"/><path class="c50" d="M1341 2918l23-34-26 10-23 35z"/><path class="c52" d="M1538 2882l24-14-26-62-24 18z"/><path class="c42" d="M1218 3051l24-35-26 18-23 35z"/><path class="c52" d="M1390 2878l24-30-26 4-24 32z"/><path class="c55" d="M1489 2844l23-20-26-23-23 23z"/><path class="c54" d="M1440 2850l23-26-26-4-23 28z"/><path class="c20" d="M1642 3414l23-5-26-204-23 6z"/><path class="c47" d="M1564 2963l24-11-26-84-24 14z"/><path class="c0" d="M1670 3733l24-5-26-102-24 5z"/><path class="c45" d="M1268 3002l23-37-25 14-24 37z"/><path class="c40" d="M1590 3077l24-8-26-117-24 11z"/><path class="c32" d="M1616 3211l23-6-25-136-24 8z"/><path class="c6" d="M1644 3631l24-5-26-212-24 5z"/><path class="c48" d="M1317 2954l24-36-26 11-24 36z"/><path class="c38" d="M1146 3120l23-20-26 14-23 20z"/><path class="c40" d="M1195 3082l23-31-25 18-24 31z"/><path class="c51" d="M1515 2898l23-16-26-58-23 20zM1367 2911l23-33-26 6-23 34z"/><path class="c53" d="M1416 2877l24-27-26-2-24 30zM1465 2866l24-22-26-20-23 26z"/><path class="c43" d="M1244 3037l24-35-26 14-24 35z"/><path class="c20" d="M1618 3419l24-5-26-203-24 6z"/><path class="c47" d="M1541 2976l23-13-26-81-23 16z"/><path class="c0" d="M1646 3738l24-5-26-102-23 5z"/><path class="c46" d="M1294 2990l23-36-26 11-23 37z"/><path class="c40" d="M1566 3085l24-8-26-114-23 13z"/><path class="c32" d="M1592 3217l24-6-26-134-24 8z"/><path class="c6" d="M1621 3636l23-5-26-212-23 5z"/><path class="c49" d="M1343 2945l24-34-26 7-24 36z"/><path class="c39" d="M1172 3101l23-19-26 18-23 20z"/><path class="c51" d="M1491 2915l24-17-26-54-24 22zM1392 2907l24-30-26 1-23 33z"/><path class="c41" d="M1221 3067l23-30-26 14-23 31z"/><path class="c52" d="M1442 2889l23-23-25-16-24 27z"/><path class="c44" d="M1270 3024l24-34-26 12-24 35z"/><path class="c20" d="M1595 3424l23-5-26-202-23 7z"/><path class="c46" d="M1517 2989l24-13-26-78-24 17z"/><path class="c0" d="M1623 3743l23-5-25-102-24 4z"/><path class="c47" d="M1320 2979l23-34-26 9-23 36z"/><path class="c40" d="M1543 3093l23-8-25-109-24 13z"/><path class="c32" d="M1569 3224l23-7-26-132-23 8z"/><path class="c6" d="M1597 3640l24-4-26-212-24 4z"/><path class="c50" d="M1468 2934l23-19-26-49-23 23zM1369 2938l23-31-25 4-24 34z"/><path class="c51" d="M1418 2915l24-26-26-12-24 30z"/><path class="c41" d="M1197 3087l24-20-26 15-23 19z"/><path class="c43" d="M1247 3053l23-29-26 13-23 30z"/><path class="c46" d="M1494 3003l23-14-26-74-23 19z"/><path class="c20" d="M1571 3428l24-4-26-200-24 6z"/><path class="c45" d="M1296 3011l24-32-26 11-24 34z"/><path class="c0" d="M1600 3747l23-4-26-103-23 5z"/><path class="c40" d="M1520 3102l23-9-26-104-23 14z"/><path class="c48" d="M1346 2969l23-31-26 7-23 34z"/><path class="c32" d="M1545 3230l24-6-26-131-23 9z"/><path class="c49" d="M1444 2953l24-19-26-45-24 26z"/><path class="c50" d="M1395 2941l23-26-26-8-23 31z"/><path class="c6" d="M1574 3645l23-5-26-212-23 5z"/><path class="c42" d="M1223 3072l24-19-26 14-24 20z"/><path class="c44" d="M1273 3039l23-28-26 13-23 29z"/><path class="c45" d="M1470 3018l24-15-26-69-24 19z"/><path class="c20" d="M1548 3433l23-5-26-198-23 7z"/><path class="c46" d="M1322 2998l24-29-26 10-24 32z"/><path class="c0" d="M1576 3752l24-5-26-102-24 5z"/><path class="c39" d="M1496 3111l24-9-26-99-24 15z"/><path class="c48" d="M1421 2974l23-21-26-38-23 26zM1371 2967l24-26-26-3-23 31z"/><path class="c32" d="M1522 3237l23-7-25-128-24 9z"/><path class="c6" d="M1550 3650l24-5-26-212-24 5z"/><path class="c43" d="M1249 3058l24-19-26 14-24 19z"/><path class="c44" d="M1447 3033l23-15-26-65-23 21z"/><path class="c45" d="M1298 3024l24-26-26 13-23 28z"/><path class="c20" d="M1524 3438l24-5-26-196-24 6z"/><path class="c47" d="M1348 2993l23-26-25 2-24 29zM1397 2994l24-20-26-33-24 26z"/><path class="c39" d="M1472 3121l24-10-26-93-23 15z"/><path class="c0" d="M1552 3757l24-5-26-102-23 5z"/><path class="c32" d="M1498 3243l24-6-26-126-24 10z"/><path class="c6" d="M1527 3655l23-5-26-212-23 5z"/><path class="c44" d="M1423 3049l24-16-26-59-24 20zM1275 3041l23-17-25 15-24 19z"/><path class="c46" d="M1324 3015l24-22-26 5-24 26zM1374 3014l23-20-26-27-23 26z"/><path class="c20" d="M1501 3443l23-5-26-195-23 7z"/><path class="c39" d="M1449 3130l23-9-25-88-24 16z"/><path class="c0" d="M1529 3762l23-5-25-102-24 5z"/><path class="c32" d="M1475 3250l23-7-26-122-23 9z"/><path class="c6" d="M1503 3660l24-5-26-212-24 5z"/><path class="c43" d="M1400 3063l23-14-26-55-23 20z"/><path class="c45" d="M1301 3030l23-15-26 9-23 17zM1350 3031l24-17-26-21-24 22z"/><path class="c20" d="M1477 3448l24-5-26-193-24 6z"/><path class="c39" d="M1425 3139l24-9-26-81-23 14z"/><path class="c0" d="M1505 3767l24-5-26-102-23 4z"/><path class="c31" d="M1451 3256l24-6-26-120-24 9z"/><path class="c6" d="M1480 3664l23-4-26-212-23 4z"/><path class="c43" d="M1376 3077l24-14-26-49-24 17z"/><path class="c45" d="M1327 3043l23-12-26-16-23 15z"/><path class="c38" d="M1402 3148l23-9-25-76-24 14z"/><path class="c20" d="M1454 3452l23-4-26-192-23 7z"/><path class="c0" d="M1482 3771l23-4-25-103-24 5z"/><path class="c31" d="M1428 3263l23-7-26-117-23 9z"/><path class="c6" d="M1456 3669l24-5-26-212-24 5z"/><path class="c42" d="M1353 3086l23-9-26-46-23 12z"/><path class="c38" d="M1378 3155l24-7-26-71-23 9z"/><path class="c20" d="M1430 3457l24-5-26-189-24 5z"/><path class="c31" d="M1404 3268l24-5-26-115-24 7z"/></g><line x1="148.2" y1="401.5" x2="242.2" y2="382.3" class="ax"/><line x1="148.2" y1="401.5" x2="44.7" y2="383.6" class="ax"/><line x1="44.7" y1="383.6" x2="44.7" y2="261.8" class="ax"/><line x1="44.7" y1="383.6" x2="42.3" y2="383.6" class="ax"/><line x1="44.7" y1="359.2" x2="42.3" y2="359.2" class="ax"/><line x1="44.7" y1="334.9" x2="42.3" y2="334.9" class="ax"/><line x1="44.7" y1="310.5" x2="42.3" y2="310.5" class="ax"/><line x1="44.7" y1="286.2" x2="42.3" y2="286.2" class="ax"/><line x1="44.7" y1="261.8" x2="42.3" y2="261.8" class="ax"/><line x1="148.2" y1="401.5" x2="150.6" y2="401.9" class="ax"/><line x1="148.2" y1="401.5" x2="145.8" y2="402.0" class="ax"/><line x1="195.2" y1="391.9" x2="197.6" y2="392.3" class="ax"/><line x1="96.4" y1="392.6" x2="94.1" y2="393.0" class="ax"/><line x1="242.2" y1="382.3" x2="244.6" y2="382.7" class="ax"/><line x1="44.7" y1="383.6" x2="42.3" y2="384.1" class="ax"/><line x1="474.9" y1="388.5" x2="383.2" y2="372.0" class="g"/><line x1="526.0" y1="381.4" x2="434.3" y2="364.9" class="g"/><line x1="378.0" y1="387.4" x2="480.1" y2="373.1" class="g"/><line x1="332.1" y1="379.1" x2="434.3" y2="364.9" class="g"/><line x1="383.2" y1="372.0" x2="383.2" y2="251.3" class="g"/><line x1="434.3" y1="364.9" x2="434.3" y2="244.2" class="g"/><line x1="332.1" y1="379.1" x2="434.3" y2="364.9" class="g"/><line x1="332.1" y1="348.9" x2="434.3" y2="334.7" class="g"/><line x1="332.1" y1="318.8" x2="434.3" y2="304.5" class="g"/><line x1="332.1" y1="288.6" x2="434.3" y2="274.4" class="g"/><line x1="332.1" y1="258.4" x2="434.3" y2="244.2" class="g"/><line x1="526.0" y1="381.4" x2="526.0" y2="260.7" class="g"/><line x1="480.1" y1="373.1" x2="480.1" y2="252.4" class="g"/><line x1="434.3" y1="364.9" x2="434.3" y2="244.2" class="g"/><line x1="526.0" y1="381.4" x2="434.3" y2="364.9" class="g"/><line x1="526.0" y1="351.2" x2="434.3" y2="334.7" class="g"/><line x1="526.0" y1="321.0" x2="434.3" y2="304.5" class="g"/><line x1="526.0" y1="290.9" x2="434.3" y2="274.4" class="g"/><line x1="526.0" y1="260.7" x2="434.3" y2="244.2" class="g"/><g transform="scale(.1)" stroke="#000" stroke-width="3.2" stroke-linejoin="round"><path class="c15" d="M3472 3310l25-26-23 33-25 25z"/><path class="c26" d="M3594 3184l26-22-23 26-26 22z"/><path class="c20" d="M3520 3257l26-24-23 27-26 24z"/><path class="c30" d="M3643 3137l25-21-23 25-25 21z"/><path class="c13" d="M3446 3336l26-26-23 32-26 26z"/><path class="c24" d="M3569 3208l25-24-23 26-25 23z"/><path class="c35" d="M3691 3093l26-20-23 23-26 20z"/><path class="c18" d="M3495 3283l25-26-23 27-25 26z"/><path class="c38" d="M3740 3051l25-19-23 22-25 19z"/><path class="c29" d="M3617 3160l26-23-23 25-26 22z"/><path class="c10" d="M3421 3364l25-28-23 32-25 27z"/><path class="c42" d="M3788 3011l26-18-23 21-26 18z"/><path class="c22" d="M3543 3233l26-25-23 25-26 24z"/><path class="c33" d="M3666 3114l25-21-23 23-25 21z"/><path class="c15" d="M3469 3310l26-27-23 27-26 26z"/><path class="c46" d="M3837 2974l25-16-23 20-25 15z"/><path class="c27" d="M3592 3184l25-24-23 24-25 24z"/><path class="c37" d="M3714 3071l26-20-23 22-26 20z"/><path class="c8" d="M3395 3393l26-29-23 31-26 28z"/><path class="c49" d="M3885 2940l26-14-23 18-26 14z"/><path class="c41" d="M3763 3030l25-19-23 21-25 19z"/><path class="c31" d="M3640 3138l26-24-23 23-26 23z"/><path class="c52" d="M3934 2909l25-12-23 16-25 13z"/><path class="c44" d="M3811 2992l26-18-23 19-26 18z"/><path class="c35" d="M3688 3093l26-22-23 22-25 21z"/><path class="c54" d="M3982 2882l26-11-23 15-26 11z"/><path class="c5" d="M3369 3425l26-32-23 30-25 31z"/><path class="c48" d="M3859 2956l26-16-23 18-25 16z"/><path class="c56" d="M4030 2858l26-9-23 13-25 9z"/><path class="c18" d="M3492 3287l26-28-23 24-26 27z"/><path class="c39" d="M3737 3051l26-21-23 21-26 20z"/><path class="c51" d="M3908 2923l26-14-23 17-26 14z"/><path class="c11" d="M3418 3369l26-30-23 25-26 29z"/><path class="c60" d="M4127 2822l26-5-23 10-26 4z"/><path class="c43" d="M3785 3011l26-19-23 19-25 19z"/><path class="c2" d="M3344 3461l25-36-22 29-26 35z"/><path class="c53" d="M3956 2894l26-12-23 15-25 12z"/><path class="c61" d="M4176 2810l25-3-23 8-25 2z"/><path class="c16" d="M3466 3316l26-29-23 23-25 29z"/><path class="c62" d="M4224 2802l26-1-23 6-26 0z"/><path class="c46" d="M3834 2974l25-18-22 18-26 18z"/><path class="c56" d="M4005 2869l25-11-22 13-26 11z"/><path class="c27" d="M3589 3188l25-26-22 22-26 26z"/><path class="c62" d="M4273 2798l25 2-23 3-25-2zM4321 2799l26 4-23 1-26-4z"/><path class="c8" d="M3392 3401l26-32-23 24-26 32z"/><path class="c62" d="M4370 2804l25 5-23 0-25-6z"/><path class="c58" d="M4053 2847l26-9-23 11-26 9z"/><path class="c50" d="M3882 2940l26-17-23 17-26 16z"/><path class="c20" d="M3515 3265l25-28-22 22-26 28z"/><path class="c60" d="M4102 2828l25-6-23 9-25 7z"/><path class="c52" d="M3931 2909l25-15-22 15-26 14z"/><path class="c13" d="M3441 3347l25-31-22 23-26 30z"/><path class="c61" d="M4150 2814l26-4-23 7-26 5z"/><path class="c25" d="M3563 3216l26-28-23 22-26 27z"/><path class="c36" d="M3686 3097l25-24-23 20-25 24z"/><path class="c62" d="M4199 2804l25-2-23 5-25 3z"/><path class="c22" d="M5046 3251l25 25-23-25-25-26z"/><path class="c55" d="M3979 2881l26-12-23 13-26 12z"/><path class="c5" d="M3367 3439l25-38-23 24-25 36z"/><path class="c63" d="M4247 2798l26 0-23 3-26 1z"/><path class="c27" d="M4997 3201l26 24-23-24-26-25z"/><path class="c18" d="M3489 3295l26-30-23 22-26 29z"/><path class="c63" d="M4296 2797l25 2-23 1-25-2z"/><path class="c57" d="M4028 2857l25-10-23 11-25 11z"/><path class="c29" d="M3612 3168l25-26-23 20-25 26z"/><path class="c62" d="M4393 2807l25 6-23-4-25-5z"/><path class="c31" d="M4949 3153l25 23-23-23-25-24z"/><path class="c59" d="M4076 2837l26-9-23 10-26 9z"/><path class="c10" d="M3415 3379l26-32-23 22-26 32z"/><path class="c35" d="M4900 3107l26 22-23-22-26-22z"/><path class="c15" d="M5117 3330l26 26-23-27-26-27z"/><path class="c23" d="M3538 3244l25-28-23 21-25 28z"/><path class="c43" d="M3783 3015l25-21-23 17-25 21z"/><path class="c61" d="M4125 2821l25-7-23 8-25 6z"/><path class="c34" d="M3660 3123l26-26-23 20-26 25z"/><path class="c39" d="M4852 3064l25 21-22-21-26-21z"/><path class="c20" d="M5069 3278l25 24-23-26-25-25z"/><path class="c43" d="M4803 3023l26 20-23-20-26-20z"/><path class="c15" d="M3464 3326l25-31-23 21-25 31z"/><path class="c47" d="M3831 2978l26-20-23 16-26 20z"/><path class="c63" d="M4222 2801l25-3-23 4-25 2z"/><path class="c27" d="M3586 3196l26-28-23 20-26 28z"/><path class="c25" d="M5020 3227l26 24-23-26-26-24z"/><path class="c38" d="M3709 3079l25-24-23 18-25 24z"/><path class="c7" d="M3390 3418l25-39-23 22-25 38z"/><path class="c29" d="M4972 3178l25 23-23-25-25-23z"/><path class="c58" d="M4051 2848l25-11-23 10-25 10z"/><path class="c50" d="M3880 2943l25-18-23 15-25 18z"/><path class="c20" d="M3512 3275l26-31-23 21-26 30z"/><path class="c33" d="M4923 3132l26 21-23-24-26-22z"/><path class="c41" d="M3757 3038l26-23-23 17-26 23z"/><path class="c31" d="M3635 3149l25-26-23 19-25 26z"/><path class="c13" d="M5140 3359l26 26-23-29-26-26z"/><path class="c37" d="M4875 3087l25 20-23-22-25-21z"/><path class="c53" d="M3928 2912l26-16-23 13-26 16z"/><path class="c13" d="M3438 3359l26-33-23 21-26 32z"/><path class="c18" d="M5092 3306l25 24-23-28-25-24z"/><path class="c41" d="M4826 3045l26 19-23-21-26-20z"/><path class="c25" d="M3561 3225l25-29-23 20-25 28z"/><path class="c45" d="M3806 2999l25-21-23 16-25 21z"/><path class="c36" d="M3683 3105l26-26-23 18-26 26z"/><path class="c23" d="M5043 3255l26 23-23-27-26-24z"/><path class="c55" d="M3977 2885l25-15-23 11-25 15z"/><path class="c63" d="M4196 2806l26-5-23 3-26 5z"/><path class="c45" d="M4778 3005l25 18-23-20-25-18z"/><path class="c5" d="M5212 3446l25 30-23-31-25-31z"/><path class="c48" d="M4729 2968l26 17-23-19-26-16z"/><path class="c18" d="M3487 3306l25-31-23 20-25 31z"/><path class="c27" d="M4995 3205l25 22-23-26-25-23z"/><path class="c48" d="M3854 2964l26-21-23 15-26 20z"/><path class="c51" d="M4681 2934l25 16-22-17-26-16z"/><path class="c58" d="M4025 2861l26-13-23 9-26 13z"/><path class="c63" d="M4293 2798l26 0-23-1-26 0z"/><path class="c29" d="M3609 3178l26-29-23 19-26 28z"/><path class="c39" d="M3732 3062l25-24-23 17-25 24z"/><path class="c54" d="M4632 2904l26 13-23-15-25-13z"/><path class="c63" d="M4342 2801l25 2-23-3-25-2z"/><path class="c11" d="M5163 3390l26 24-23-29-26-26z"/><path class="c31" d="M4946 3157l26 21-23-25-26-21z"/><path class="c56" d="M4584 2877l26 12-23-14-26-11z"/><path class="c9" d="M3413 3398l25-39-23 20-25 39z"/><path class="c58" d="M4536 2854l25 10-23-12-25-10z"/><path class="c62" d="M4439 2819l25 6-23-7-25-6z"/><path class="c60" d="M4487 2834l26 8-23-9-26-8zM4074 2841l25-11-23 7-25 11z"/><path class="c51" d="M3903 2931l25-19-23 13-25 18z"/><path class="c36" d="M4898 3112l25 20-23-25-25-20z"/><path class="c22" d="M3535 3256l26-31-23 19-26 31z"/><path class="c16" d="M5115 3336l25 23-23-29-25-24z"/><path class="c43" d="M3780 3023l26-24-23 16-26 23z"/><path class="c33" d="M3658 3132l25-27-23 18-25 26z"/><path class="c61" d="M4122 2824l26-8-23 5-26 9z"/><path class="c39" d="M4849 3068l26 19-23-23-26-19z"/><path class="c54" d="M3951 2902l26-17-23 11-26 16z"/><path class="c20" d="M5066 3283l26 23-23-28-26-23z"/><path class="c15" d="M3461 3340l26-34-23 20-26 33z"/><path class="c62" d="M4171 2812l25-6-23 3-25 7z"/><path class="c43" d="M4801 3027l25 18-23-22-25-18z"/><path class="c2" d="M5234 3484l26 28-23-36-25-30z"/><path class="c47" d="M3829 2985l25-21-23 14-25 21z"/><path class="c27" d="M3584 3207l25-29-23 18-25 29z"/><path class="c47" d="M4752 2989l26 16-23-20-26-17z"/><path class="c63" d="M4219 2804l26-4-23 1-26 5z"/><path class="c25" d="M5018 3233l25 22-23-28-25-22z"/><path class="c37" d="M3706 3089l26-27-23 17-26 26z"/><path class="c57" d="M4000 2876l25-15-23 9-25 15z"/><path class="c50" d="M4704 2953l25 15-23-18-25-16z"/><path class="c63" d="M4268 2801l25-3-23-1-25 3z"/><path class="c8" d="M5186 3422l26 24-23-32-26-24z"/><path class="c29" d="M4969 3184l26 21-23-27-26-21z"/><path class="c53" d="M4655 2921l26 13-23-17-26-13z"/><path class="c63" d="M4316 2801l26 0-23-3-26 0z"/><path class="c20" d="M3510 3288l25-32-23 19-25 31z"/><path class="c50" d="M3877 2951l26-20-23 12-26 21z"/><path class="c55" d="M4607 2892l25 12-22-15-26-12z"/><path class="c59" d="M4048 2854l26-13-23 7-26 13z"/><path class="c63" d="M4365 2806l25 2-23-5-25-2z"/><path class="c58" d="M4558 2867l26 10-23-13-25-10z"/><path class="c62" d="M4413 2815l26 4-23-7-26-4z"/><path class="c31" d="M3632 3161l26-29-23 17-26 29z"/><path class="c60" d="M4510 2846l26 8-23-12-26-8z"/><path class="c61" d="M4461 2828l26 6-23-9-25-6z"/><path class="c41" d="M3755 3047l25-24-23 15-25 24z"/><path class="c13" d="M5138 3367l25 23-23-31-25-23z"/><path class="c34" d="M4921 3138l25 19-23-25-25-20z"/><path class="c60" d="M4097 2835l25-11-23 6-25 11z"/><path class="c11" d="M3436 3380l25-40-23 19-25 39z"/><path class="c38" d="M4872 3093l26 19-23-25-26-19z"/><path class="c53" d="M3926 2920l25-18-23 10-25 19z"/><path class="c18" d="M5089 3314l26 22-23-30-26-23z"/><path class="c24" d="M3558 3238l26-31-23 18-26 31z"/><path class="c62" d="M4145 2821l26-9-23 4-26 8z"/><path class="c45" d="M3803 3009l26-24-23 14-26 24z"/><path class="c41" d="M4824 3051l25 17-23-23-25-18z"/><path class="c35" d="M3681 3116l25-27-23 16-25 27z"/><path class="c23" d="M5041 3262l25 21-23-28-25-22z"/><path class="c55" d="M3974 2893l26-17-23 9-26 17z"/><path class="c63" d="M4194 2811l25-7-23 2-25 6z"/><path class="c45" d="M4775 3011l26 16-23-22-26-16z"/><path class="c5" d="M5209 3460l25 24-22-38-26-24z"/><path class="c17" d="M3484 3323l26-35-23 18-26 34z"/><path class="c48" d="M4727 2974l25 15-23-21-25-15z"/><path class="c63" d="M4242 2805l26-4-23-1-26 4z"/><path class="c27" d="M4992 3213l26 20-23-28-26-21z"/><path class="c48" d="M3852 2973l25-22-23 13-25 21z"/><path class="c29" d="M3607 3191l25-30-23 17-25 29z"/><path class="c58" d="M4023 2869l25-15-23 7-25 15z"/><path class="c51" d="M4678 2940l26 13-23-19-26-13z"/><path class="c39" d="M3729 3074l26-27-23 15-26 27z"/><path class="c63" d="M4290 2804l26-3-23-3-25 3z"/><path class="c54" d="M4630 2910l25 11-23-17-25-12z"/><path class="c10" d="M5160 3400l26 22-23-32-25-23z"/><path class="c63" d="M4339 2806l26 0-23-5-26 0z"/><path class="c31" d="M4944 3165l25 19-23-27-25-19z"/><path class="c57" d="M4581 2883l26 9-23-15-26-10z"/><path class="c63" d="M4387 2813l26 2-23-7-25-2z"/><path class="c59" d="M4533 2859l25 8-22-13-26-8z"/><path class="c62" d="M4436 2825l25 3-22-9-26-4z"/><path class="c60" d="M4484 2840l26 6-23-12-26-6zM4071 2848l26-13-23 6-26 13z"/><path class="c51" d="M3900 2941l26-21-23 11-26 20z"/><path class="c22" d="M3533 3271l25-33-23 18-25 32z"/><path class="c36" d="M4895 3119l26 19-23-26-26-19z"/><path class="c15" d="M5112 3345l26 22-23-31-26-22z"/><path class="c43" d="M3778 3034l25-25-23 14-25 24z"/><path class="c33" d="M3655 3145l26-29-23 16-26 29z"/><path class="c61" d="M4120 2832l25-11-23 3-25 11z"/><path class="c39" d="M4847 3076l25 17-23-25-25-17z"/><path class="c13" d="M3459 3363l25-40-23 17-25 40z"/><path class="c54" d="M3949 2911l25-18-23 9-25 18z"/><path class="c20" d="M5063 3293l26 21-23-31-25-21z"/><path class="c62" d="M4168 2820l26-9-23 1-26 9z"/><path class="c43" d="M4798 3035l26 16-23-24-26-16z"/><path class="c26" d="M3581 3222l26-31-23 16-26 31z"/><path class="c46" d="M3826 2997l26-24-23 12-26 24z"/><path class="c37" d="M3704 3102l25-28-23 15-25 27z"/><path class="c25" d="M5015 3242l26 20-23-29-26-20z"/><path class="c47" d="M4750 2996l25 15-23-22-25-15z"/><path class="c63" d="M4216 2812l26-7-23-1-25 7z"/><path class="c56" d="M3997 2885l26-16-23 7-26 17z"/><path class="c7" d="M5183 3439l26 21-23-38-26-22z"/><path class="c50" d="M4701 2961l26 13-23-21-26-13z"/><path class="c63" d="M4265 2808l25-4-22-3-26 4z"/><path class="c29" d="M4967 3194l25 19-23-29-25-19z"/><path class="c19" d="M3507 3306l26-35-23 17-26 35z"/><path class="c53" d="M4653 2929l25 11-23-19-25-11z"/><path class="c63" d="M4313 2809l26-3-23-5-26 3z"/><path class="c50" d="M3875 2963l25-22-23 10-25 22z"/><path class="c58" d="M4046 2863l25-15-23 6-25 15z"/><path class="c55" d="M4604 2900l26 10-23-18-26-9z"/><path class="c63" d="M4362 2814l25-1-22-7-26 0z"/><path class="c30" d="M3630 3176l25-31-23 16-25 30z"/><path class="c41" d="M3752 3061l26-27-23 13-26 27z"/><path class="c58" d="M4556 2875l25 8-23-16-25-8z"/><path class="c62" d="M4410 2823l26 2-23-10-26-2z"/><path class="c60" d="M4507 2854l26 5-23-13-26-6z"/><path class="c13" d="M5135 3379l25 21-22-33-26-22z"/><path class="c61" d="M4459 2836l25 4-23-12-25-3z"/><path class="c33" d="M4918 3147l26 18-23-27-26-19z"/><path class="c60" d="M4094 2845l26-13-23 3-26 13z"/><path class="c52" d="M3923 2932l26-21-23 9-26 21z"/><path class="c37" d="M4870 3102l25 17-23-26-25-17z"/><path class="c18" d="M5086 3325l26 20-23-31-26-21z"/><path class="c23" d="M3556 3256l25-34-23 16-25 33z"/><path class="c44" d="M3800 3022l26-25-23 12-25 25z"/><path class="c62" d="M4142 2831l26-11-23 1-25 11z"/><path class="c35" d="M3678 3131l26-29-23 14-26 29z"/><path class="c41" d="M4821 3060l26 16-23-25-26-16z"/><path class="c22" d="M5038 3274l25 19-22-31-26-20z"/><path class="c55" d="M3971 2904l26-19-23 8-25 18z"/><path class="c63" d="M4191 2821l25-9-22-1-26 9z"/><path class="c45" d="M4773 3020l25 15-23-24-25-15z"/><path class="c15" d="M3481 3348l26-42-23 17-25 40z"/><path class="c48" d="M4724 2984l26 12-23-22-26-13z"/><path class="c63" d="M4239 2815l26-7-23-3-26 7z"/><path class="c48" d="M3849 2987l26-24-23 10-26 24z"/><path class="c27" d="M4989 3224l26 18-23-29-25-19z"/><path class="c28" d="M3604 3208l26-32-23 15-26 31z"/><path class="c38" d="M3726 3089l26-28-23 13-25 28z"/><path class="c57" d="M4020 2880l26-17-23 6-26 16z"/><path class="c51" d="M4676 2950l25 11-23-21-25-11z"/><path class="c63" d="M4288 2814l25-5-23-5-25 4z"/><path class="c9" d="M5158 3419l25 20-23-39-25-21z"/><path class="c54" d="M4627 2919l26 10-23-19-26-10z"/><path class="c63" d="M4336 2816l26-2-23-8-26 3z"/><path class="c31" d="M4941 3176l26 18-23-29-26-18z"/><path class="c56" d="M4579 2892l25 8-23-17-25-8z"/><path class="c63" d="M4385 2823l25 0-23-10-25 1z"/><path class="c58" d="M4530 2869l26 6-23-16-26-5z"/><path class="c62" d="M4433 2834l26 2-23-11-26-2z"/><path class="c60" d="M4482 2850l25 4-23-14-25-4z"/><path class="c59" d="M4068 2860l26-15-23 3-25 15z"/><path class="c20" d="M3530 3291l26-35-23 15-26 35z"/><path class="c51" d="M3897 2954l26-22-23 9-25 22z"/><path class="c35" d="M4892 3131l26 16-23-28-25-17z"/><path class="c15" d="M5109 3360l26 19-23-34-26-20z"/><path class="c32" d="M3652 3162l26-31-23 14-25 31z"/><path class="c42" d="M3775 3049l25-27-22 12-26 27z"/><path class="c61" d="M4117 2844l25-13-22 1-26 13z"/><path class="c39" d="M4844 3087l26 15-23-26-26-16z"/><path class="c53" d="M3946 2925l25-21-22 7-26 21z"/><path class="c20" d="M5061 3307l25 18-23-32-25-19z"/><path class="c62" d="M4165 2832l26-11-23-1-26 11z"/><path class="c43" d="M4796 3046l25 14-23-25-25-15z"/><path class="c25" d="M3578 3241l26-33-23 14-25 34z"/><path class="c46" d="M3823 3012l26-25-23 10-26 25z"/><path class="c36" d="M3701 3119l25-30-22 13-26 29z"/><path class="c24" d="M5012 3256l26 18-23-32-26-18z"/><path class="c46" d="M4747 3008l26 12-23-24-26-12z"/><path class="c63" d="M4214 2824l25-9-23-3-25 9z"/><path class="c56" d="M3994 2899l26-19-23 5-26 19z"/><path class="c50" d="M4699 2973l25 11-23-23-25-11z"/><path class="c63" d="M4262 2820l26-6-23-6-26 7z"/><path class="c17" d="M3504 3333l26-42-23 15-26 42z"/><path class="c29" d="M4964 3207l25 17-22-30-26-18z"/><path class="c52" d="M4650 2940l26 10-23-21-26-10z"/><path class="c49" d="M3872 2978l25-24-22 9-26 24z"/><path class="c63" d="M4311 2821l25-5-23-7-25 5z"/><path class="c58" d="M4043 2877l25-17-22 3-26 17z"/><path class="c29" d="M3627 3194l25-32-22 14-26 32z"/><path class="c55" d="M4602 2912l25 7-23-19-25-8z"/><path class="c63" d="M4359 2826l26-3-23-9-26 2z"/><path class="c40" d="M3749 3078l26-29-23 12-26 28z"/><path class="c11" d="M5132 3400l26 19-23-40-26-19z"/><path class="c57" d="M4553 2887l26 5-23-17-26-6z"/><path class="c62" d="M4408 2835l25-1-23-11-25 0z"/><path class="c59" d="M4505 2865l25 4-23-15-25-4z"/><path class="c61" d="M4456 2848l26 2-23-14-26-2z"/><path class="c33" d="M4915 3160l26 16-23-29-26-16z"/><path class="c60" d="M4091 2859l26-15-23 1-26 15z"/><path class="c52" d="M3920 2947l26-22-23 7-26 22z"/><path class="c37" d="M4867 3116l25 15-22-29-26-15z"/><path class="c22" d="M3553 3277l25-36-22 15-26 35z"/><path class="c17" d="M5084 3342l25 18-23-35-25-18z"/><path class="c43" d="M3798 3039l25-27-23 10-25 27z"/><path class="c34" d="M3675 3150l26-31-23 12-26 31z"/><path class="c61" d="M4140 2845l25-13-23-1-25 13z"/><path class="c41" d="M4818 3073l26 14-23-27-25-14z"/><path class="c22" d="M5035 3289l26 18-23-33-26-18z"/><path class="c54" d="M3969 2920l25-21-23 5-25 21z"/><path class="c62" d="M4188 2835l26-11-23-3-26 11z"/><path class="c44" d="M4770 3034l26 12-23-26-26-12z"/><path class="c27" d="M3601 3229l26-35-23 14-26 33z"/><path class="c47" d="M3846 3004l26-26-23 9-26 25z"/><path class="c48" d="M4722 2997l25 11-23-24-25-11z"/><path class="c63" d="M4237 2829l25-9-23-5-25 9z"/><path class="c26" d="M4987 3239l25 17-23-32-25-17z"/><path class="c37" d="M3724 3108l25-30-23 11-25 30z"/><path class="c56" d="M4017 2896l26-19-23 3-26 19z"/><path class="c51" d="M4673 2963l26 10-23-23-26-10z"/><path class="c63" d="M4285 2828l26-7-23-7-26 6z"/><path class="c53" d="M4625 2933l25 7-23-21-25-7z"/><path class="c63" d="M4334 2830l25-4-23-10-25 5z"/><path class="c30" d="M4938 3191l26 16-23-31-26-16z"/><path class="c18" d="M3527 3320l26-43-23 14-26 42z"/><path class="c56" d="M4576 2906l26 6-23-20-26-5z"/><path class="c62" d="M4382 2837l26-2-23-12-26 3z"/><path class="c58" d="M4528 2883l25 4-23-18-25-4z"/><path class="c61" d="M4431 2848l25 0-23-14-25 1z"/><path class="c50" d="M3895 2972l25-25-23 7-25 24z"/><path class="c58" d="M4066 2876l25-17-23 1-25 17z"/><path class="c60" d="M4479 2864l26 1-23-15-26-2z"/><path class="c13" d="M5107 3383l25 17-23-40-25-18z"/><path class="c31" d="M3650 3183l25-33-23 12-25 32z"/><path class="c35" d="M4890 3146l25 14-23-29-25-15z"/><path class="c41" d="M3772 3068l26-29-23 10-26 29z"/><path class="c60" d="M4114 2860l26-15-23-1-26 15z"/><path class="c38" d="M4841 3102l26 14-23-29-26-14z"/><path class="c52" d="M3943 2943l26-23-23 5-26 22z"/><path class="c19" d="M5058 3325l26 17-23-35-26-18z"/><path class="c24" d="M3576 3265l25-36-23 12-25 36z"/><path class="c61" d="M4163 2848l25-13-23-3-25 13z"/><path class="c42" d="M4793 3061l25 12-22-27-26-12z"/><path class="c45" d="M3821 3031l25-27-23 8-25 27z"/><path class="c35" d="M3698 3139l26-31-23 11-26 31z"/><path class="c23" d="M5010 3273l25 16-23-33-25-17z"/><path class="c62" d="M4211 2840l26-11-23-5-26 11z"/><path class="c46" d="M4744 3023l26 11-23-26-25-11z"/><path class="c55" d="M3992 2917l25-21-23 3-25 21z"/><path class="c49" d="M4696 2988l26 9-23-24-26-10z"/><path class="c62" d="M4260 2836l25-8-23-8-25 9z"/><path class="c28" d="M4961 3224l26 15-23-32-26-16z"/><path class="c48" d="M3869 2998l26-26-23 6-26 26z"/><path class="c52" d="M4648 2956l25 7-23-23-25-7z"/><path class="c62" d="M4308 2837l26-7-23-9-26 7z"/><path class="c28" d="M3624 3217l26-34-23 11-26 35z"/><path class="c57" d="M4040 2895l26-19-23 1-26 19z"/><path class="c39" d="M3747 3098l25-30-23 10-25 30z"/><path class="c54" d="M4599 2928l26 5-23-21-26-6z"/><path class="c62" d="M4357 2842l25-5-23-11-25 4z"/><path class="c56" d="M4551 2903l25 3-23-19-25-4z"/><path class="c61" d="M4405 2851l26-3-23-13-26 2z"/><path class="c32" d="M4913 3177l25 14-23-31-25-14z"/><path class="c58" d="M4502 2881l26 2-23-18-26-1z"/><path class="c60" d="M4454 2864l25 0-23-16-25 0z"/><path class="c59" d="M4089 2877l25-17-23-1-25 17z"/><path class="c20" d="M3550 3308l26-43-23 12-26 43z"/><path class="c51" d="M3918 2967l25-24-23 4-25 25z"/><path class="c15" d="M5081 3367l26 16-23-41-26-17z"/><path class="c36" d="M4864 3132l26 14-23-30-26-14z"/><path class="c32" d="M3673 3172l25-33-23 11-25 33z"/><path class="c42" d="M3795 3060l26-29-23 8-26 29z"/><path class="c60" d="M4137 2863l26-15-23-3-26 15z"/><path class="c40" d="M4816 3090l25 12-23-29-25-12z"/><path class="c20" d="M5033 3309l25 16-23-36-25-16z"/><path class="c53" d="M3966 2940l26-23-23 3-26 23z"/><path class="c61" d="M4186 2853l25-13-23-5-25 13z"/><path class="c43" d="M4767 3051l26 10-23-27-26-11z"/><path class="c25" d="M3599 3254l25-37-23 12-25 36z"/><path class="c46" d="M3844 3025l25-27-23 6-25 27z"/><path class="c47" d="M4719 3014l25 9-22-26-26-9z"/><path class="c62" d="M4234 2847l26-11-23-7-26 11z"/><path class="c25" d="M4984 3258l26 15-23-34-26-15z"/><path class="c36" d="M3721 3130l26-32-23 10-26 31z"/><path class="c55" d="M4015 2916l25-21-23 1-25 21z"/><path class="c50" d="M4670 2981l26 7-23-25-25-7z"/><path class="c62" d="M4283 2846l25-9-23-9-25 8z"/><path class="c52" d="M4622 2951l26 5-23-23-26-5z"/><path class="c62" d="M4331 2849l26-7-23-12-26 7z"/><path class="c29" d="M4936 3210l25 14-23-33-25-14z"/><path class="c55" d="M4573 2924l26 4-23-22-25-3z"/><path class="c61" d="M4380 2856l25-5-23-14-25 5z"/><path class="c49" d="M3892 2993l26-26-23 5-26 26z"/><path class="c57" d="M4063 2896l26-19-23-1-26 19zM4525 2901l26 2-23-20-26-2z"/><path class="c60" d="M4428 2867l26-3-23-16-26 3z"/><path class="c59" d="M4477 2882l25-1-23-17-25 0z"/><path class="c29" d="M3647 3207l26-35-23 11-26 34z"/><path class="c40" d="M3770 3091l25-31-23 8-25 30z"/><path class="c34" d="M4887 3164l26 13-23-31-26-14z"/><path class="c59" d="M4112 2880l25-17-23-3-25 17z"/><path class="c37" d="M4839 3121l25 11-23-30-25-12z"/><path class="c17" d="M5056 3352l25 15-23-42-25-16z"/><path class="c51" d="M3941 2964l25-24-23 3-25 24z"/><path class="c21" d="M3573 3298l26-44-23 11-26 43z"/><path class="c60" d="M4160 2868l26-15-23-5-26 15z"/><path class="c43" d="M3818 3054l26-29-23 6-26 29z"/><path class="c41" d="M4790 3080l26 10-23-29-26-10z"/><path class="c33" d="M3696 3163l25-33-23 9-25 33z"/><path class="c22" d="M5007 3295l26 14-23-36-26-15z"/><path class="c61" d="M4209 2861l25-14-23-7-25 13z"/><path class="c54" d="M3989 2939l26-23-23 1-26 23z"/><path class="c45" d="M4742 3042l25 9-23-28-25-9z"/><path class="c48" d="M4693 3007l26 7-23-26-26-7z"/><path class="c61" d="M4257 2857l26-11-23-10-26 11z"/><path class="c27" d="M4959 3245l25 13-23-34-25-14z"/><path class="c46" d="M3867 3021l25-28-23 5-25 27z"/><path class="c26" d="M3622 3244l25-37-23 10-25 37z"/><path class="c51" d="M4645 2976l25 5-22-25-26-5z"/><path class="c61" d="M4306 2857l25-8-23-12-25 9z"/><path class="c56" d="M4038 2917l25-21-23-1-25 21z"/><path class="c37" d="M3744 3123l26-32-23 7-26 32z"/><path class="c53" d="M4596 2947l26 4-23-23-26-4z"/><path class="c61" d="M4354 2862l26-6-23-14-26 7z"/><path class="c55" d="M4548 2922l25 2-22-21-26-2z"/><path class="c60" d="M4402 2871l26-4-23-16-25 5z"/><path class="c31" d="M4910 3197l26 13-23-33-26-13z"/><path class="c57" d="M4499 2901l26 0-23-20-25 1z"/><path class="c59" d="M4451 2884l26-2-23-18-26 3z"/><path class="c57" d="M4086 2899l26-19-23-3-26 19z"/><path class="c49" d="M3915 2990l26-26-23 3-26 26z"/><path class="c35" d="M4862 3153l25 11-23-32-25-11z"/><path class="c30" d="M3670 3199l26-36-23 9-26 35z"/><path class="c41" d="M3793 3085l25-31-23 6-25 31z"/><path class="c59" d="M4135 2885l25-17-23-5-25 17z"/><path class="c39" d="M4813 3111l26 10-23-31-26-10z"/><path class="c18" d="M5030 3338l26 14-23-43-26-14z"/><path class="c52" d="M3964 2963l25-24-23 1-25 24z"/><path class="c60" d="M4183 2876l26-15-23-8-26 15z"/><path class="c42" d="M4765 3072l25 8-23-29-25-9z"/><path class="c22" d="M3596 3288l26-44-23 10-26 44z"/><path class="c44" d="M3841 3050l26-29-23 4-26 29z"/><path class="c34" d="M3719 3156l25-33-23 7-25 33z"/><path class="c60" d="M4232 2870l25-13-23-10-25 14z"/><path class="c24" d="M4982 3282l25 13-23-37-25-13z"/><path class="c46" d="M4716 3035l26 7-23-28-26-7z"/><path class="c54" d="M4012 2940l26-23-23-1-26 23z"/><path class="c49" d="M4668 3002l25 5-23-26-25-5z"/><path class="c60" d="M4280 2868l26-11-23-11-26 11z"/><path class="c51" d="M4619 2972l26 4-23-25-26-4z"/><path class="c60" d="M4328 2871l26-9-23-13-25 8z"/><path class="c28" d="M4933 3233l26 12-23-35-26-13z"/><path class="c54" d="M4571 2946l25 1-23-23-25-2z"/><path class="c47" d="M3890 3018l25-28-23 3-25 28z"/><path class="c60" d="M4377 2878l25-7-22-15-26 6z"/><path class="c56" d="M4061 2920l25-21-23-3-25 21zM4522 2923l26-1-23-21-26 0z"/><path class="c59" d="M4425 2889l26-5-23-17-26 4z"/><path class="c27" d="M3645 3236l25-37-23 8-25 37z"/><path class="c57" d="M4474 2904l25-3-22-19-26 2z"/><path class="c38" d="M3767 3117l26-32-23 6-26 32z"/><path class="c32" d="M4885 3187l25 10-23-33-25-11z"/><path class="c57" d="M4109 2905l26-20-23-5-26 19z"/><path class="c50" d="M3938 2990l26-27-23 1-26 26z"/><path class="c36" d="M4836 3143l26 10-23-32-26-10z"/><path class="c58" d="M4158 2893l25-17-23-8-25 17z"/><path class="c41" d="M3816 3081l25-31-23 4-25 31z"/><path class="c31" d="M3693 3192l26-36-23 7-26 36z"/><path class="c40" d="M4788 3103l25 8-23-31-25-8z"/><path class="c20" d="M5004 3325l26 13-23-43-25-13z"/><path class="c52" d="M3987 2965l25-25-23-1-25 24z"/><path class="c59" d="M4206 2885l26-15-23-9-26 15z"/><path class="c43" d="M4739 3065l26 7-23-30-26-7z"/><path class="c60" d="M4254 2881l26-13-23-11-25 13z"/><path class="c46" d="M4691 3030l25 5-23-28-25-5z"/><path class="c24" d="M3619 3281l26-45-23 8-26 44z"/><path class="c45" d="M3864 3048l26-30-23 3-26 29z"/><path class="c25" d="M4956 3270l26 12-23-37-26-12z"/><path class="c35" d="M3742 3151l25-34-23 6-25 33z"/><path class="c49" d="M4642 2999l26 3-23-26-26-4z"/><path class="c60" d="M4303 2882l25-11-22-14-26 11z"/><path class="c54" d="M4035 2943l26-23-23-3-26 23z"/><path class="c52" d="M4594 2971l25 1-23-25-25-1z"/><path class="c59" d="M4351 2887l26-9-23-16-26 9z"/><path class="c54" d="M4545 2946l26 0-23-24-26 1z"/><path class="c58" d="M4400 2896l25-7-23-18-25 7z"/><path class="c29" d="M4908 3222l25 11-23-36-25-10z"/><path class="c56" d="M4497 2925l25-2-23-22-25 3z"/><path class="c57" d="M4448 2909l26-5-23-20-26 5z"/><path class="c56" d="M4083 2925l26-20-23-6-25 21z"/><path class="c47" d="M3912 3017l26-27-23 0-25 28z"/><path class="c33" d="M4859 3177l26 10-23-34-26-10z"/><path class="c28" d="M3668 3230l25-38-23 7-25 37z"/><path class="c39" d="M3790 3113l26-32-23 4-26 32z"/><path class="c57" d="M4132 2912l26-19-23-8-26 20z"/><path class="c37" d="M4811 3135l25 8-23-32-25-8z"/><path class="c50" d="M3961 2991l26-26-23-2-26 27z"/><path class="c58" d="M4180 2902l26-17-23-9-25 17z"/><path class="c41" d="M4762 3096l26 7-23-31-26-7z"/><path class="c42" d="M3838 3078l26-30-23 2-25 31z"/><path class="c32" d="M3716 3187l26-36-23 5-26 36z"/><path class="c21" d="M4979 3314l25 11-22-43-26-12z"/><path class="c58" d="M4229 2896l25-15-22-11-26 15z"/><path class="c44" d="M4714 3060l25 5-23-30-25-5z"/><path class="c52" d="M4009 2968l26-25-23-3-25 25z"/><path class="c59" d="M4277 2895l26-13-23-14-26 13z"/><path class="c47" d="M4665 3027l26 3-23-28-26-3z"/><path class="c50" d="M4617 2998l25 1-23-27-25-1z"/><path class="c58" d="M4326 2898l25-11-23-16-25 11z"/><path class="c26" d="M4930 3260l26 10-23-37-25-11z"/><path class="c25" d="M3642 3274l26-44-23 6-26 45z"/><path class="c45" d="M3887 3047l25-30-22 1-26 30z"/><path class="c52" d="M4568 2971l26 0-23-25-26 0z"/><path class="c58" d="M4374 2904l26-8-23-18-26 9z"/><path class="c54" d="M4058 2948l25-23-22-5-26 23zM4520 2949l25-3-23-23-25 2z"/><path class="c57" d="M4423 2915l25-6-23-20-25 7z"/><path class="c56" d="M4471 2930l26-5-23-21-26 5z"/><path class="c36" d="M3764 3147l26-34-23 4-25 34z"/><path class="c30" d="M4882 3213l26 9-23-35-26-10z"/><path class="c55" d="M4106 2933l26-21-23-7-26 20z"/><path class="c48" d="M3935 3019l26-28-23-1-26 27z"/><path class="c34" d="M4834 3170l25 7-23-34-25-8z"/><path class="c29" d="M3690 3225l26-38-23 5-25 38z"/><path class="c39" d="M3813 3111l25-33-22 3-26 32z"/><path class="c56" d="M4155 2921l25-19-22-9-26 19z"/><path class="c38" d="M4785 3129l26 6-23-32-26-7z"/><path class="c50" d="M3984 2994l25-26-22-3-26 26z"/><path class="c57" d="M4203 2913l26-17-23-11-26 17z"/><path class="c41" d="M4737 3092l25 4-23-31-25-5z"/><path class="c58" d="M4252 2910l25-15-23-14-25 15z"/><path class="c45" d="M4688 3057l26 3-23-30-26-3z"/><path class="c22" d="M4953 3304l26 10-23-44-26-10z"/><path class="c42" d="M3861 3078l26-31-23 1-26 30z"/><path class="c33" d="M3739 3183l25-36-22 4-26 36z"/><path class="c52" d="M4032 2973l26-25-23-5-26 25z"/><path class="c58" d="M4300 2910l26-12-23-16-26 13z"/><path class="c47" d="M4640 3026l25 1-23-28-25-1z"/><path class="c50" d="M4591 2998l26 0-23-27-26 0z"/><path class="c57" d="M4349 2915l25-11-23-17-25 11z"/><path class="c52" d="M4543 2974l25-3-23-25-25 3z"/><path class="c56" d="M4397 2924l26-9-23-19-26 8z"/><path class="c27" d="M4905 3251l25 9-22-38-26-9z"/><path class="c54" d="M4494 2953l26-4-23-24-26 5z"/><path class="c55" d="M4446 2937l25-7-23-21-25 6z"/><path class="c54" d="M4081 2955l25-22-23-8-25 23z"/><path class="c45" d="M3910 3048l25-29-23-2-25 30z"/><path class="c25" d="M3665 3270l25-45-22 5-26 44z"/><path class="c31" d="M4856 3206l26 7-23-36-25-7z"/><path class="c37" d="M3787 3145l26-34-23 2-26 34z"/><path class="c55" d="M4129 2942l26-21-23-9-26 21z"/><path class="c35" d="M4808 3164l26 6-23-35-26-6z"/><path class="c48" d="M3958 3022l26-28-23-3-26 28z"/><path class="c56" d="M4178 2932l25-19-23-11-25 19z"/><path class="c39" d="M4760 3125l25 4-23-33-25-4z"/><path class="c40" d="M3836 3111l25-33-23 0-25 33z"/><path class="c30" d="M3713 3221l26-38-23 4-26 38z"/><path class="c56" d="M4226 2927l26-17-23-14-26 17z"/><path class="c42" d="M4711 3089l26 3-23-32-26-3z"/><path class="c50" d="M4007 2999l25-26-23-5-25 26z"/><path class="c57" d="M4275 2925l25-15-23-15-25 15z"/><path class="c45" d="M4663 3056l25 1-23-30-25-1z"/><path class="c24" d="M4928 3296l25 8-23-44-25-9z"/><path class="c56" d="M4323 2928l26-13-23-17-26 12z"/><path class="c48" d="M4614 3027l26-1-23-28-26 0z"/><path class="c43" d="M3884 3079l26-31-23-1-26 31z"/><path class="c52" d="M4055 2980l26-25-23-7-26 25z"/><path class="c56" d="M4372 2935l25-11-23-20-25 11z"/><path class="c50" d="M4566 3001l25-3-23-27-25 3z"/><path class="c34" d="M3762 3181l25-36-23 2-25 36z"/><path class="c52" d="M4517 2979l26-5-23-25-26 4z"/><path class="c55" d="M4420 2945l26-8-23-22-26 9z"/><path class="c54" d="M4469 2960l25-7-23-23-25 7z"/><path class="c28" d="M4879 3244l26 7-23-38-26-7z"/><path class="c53" d="M4104 2965l25-23-23-9-25 22z"/><path class="c45" d="M3933 3051l25-29-23-3-25 29z"/><path class="c32" d="M4831 3200l25 6-22-36-26-6z"/><path class="c26" d="M3688 3267l25-46-23 4-25 45z"/><path class="c37" d="M3810 3145l26-34-23 0-26 34z"/><path class="c54" d="M4152 2953l26-21-23-11-26 21z"/><path class="c36" d="M4782 3159l26 5-23-35-25-4z"/><path class="c48" d="M3981 3027l26-28-23-5-26 28z"/><path class="c55" d="M4201 2946l25-19-23-14-25 19z"/><path class="c39" d="M4734 3122l26 3-23-33-26-3z"/><path class="c55" d="M4249 2942l26-17-23-15-26 17z"/><path class="c40" d="M3859 3112l25-33-23-1-25 33z"/><path class="c42" d="M4685 3088l26 1-23-32-25-1z"/><path class="c30" d="M3736 3220l26-39-23 2-26 38z"/><path class="c50" d="M4030 3006l25-26-23-7-25 26z"/><path class="c55" d="M4298 2943l25-15-23-18-25 15z"/><path class="c45" d="M4637 3057l26-1-23-30-26 1z"/><path class="c55" d="M4346 2947l26-12-23-20-26 13z"/><path class="c48" d="M4589 3029l25-2-23-29-25 3z"/><path class="c25" d="M4902 3289l26 7-23-45-26-7z"/><path class="c54" d="M4395 2956l25-11-23-21-25 11z"/><path class="c50" d="M4540 3005l26-4-23-27-26 5z"/><path class="c53" d="M4443 2969l26-9-23-23-26 8z"/><path class="c52" d="M4492 2985l25-6-23-26-25 7z"/><path class="c51" d="M4078 2989l26-24-23-10-26 25z"/><path class="c43" d="M3907 3082l26-31-23-3-26 31z"/><path class="c34" d="M3785 3181l25-36-23 0-25 36z"/><path class="c29" d="M4854 3239l25 5-23-38-25-6z"/><path class="c52" d="M4127 2976l25-23-23-11-25 23z"/><path class="c33" d="M4805 3196l26 4-23-36-26-5z"/><path class="c45" d="M3956 3056l25-29-23-5-25 29z"/><path class="c53" d="M4175 2966l26-20-23-14-26 21z"/><path class="c27" d="M3711 3265l25-45-23 1-25 46z"/><path class="c37" d="M4757 3157l25 2-22-34-26-3zM3833 3146l26-34-23-1-26 34z"/><path class="c54" d="M4224 2961l25-19-23-15-25 19z"/><path class="c47" d="M4004 3034l26-28-23-7-26 28z"/><path class="c40" d="M4708 3121l26 1-23-33-26-1z"/><path class="c54" d="M4272 2959l26-16-23-18-26 17z"/><path class="c43" d="M4660 3088l25 0-22-32-26 1z"/><path class="c54" d="M4321 2962l25-15-23-19-25 15z"/><path class="c45" d="M4611 3059l26-2-23-30-25 2z"/><path class="c40" d="M3882 3115l25-33-23-3-25 33z"/><path class="c49" d="M4053 3015l25-26-23-9-25 26z"/><path class="c53" d="M4369 2969l26-13-23-21-26 12z"/><path class="c31" d="M3759 3219l26-38-23 0-26 39z"/><path class="c48" d="M4563 3034l26-5-23-28-26 4z"/><path class="c52" d="M4418 2979l25-10-23-24-25 11z"/><path class="c50" d="M4514 3012l26-7-23-26-25 6z"/><path class="c51" d="M4466 2994l26-9-23-25-26 9z"/><path class="c25" d="M4877 3284l25 5-23-45-25-5z"/><path class="c51" d="M4101 3000l26-24-23-11-26 24z"/><path class="c43" d="M3930 3088l26-32-23-5-26 31z"/><path class="c30" d="M4828 3235l26 4-23-39-26-4z"/><path class="c34" d="M3808 3182l25-36-23-1-25 36z"/><path class="c52" d="M4150 2989l25-23-23-13-25 23z"/><path class="c34" d="M4780 3193l25 3-23-37-25-2z"/><path class="c45" d="M3979 3063l25-29-23-7-25 29z"/><path class="c52" d="M4198 2981l26-20-23-15-26 20z"/><path class="c37" d="M4731 3156l26 1-23-35-26-1z"/><path class="c53" d="M4247 2978l25-19-23-17-25 19z"/><path class="c27" d="M3734 3265l25-46-23 1-25 45z"/><path class="c37" d="M3856 3149l26-34-23-3-26 34z"/><path class="c40" d="M4683 3122l25-1-23-33-25 0z"/><path class="c47" d="M4027 3043l26-28-23-9-26 28z"/><path class="c53" d="M4295 2978l26-16-23-19-26 16z"/><path class="c43" d="M4634 3091l26-3-23-31-26 2z"/><path class="c52" d="M4344 2983l25-14-23-22-25 15z"/><path class="c45" d="M4586 3064l25-5-22-30-26 5z"/><path class="c52" d="M4392 2992l26-13-23-23-26 13z"/><path class="c47" d="M4537 3040l26-6-23-29-26 7z"/><path class="c51" d="M4440 3004l26-10-23-25-25 10z"/><path class="c49" d="M4489 3020l25-8-22-27-26 9zM4076 3026l25-26-23-11-25 26z"/><path class="c40" d="M3905 3120l25-32-23-6-25 33z"/><path class="c31" d="M3782 3221l26-39-23-1-26 38z"/><path class="c26" d="M4851 3280l26 4-23-45-26-4z"/><path class="c50" d="M4124 3013l26-24-23-13-26 24z"/><path class="c42" d="M3953 3094l26-31-23-7-26 32z"/><path class="c30" d="M4803 3232l25 3-23-39-25-3z"/><path class="c51" d="M4173 3004l25-23-23-15-25 23z"/><path class="c34" d="M3831 3186l25-37-23-3-25 36zM4754 3192l26 1-23-36-26-1z"/><path class="c51" d="M4221 2998l26-20-23-17-26 20z"/><path class="c45" d="M4002 3072l25-29-23-9-25 29z"/><path class="c37" d="M4706 3157l25-1-23-35-25 1z"/><path class="c51" d="M4270 2997l25-19-23-19-25 19z"/><path class="c40" d="M4657 3124l26-2-23-34-26 3z"/><path class="c51" d="M4318 2999l26-16-23-21-26 16z"/><path class="c37" d="M3879 3154l26-34-23-5-26 34z"/><path class="c43" d="M4609 3096l25-5-23-32-25 5z"/><path class="c27" d="M3757 3267l25-46-23-2-25 46z"/><path class="c46" d="M4050 3054l26-28-23-11-26 28z"/><path class="c51" d="M4366 3006l26-14-23-23-25 14z"/><path class="c45" d="M4560 3070l26-6-23-30-26 6z"/><path class="c50" d="M4415 3016l25-12-22-25-26 13z"/><path class="c47" d="M4512 3049l25-9-23-28-25 8z"/><path class="c49" d="M4463 3031l26-11-23-26-26 10z"/><path class="c48" d="M4099 3039l25-26-23-13-25 26z"/><path class="c40" d="M3928 3127l25-33-23-6-25 32z"/><path class="c27" d="M4826 3278l25 2-23-45-25-3z"/><path class="c31" d="M3805 3224l26-38-23-4-26 39z"/><path class="c49" d="M4147 3028l26-24-23-15-26 24z"/><path class="c31" d="M4777 3232l26 0-23-39-26-1z"/><path class="c42" d="M3976 3103l26-31-23-9-26 31z"/><path class="c50" d="M4195 3021l26-23-23-17-25 23z"/><path class="c34" d="M4729 3193l25-1-23-36-25 1zM3854 3191l25-37-23-5-25 37z"/><path class="c50" d="M4244 3017l26-20-23-19-26 20z"/><path class="c37" d="M4680 3159l26-2-23-35-26 2z"/><path class="c44" d="M4024 3083l26-29-23-11-25 29z"/><path class="c50" d="M4292 3018l26-19-23-21-25 19z"/><path class="c40" d="M4632 3129l25-5-23-33-25 5z"/><path class="c50" d="M4341 3022l25-16-22-23-26 16z"/><path class="c42" d="M4583 3102l26-6-23-32-26 6z"/><path class="c49" d="M4389 3031l26-15-23-24-26 14z"/><path class="c45" d="M4535 3079l25-9-23-30-25 9z"/><path class="c48" d="M4438 3043l25-12-23-27-25 12z"/><path class="c46" d="M4486 3059l26-10-23-29-26 11z"/><path class="c37" d="M3902 3161l26-34-23-7-26 34z"/><path class="c46" d="M4073 3066l26-27-23-13-26 28z"/><path class="c27" d="M3780 3270l25-46-23-3-25 46z"/><path class="c47" d="M4121 3054l26-26-23-15-25 26z"/><path class="c27" d="M4800 3278l26 0-23-46-26 0z"/><path class="c39" d="M3950 3136l26-33-23-9-25 33z"/><path class="c48" d="M4170 3044l25-23-22-17-26 24z"/><path class="c31" d="M3828 3229l26-38-23-5-26 38zM4752 3233l25-1-23-40-25 1z"/><path class="c48" d="M4218 3039l26-22-23-19-26 23z"/><path class="c41" d="M3999 3114l25-31-22-11-26 31z"/><path class="c34" d="M4703 3196l26-3-23-36-26 2z"/><path class="c48" d="M4267 3038l25-20-22-21-26 20z"/><path class="c37" d="M4655 3164l25-5-23-35-25 5z"/><path class="c34" d="M3876 3197l26-36-23-7-25 37z"/><path class="c48" d="M4315 3040l26-18-23-23-26 19z"/><path class="c40" d="M4606 3135l26-6-23-33-26 6z"/><path class="c43" d="M4047 3095l26-29-23-12-26 29z"/><path class="c48" d="M4364 3047l25-16-23-25-25 16z"/><path class="c42" d="M4558 3110l25-8-23-32-25 9z"/><path class="c47" d="M4412 3057l26-14-23-27-26 15z"/><path class="c44" d="M4509 3089l26-10-23-30-26 10z"/><path class="c46" d="M4461 3071l25-12-23-28-25 12z"/><path class="c45" d="M4096 3081l25-27-22-15-26 27z"/><path class="c37" d="M3925 3170l25-34-22-9-26 34z"/><path class="c27" d="M3802 3275l26-46-23-5-25 46z"/><path class="c46" d="M4144 3070l26-26-23-16-26 26z"/><path class="c27" d="M4775 3279l25-1-23-46-25 1z"/><path class="c39" d="M3973 3146l26-32-23-11-26 33z"/><path class="c46" d="M4193 3063l25-24-23-18-25 23z"/><path class="c31" d="M4726 3235l26-2-23-40-26 3zM3851 3236l25-39-22-6-26 38z"/><path class="c47" d="M4241 3060l26-22-23-21-26 22z"/><path class="c34" d="M4678 3200l25-4-23-37-25 5z"/><path class="c41" d="M4022 3126l25-31-23-12-25 31z"/><path class="c47" d="M4290 3060l25-20-23-22-25 20z"/><path class="c37" d="M4629 3170l26-6-23-35-26 6z"/><path class="c46" d="M4338 3065l26-18-23-25-26 18z"/><path class="c39" d="M4581 3143l25-8-23-33-25 8z"/><path class="c46" d="M4387 3073l25-16-23-26-25 16z"/><path class="c41" d="M4532 3120l26-10-23-31-26 10z"/><path class="c45" d="M4435 3085l26-14-23-28-26 14z"/><path class="c43" d="M4484 3101l25-12-23-30-25 12z"/><path class="c34" d="M3899 3206l26-36-23-9-26 36z"/><path class="c42" d="M4070 3110l26-29-23-15-26 29z"/><path class="c43" d="M4119 3097l25-27-23-16-25 27z"/><path class="c36" d="M3948 3180l25-34-23-10-25 34z"/><path class="c27" d="M3825 3282l26-46-23-7-26 46z"/><path class="c44" d="M4167 3088l26-25-23-19-26 26z"/><path class="c27" d="M4749 3282l26-3-23-46-26 2z"/><path class="c45" d="M4216 3083l25-23-23-21-25 24z"/><path class="c38" d="M3996 3158l26-32-23-12-26 32z"/><path class="c31" d="M4701 3240l25-5-23-39-25 4z"/><path class="c45" d="M4264 3082l26-22-23-22-26 22z"/><path class="c34" d="M4652 3207l26-7-23-36-26 6z"/><path class="c30" d="M3874 3244l25-38-23-9-25 39z"/><path class="c45" d="M4313 3084l25-19-23-25-25 20z"/><path class="c40" d="M4045 3140l25-30-23-15-25 31z"/><path class="c37" d="M4604 3178l25-8-23-35-25 8z"/><path class="c44" d="M4361 3091l26-18-23-26-26 18z"/><path class="c39" d="M4555 3153l26-10-23-33-26 10z"/><path class="c43" d="M4410 3101l25-16-23-28-25 16z"/><path class="c41" d="M4507 3132l25-12-23-31-25 12z"/><path class="c42" d="M4458 3114l26-13-23-30-26 14z"/><path class="c41" d="M4093 3126l26-29-23-16-26 29z"/><path class="c33" d="M3922 3216l26-36-23-10-26 36z"/><path class="c42" d="M4142 3115l25-27-23-18-25 27z"/><path class="c35" d="M3971 3192l25-34-23-12-25 34z"/><path class="c43" d="M4190 3108l26-25-23-20-26 25z"/><path class="c27" d="M4723 3286l26-4-23-47-25 5zM3848 3290l26-46-23-8-26 46z"/><path class="c43" d="M4239 3105l25-23-23-22-25 23z"/><path class="c31" d="M4675 3246l26-6-23-40-26 7z"/><path class="c37" d="M4019 3172l26-32-23-14-26 32z"/><path class="c43" d="M4287 3106l26-22-23-24-26 22z"/><path class="c34" d="M4626 3214l26-7-23-37-25 8z"/><path class="c43" d="M4336 3110l25-19-23-26-25 19z"/><path class="c36" d="M4578 3188l26-10-23-35-26 10z"/><path class="c42" d="M4384 3118l26-17-23-28-26 18z"/><path class="c38" d="M4530 3165l25-12-23-33-25 12z"/><path class="c30" d="M3897 3254l25-38-23-10-25 38z"/><path class="c41" d="M4433 3130l25-16-23-29-25 16z"/><path class="c40" d="M4481 3145l26-13-23-31-26 13z"/><path class="c39" d="M4068 3156l25-30-23-16-25 30z"/><path class="c40" d="M4116 3144l26-29-23-18-26 29z"/><path class="c32" d="M3945 3228l26-36-23-12-26 36z"/><path class="c41" d="M4165 3135l25-27-23-20-25 27zM4213 3130l26-25-23-22-26 25z"/><path class="c34" d="M3994 3206l25-34-23-14-25 34z"/><path class="c27" d="M4698 3292l25-6-22-46-26 6z"/><path class="c41" d="M4262 3129l25-23-23-24-25 23z"/><path class="c26" d="M3871 3300l26-46-23-10-26 46z"/><path class="c30" d="M4649 3254l26-8-23-39-26 7z"/><path class="c41" d="M4310 3131l26-21-23-26-26 22z"/><path class="c36" d="M4042 3188l26-32-23-16-26 32z"/><path class="c33" d="M4601 3224l25-10-22-36-26 10z"/><path class="c41" d="M4359 3137l25-19-23-27-25 19z"/><path class="c35" d="M4552 3199l26-11-23-35-25 12z"/><path class="c40" d="M4407 3147l26-17-23-29-26 17z"/><path class="c37" d="M4504 3178l26-13-23-33-26 13z"/><path class="c39" d="M4456 3161l25-16-23-31-25 16z"/><path class="c37" d="M4091 3174l25-30-23-18-25 30z"/><path class="c29" d="M3920 3266l25-38-23-12-25 38z"/><path class="c38" d="M4139 3163l26-28-23-20-26 29z"/><path class="c31" d="M3968 3241l26-35-23-14-26 36z"/><path class="c39" d="M4188 3156l25-26-23-22-25 27zM4236 3153l26-24-23-24-26 25z"/><path class="c27" d="M4672 3299l26-7-23-46-26 8z"/><path class="c33" d="M4017 3221l25-33-23-16-25 34z"/><path class="c39" d="M4285 3154l25-23-23-25-25 23z"/><path class="c30" d="M4624 3263l25-9-23-40-25 10z"/><path class="c39" d="M4333 3158l26-21-23-27-26 21z"/><path class="c32" d="M4575 3235l26-11-23-36-26 11z"/><path class="c25" d="M3894 3311l26-45-23-12-26 46z"/><path class="c38" d="M4382 3166l25-19-23-29-25 19z"/><path class="c34" d="M4527 3212l25-13-22-34-26 13z"/><path class="c37" d="M4430 3178l26-17-23-31-26 17z"/><path class="c35" d="M4065 3205l26-31-23-18-26 32z"/><path class="c36" d="M4478 3193l26-15-23-33-25 16zM4114 3193l25-30-23-19-25 30z"/><path class="c28" d="M3943 3279l25-38-23-13-25 38z"/><path class="c37" d="M4162 3184l26-28-23-21-26 28zM4211 3179l25-26-23-23-25 26z"/><path class="c30" d="M3991 3256l26-35-23-15-26 35z"/><path class="c38" d="M4259 3178l26-24-23-25-26 24z"/><path class="c26" d="M4647 3309l25-10-23-45-25 9z"/><path class="c37" d="M4307 3180l26-22-23-27-25 23z"/><path class="c32" d="M4040 3238l25-33-23-17-25 33z"/><path class="c29" d="M4598 3274l26-11-23-39-26 11z"/><path class="c37" d="M4356 3187l26-21-23-29-26 21z"/><path class="c31" d="M4550 3248l25-13-23-36-25 13z"/><path class="c36" d="M4404 3196l26-18-23-31-25 19z"/><path class="c33" d="M4501 3227l26-15-23-34-26 15z"/><path class="c35" d="M4453 3210l25-17-22-32-26 17z"/><path class="c25" d="M3917 3324l26-45-23-13-26 45z"/><path class="c34" d="M4088 3224l26-31-23-19-26 31z"/><path class="c35" d="M4136 3214l26-30-23-21-25 30z"/><path class="c27" d="M3966 3294l25-38-23-15-25 38z"/><path class="c35" d="M4185 3207l26-28-23-23-26 28z"/><path class="c36" d="M4233 3204l26-26-23-25-25 26z"/><path class="c29" d="M4014 3273l26-35-23-17-26 35z"/><path class="c36" d="M4282 3204l25-24-22-26-26 24z"/><path class="c25" d="M4621 3320l26-11-23-46-26 11z"/><path class="c35" d="M4330 3209l26-22-23-29-26 22z"/><path class="c28" d="M4573 3287l25-13-23-39-25 13z"/><path class="c35" d="M4379 3217l25-21-22-30-26 21z"/><path class="c30" d="M4524 3263l26-15-23-36-26 15z"/><path class="c31" d="M4062 3257l26-33-23-19-25 33z"/><path class="c34" d="M4427 3228l26-18-23-32-26 18z"/><path class="c32" d="M4476 3243l25-16-23-34-25 17zM4111 3244l25-30-22-21-26 31z"/><path class="c24" d="M3940 3338l26-44-23-15-26 45z"/><path class="c33" d="M4159 3236l26-29-23-23-26 30z"/><path class="c26" d="M3988 3310l26-37-23-17-25 38z"/><path class="c33" d="M4208 3231l25-27-22-25-26 28z"/><path class="c34" d="M4256 3230l26-26-23-26-26 26z"/><path class="c33" d="M4305 3232l25-23-23-29-25 24z"/><path class="c28" d="M4037 3291l25-34-22-19-26 35z"/><path class="c25" d="M4596 3332l25-12-23-46-25 13z"/><path class="c33" d="M4353 3238l26-21-23-30-26 22z"/><path class="c27" d="M4547 3301l26-14-23-39-26 15z"/><path class="c32" d="M4402 3248l25-20-23-32-25 21z"/><path class="c29" d="M4499 3279l25-16-23-36-25 16z"/><path class="c31" d="M4450 3261l26-18-23-33-26 18z"/><path class="c29" d="M4085 3277l26-33-23-20-26 33z"/><path class="c30" d="M4134 3266l25-30-23-22-25 30z"/><path class="c22" d="M3963 3354l25-44-22-16-26 44z"/><path class="c31" d="M4182 3260l26-29-23-24-26 29zM4231 3257l25-27-23-26-25 27z"/><path class="c25" d="M4011 3328l26-37-23-18-26 37z"/><path class="c31" d="M4279 3257l26-25-23-28-26 26zM4328 3261l25-23-23-29-25 23z"/><path class="c24" d="M4570 3346l26-14-23-45-26 14z"/><path class="c30" d="M4376 3269l26-21-23-31-26 21z"/><path class="c27" d="M4060 3311l25-34-23-20-25 34z"/><path class="c26" d="M4522 3317l25-16-23-38-25 16z"/><path class="c29" d="M4425 3281l25-20-23-33-25 20z"/><path class="c28" d="M4473 3296l26-17-23-36-26 18zM4108 3298l26-32-23-22-26 33z"/><path class="c29" d="M4157 3290l25-30-23-24-25 30z"/><path class="c21" d="M3986 3372l25-44-23-18-25 44z"/><path class="c29" d="M4205 3285l26-28-23-26-26 29zM4254 3284l25-27-23-27-25 27zM4302 3286l26-25-23-29-26 25z"/><path class="c24" d="M4034 3348l26-37-23-20-26 37z"/><path class="c29" d="M4351 3292l25-23-23-31-25 23z"/><path class="c22" d="M4545 3361l25-15-23-45-25 16z"/><path class="c28" d="M4399 3302l26-21-23-33-26 21z"/><path class="c25" d="M4496 3334l26-17-23-38-26 17z"/><path class="c27" d="M4448 3316l25-20-23-35-25 20z"/><path class="c25" d="M4083 3332l25-34-23-21-25 34z"/><path class="c26" d="M4131 3321l26-31-23-24-26 32z"/><path class="c27" d="M4180 3315l25-30-23-25-25 30zM4228 3312l26-28-23-27-26 28z"/><path class="c20" d="M4009 3391l25-43-23-20-25 44z"/><path class="c27" d="M4277 3312l25-26-23-29-25 27zM4325 3316l26-24-23-31-26 25z"/><path class="c21" d="M4519 3378l26-17-23-44-26 17z"/><path class="c26" d="M4374 3324l25-22-23-33-25 23z"/><path class="c22" d="M4057 3368l26-36-23-21-26 37z"/><path class="c25" d="M4422 3336l26-20-23-35-26 21z"/><path class="c24" d="M4471 3353l25-19-23-38-25 20z"/><path class="c23" d="M4106 3355l25-34-23-23-25 34z"/><path class="c24" d="M4154 3346l26-31-23-25-26 31z"/><path class="c25" d="M4203 3341l25-29-23-27-25 30zM4251 3339l26-27-23-28-26 28z"/><path class="c18" d="M4032 3411l25-43-23-20-25 43z"/><path class="c25" d="M4300 3342l25-26-23-30-25 26z"/><path class="c24" d="M4348 3348l26-24-23-32-26 24z"/><path class="c20" d="M4494 3396l25-18-23-44-25 19z"/><path class="c23" d="M4397 3358l25-22-23-34-25 22z"/><path class="c22" d="M4445 3373l26-20-23-37-26 20z"/><path class="c20" d="M4080 3390l26-35-23-23-26 36z"/><path class="c22" d="M4129 3379l25-33-23-25-25 34zM4177 3371l26-30-23-26-26 31z"/><path class="c23" d="M4226 3368l25-29-23-27-25 29zM4274 3369l26-27-23-30-26 27z"/><path class="c22" d="M4323 3373l25-25-23-32-25 26z"/><path class="c17" d="M4055 3432l25-42-23-22-25 43z"/><path class="c22" d="M4371 3381l26-23-23-34-26 24z"/><path class="c18" d="M4468 3416l26-20-23-43-26 20z"/><path class="c20" d="M4419 3394l26-21-23-37-25 22z"/><path class="c19" d="M4103 3414l26-35-23-24-26 35z"/><path class="c20" d="M4152 3404l25-33-23-25-25 33zM4200 3398l26-30-23-27-26 30zM4248 3397l26-28-23-30-25 29zM4297 3399l26-26-23-31-26 27zM4345 3406l26-25-23-33-25 25z"/><path class="c17" d="M4442 3437l26-21-23-43-26 21z"/><path class="c19" d="M4394 3417l25-23-22-36-26 23z"/><path class="c15" d="M4078 3455l25-41-23-24-25 42z"/><path class="c17" d="M4126 3438l26-34-23-25-26 35z"/><path class="c18" d="M4174 3430l26-32-23-27-25 33zM4223 3427l25-30-22-29-26 30zM4271 3427l26-28-23-30-26 28zM4320 3432l25-26-22-33-26 26z"/><path class="c17" d="M4368 3441l26-24-23-36-26 25z"/><path class="c15" d="M4417 3459l25-22-23-43-25 23z"/><path class="c13" d="M4100 3479l26-41-23-24-25 41z"/><path class="c15" d="M4149 3464l25-34-22-26-26 34zM4197 3458l26-31-23-29-26 32z"/><path class="c16" d="M4246 3456l25-29-23-30-25 30z"/><path class="c15" d="M4294 3459l26-27-23-33-26 28zM4343 3466l25-25-23-35-25 26z"/><path class="c13" d="M4391 3482l26-23-23-42-26 24z"/><path class="c11" d="M4123 3504l26-40-23-26-26 41z"/><path class="c13" d="M4172 3491l25-33-23-28-25 34zM4220 3487l26-31-23-29-26 31zM4269 3487l25-28-23-32-25 29zM4317 3493l26-27-23-34-26 27z"/><path class="c11" d="M4366 3507l25-25-23-41-25 25z"/><path class="c9" d="M4146 3530l26-39-23-27-26 40z"/><path class="c10" d="M4195 3520l25-33-23-29-25 33z"/><path class="c11" d="M4243 3517l26-30-23-31-26 31z"/><path class="c10" d="M4292 3521l25-28-23-34-25 28z"/><path class="c9" d="M4340 3533l26-26-23-41-26 27z"/><path class="c7" d="M4169 3558l26-38-23-29-26 39z"/><path class="c8" d="M4218 3549l25-32-23-30-25 33zM4266 3550l26-29-23-34-26 30z"/><path class="c7" d="M4315 3560l25-27-23-40-25 28z"/><path class="c5" d="M4192 3587l26-38-23-29-26 38zM4241 3581l25-31-23-33-25 32zM4289 3588l26-28-23-39-26 29z"/><path class="c2" d="M4215 3618l26-37-23-32-26 38zM4264 3619l25-31-23-38-25 31z"/><path class="c0" d="M4238 3654l26-35-23-38-26 37z"/></g><line x1="423.8" y1="395.6" x2="526.0" y2="381.4" class="ax"/><line x1="423.8" y1="395.6" x2="332.1" y2="379.1" class="ax"/><line x1="332.1" y1="379.1" x2="332.1" y2="258.4" class="ax"/><line x1="332.1" y1="379.1" x2="329.7" y2="379.1" class="ax"/><line x1="332.1" y1="348.9" x2="329.7" y2="348.9" class="ax"/><line x1="332.1" y1="318.8" x2="329.7" y2="318.8" class="ax"/><line x1="332.1" y1="288.6" x2="329.7" y2="288.6" class="ax"/><line x1="332.1" y1="258.4" x2="329.7" y2="258.4" class="ax"/><line x1="423.8" y1="395.6" x2="426.2" y2="396.0" class="ax"/><line x1="423.8" y1="395.6" x2="421.4" y2="395.9" class="ax"/><line x1="474.9" y1="388.5" x2="477.3" y2="388.9" class="ax"/><line x1="378.0" y1="387.4" x2="375.6" y2="387.7" class="ax"/><line x1="526.0" y1="381.4" x2="528.4" y2="381.8" class="ax"/><line x1="332.1" y1="379.1" x2="329.7" y2="379.4" class="ax"/><text x="31.9" y="42.9" font-size="12.2" text-anchor="end">3</text><text x="31.9" y="72.1" font-size="12.2" text-anchor="end">2</text><text x="31.9" y="102.0" font-size="12.2" text-anchor="end">1</text><text x="31.9" y="129.0" font-size="12.2" text-anchor="end">0</text><text x="316.3" y="27.8" font-size="13.3" text-anchor="end">40</text><text x="316.3" y="55.3" font-size="13.3" text-anchor="end">30</text><text x="316.3" y="80.8" font-size="13.3" text-anchor="end">20</text><text x="316.3" y="106.0" font-size="13.3" text-anchor="end">10</text><text x="316.3" y="129.9" font-size="13.3" text-anchor="end">0</text><text x="316.3" y="152.3" font-size="13.3" text-anchor="end">&#8722;10</text><text x="36.3" y="264.8" font-size="12.9" text-anchor="end">40</text><text x="36.3" y="290.6" font-size="12.9" text-anchor="end">30</text><text x="36.3" y="316.2" font-size="12.9" text-anchor="end">20</text><text x="36.3" y="339.6" font-size="12.9" text-anchor="end">10</text><text x="36.3" y="363.4" font-size="12.9" text-anchor="end">0</text><text x="36.3" y="383.4" font-size="12.9" text-anchor="end">&#8722;10</text><text x="322.4" y="264.8" font-size="14.3" text-anchor="end">12</text><text x="322.4" y="293.8" font-size="14.3" text-anchor="end">10</text><text x="322.4" y="323.6" font-size="14.3" text-anchor="end">8</text><text x="322.4" y="354.0" font-size="14.3" text-anchor="end">6</text><text x="322.4" y="387.6" font-size="14.3" text-anchor="end">4</text><text x="29.2" y="144.3" font-size="12.2" text-anchor="middle">4</text><text x="75.0" y="164.6" font-size="12.2" text-anchor="middle">2</text><text x="118.0" y="186.8" font-size="12.2" text-anchor="middle">0</text><text x="136.6" y="185.5" font-size="12.2" text-anchor="middle">0</text><text x="194.6" y="171.7" font-size="12.2" text-anchor="middle">2</text><text x="250.4" y="157.1" font-size="12.2" text-anchor="middle">4</text><text x="311.4" y="165.9" font-size="13.3" text-anchor="middle">4</text><text x="370.5" y="175.0" font-size="13.3" text-anchor="middle">2</text><text x="425.0" y="185.5" font-size="13.3" text-anchor="middle">0</text><text x="442.3" y="185.5" font-size="13.3" text-anchor="middle">0</text><text x="488.6" y="175.0" font-size="13.3" text-anchor="middle">2</text><text x="541.0" y="156.5" font-size="13.3" text-anchor="middle">4</text><text x="32.0" y="397.9" font-size="12.9" text-anchor="middle">4</text><text x="90.0" y="406.9" font-size="12.9" text-anchor="middle">2</text><text x="141.0" y="416.9" font-size="12.9" text-anchor="middle">0</text><text x="159.0" y="416.9" font-size="12.9" text-anchor="middle">0</text><text x="202.5" y="406.9" font-size="12.9" text-anchor="middle">2</text><text x="254.0" y="389.4" font-size="12.9" text-anchor="middle">4</text><text x="331.0" y="397.2" font-size="14.0" text-anchor="middle">4</text><text x="369.0" y="404.7" font-size="14.0" text-anchor="middle">2</text><text x="416.5" y="410.7" font-size="14.0" text-anchor="middle">0</text><text x="435.0" y="410.7" font-size="14.0" text-anchor="middle">0</text><text x="485.0" y="405.7" font-size="14.0" text-anchor="middle">2</text><text x="534.0" y="397.2" font-size="14.0" text-anchor="middle">4</text><text x="17.2" y="186.2" font-size="11.5">y</text><text x="30.1" y="186.2" font-size="11.5" textLength="51.3" lengthAdjust="spacingAndGlyphs">(width/m)</text><text x="170.9" y="186.2" font-size="11.5">x</text><text x="183.0" y="186.2" font-size="11.5" textLength="53.1" lengthAdjust="spacingAndGlyphs">(length/m)</text><text x="321.6" y="191.8" font-size="11.5">y</text><text x="335.1" y="191.8" font-size="11.5" textLength="53.7" lengthAdjust="spacingAndGlyphs">(width/m)</text><text x="471.6" y="191.8" font-size="11.5">x</text><text x="484.1" y="191.8" font-size="11.5" textLength="54.7" lengthAdjust="spacingAndGlyphs">(length/m)</text><text x="42.3" y="421.7" font-size="11.5">y</text><text x="55.1" y="421.7" font-size="11.5" textLength="51.1" lengthAdjust="spacingAndGlyphs">(width/m)</text><text x="185.8" y="421.7" font-size="11.5">x</text><text x="197.9" y="421.7" font-size="11.5" textLength="53.3" lengthAdjust="spacingAndGlyphs">(length/m)</text><text x="318.8" y="419.8" font-size="11.5">y</text><text x="331.9" y="419.8" font-size="11.5" textLength="52.3" lengthAdjust="spacingAndGlyphs">(width/m)</text><text x="463.8" y="419.8" font-size="11.5">x</text><text x="476.3" y="419.8" font-size="11.5" textLength="54.9" lengthAdjust="spacingAndGlyphs">(length/m)</text><text transform="translate(20.5 104.9) rotate(-90)" font-size="11.5" textLength="8.4" lengthAdjust="spacingAndGlyphs">Q</text><text transform="translate(20.5 88.2) rotate(-90)" font-size="11.5" textLength="22.6" lengthAdjust="spacingAndGlyphs">(kN)</text><text transform="translate(295.9 125.1) rotate(-90)" font-size="11.5" textLength="10.0" lengthAdjust="spacingAndGlyphs">M</text><text transform="translate(295.9 111.4) rotate(-90)" font-size="11.5" textLength="40.4" lengthAdjust="spacingAndGlyphs">(kN&#183;m)</text><text transform="translate(16.8 358.6) rotate(-90)" font-size="11.5" textLength="9.7" lengthAdjust="spacingAndGlyphs">M</text><text transform="translate(16.8 344.5) rotate(-90)" font-size="11.5" textLength="39.3" lengthAdjust="spacingAndGlyphs">(kN&#183;m)</text><text transform="translate(302.8 350.3) rotate(-90)" font-size="11.5" textLength="8.2" lengthAdjust="spacingAndGlyphs">w</text><text transform="translate(302.8 333.3) rotate(-90)" font-size="11.5" textLength="27.9" lengthAdjust="spacingAndGlyphs">(mm)</text><text x="135.5" y="219.4" font-size="13" text-anchor="middle">(<tspan font-weight="bold">a</tspan>)</text><text x="418.2" y="220.3" font-size="13" text-anchor="middle">(<tspan font-weight="bold">b</tspan>)</text><text x="135.0" y="449.5" font-size="13" text-anchor="middle">(<tspan font-weight="bold">c</tspan>)</text><text x="419.0" y="449.0" font-size="13" text-anchor="middle">(<tspan font-weight="bold">d</tspan>)</text></svg></body></html>
